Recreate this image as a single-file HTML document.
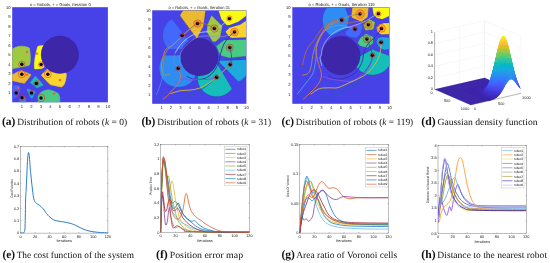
<!DOCTYPE html>
<html><head><meta charset="utf-8"><title>Figure</title>
<style>
html,body{margin:0;padding:0;background:#fff}
body{width:550px;height:263px;overflow:hidden;position:relative}
svg{position:absolute;left:0;top:0;display:block}
</style></head><body>
<svg width="550" height="263" viewBox="0 0 550 263" text-rendering="geometricPrecision">
<rect width="550" height="263" fill="#fff"/>
<defs><filter id="bl" x="0" y="0" width="550" height="263" filterUnits="userSpaceOnUse"><feGaussianBlur stdDeviation="0.4"/></filter></defs>
<g filter="url(#bl)">
<g>
<rect x="12.2" y="7.2" width="95.7" height="95.1" fill="#4743e7"/>
<clipPath id="vc12"><rect x="12.2" y="7.2" width="95.7" height="95.1"/></clipPath>
<g clip-path="url(#vc12)">
<path d="M12.2 49.3 L14.5 47.8 L16.8 46.9 L19 46.4 L21.4 46.2 L24 46.4 L26.3 46.9 L28.6 47.6 L29.4 48.2 L29.8 51.1 L30.3 55.7 L30.3 60.2 L29.8 64 L29 65.3 L24.8 66.3 L18 67.6 L12.2 68.6Z" fill="#9fc942" stroke="#9fc942" stroke-width="0.7" stroke-linejoin="round"/>
<path d="M38.2 46.2 L43.6 45.5 L46 50 L46 60 L43.6 67.4 L41.4 68.4 L35 68.9 L34.6 68.4 L34.4 64.8 L35.1 58 L36.6 51.1 L37.6 47Z" fill="#f9fb15" stroke="#f9fb15" stroke-width="0.7" stroke-linejoin="round"/>
<path d="M12.2 74.8 L18 71.9 L21.4 70.5 L26 72.4 L31 74.8 L28.2 78.6 L24.4 83.2 L18 81.9 L12.2 80.5Z" fill="#eaba31" stroke="#eaba31" stroke-width="0.7" stroke-linejoin="round"/>
<path d="M41.4 75 L46.4 70.2 L50 66 L60 66 L66.2 73.8 L66.2 76 L65.5 80.5 L64 84.5 L62 86.8 L60.5 86.8 L50.3 84.6 L46 80.2Z" fill="#fad42e" stroke="#fad42e" stroke-width="0.7" stroke-linejoin="round"/>
<path d="M30.4 82.6 L35.4 76.2 L43.2 85 L37 87.7Z" fill="#12beb9" stroke="#12beb9" stroke-width="0.7" stroke-linejoin="round"/>
<path d="M12.2 85.9 L19.4 85.7 L19.9 89.9 L18.9 93.9 L16.9 97.3 L12.2 98.3Z" fill="#4367fd" stroke="#4367fd" stroke-width="0.7" stroke-linejoin="round"/>
<path d="M19.7 98.6 L21.9 96.2 L24.9 97.5 L25.8 102.3 L19.4 102.3Z" fill="#2d8cf3" stroke="#2d8cf3" stroke-width="0.7" stroke-linejoin="round"/>
<path d="M27 89.1 L35.3 91.5 L32.1 98.3 L30.3 97Z" fill="#1caadf" stroke="#1caadf" stroke-width="0.7" stroke-linejoin="round"/>
<path d="M38.2 102.3 L38 96.3 L39.4 94 L41.2 92.2 L43.8 90.9 L46.5 90.1 L49.6 89.9 L54 91.3 L58.3 93.6 L59.7 97.2 L59.8 102.3Z" fill="#48cb86" stroke="#48cb86" stroke-width="0.7" stroke-linejoin="round"/>
<circle cx="59.9" cy="54.7" r="19" fill="#3e26a8"/>
</g>
<path d="M25.6 52h2.8M27 50.6v2.8M26 51l2 2M26 53l2 -2" stroke="#f0601e" stroke-width="0.6" fill="none"/>
<path d="M35.5 53.7h2.8M36.9 52.3v2.8M35.9 52.7l2 2M35.9 54.7l2 -2" stroke="#f0601e" stroke-width="0.6" fill="none"/>
<path d="M25.5 74.7h2.8M26.9 73.3v2.8M25.9 73.7l2 2M25.9 75.7l2 -2" stroke="#f0601e" stroke-width="0.6" fill="none"/>
<path d="M58.6 80.1h2.8M60 78.7v2.8M59 79.1l2 2M59 81.1l2 -2" stroke="#f0601e" stroke-width="0.6" fill="none"/>
<path d="M36.4 81.4h2.8M37.8 80v2.8M36.8 80.4l2 2M36.8 82.4l2 -2" stroke="#f0601e" stroke-width="0.6" fill="none"/>
<path d="M16.6 87.8h2.8M18 86.4v2.8M17 86.8l2 2M17 88.8l2 -2" stroke="#f0601e" stroke-width="0.6" fill="none"/>
<path d="M52.8 93.6h2.8M54.2 92.2v2.8M53.2 92.6l2 2M53.2 94.6l2 -2" stroke="#f0601e" stroke-width="0.6" fill="none"/>
<path d="M31.2 92h2.8M32.6 90.6v2.8M31.6 91l2 2M31.6 93l2 -2" stroke="#f0601e" stroke-width="0.6" fill="none"/>
<path d="M22 97.2h2.8M23.4 95.8v2.8M22.4 96.2l2 2M22.4 98.2l2 -2" stroke="#f0601e" stroke-width="0.6" fill="none"/>
<circle cx="21.8" cy="64.3" r="3.2" fill="none" stroke="#e0201c" stroke-width="0.5"/>
<circle cx="21.8" cy="64.3" r="1.75" fill="#080408"/>
<circle cx="41.1" cy="64.5" r="2.6" fill="none" stroke="#e0201c" stroke-width="0.5"/>
<circle cx="41.1" cy="64.5" r="1.75" fill="#080408"/>
<circle cx="21.8" cy="74.2" r="3.5" fill="none" stroke="#e0201c" stroke-width="0.5"/>
<circle cx="21.8" cy="74.2" r="1.75" fill="#080408"/>
<circle cx="47.8" cy="74.2" r="3.5" fill="none" stroke="#e0201c" stroke-width="0.5"/>
<circle cx="47.8" cy="74.2" r="1.75" fill="#080408"/>
<circle cx="36.3" cy="83.5" r="2.4" fill="none" stroke="#e0201c" stroke-width="0.5"/>
<circle cx="36.3" cy="83.5" r="1.75" fill="#080408"/>
<circle cx="16.2" cy="93.1" r="3.1" fill="none" stroke="#e0201c" stroke-width="0.5"/>
<circle cx="16.2" cy="93.1" r="1.75" fill="#080408"/>
<circle cx="22" cy="97.8" r="3.1" fill="none" stroke="#e0201c" stroke-width="0.5"/>
<circle cx="22" cy="97.8" r="1.75" fill="#080408"/>
<circle cx="31.5" cy="93" r="2.6" fill="none" stroke="#e0201c" stroke-width="0.5"/>
<circle cx="31.5" cy="93" r="1.75" fill="#080408"/>
<circle cx="41" cy="97.9" r="3.8" fill="none" stroke="#e0201c" stroke-width="0.5"/>
<circle cx="41" cy="97.9" r="1.75" fill="#080408"/>
<text x="21.8" y="107.9" font-family="'Liberation Sans', Arial, sans-serif" font-size="4.2" fill="#1c1c1c" text-anchor="middle">1</text>
<text x="31.3" y="107.9" font-family="'Liberation Sans', Arial, sans-serif" font-size="4.2" fill="#1c1c1c" text-anchor="middle">2</text>
<text x="40.9" y="107.9" font-family="'Liberation Sans', Arial, sans-serif" font-size="4.2" fill="#1c1c1c" text-anchor="middle">3</text>
<text x="50.5" y="107.9" font-family="'Liberation Sans', Arial, sans-serif" font-size="4.2" fill="#1c1c1c" text-anchor="middle">4</text>
<text x="60" y="107.9" font-family="'Liberation Sans', Arial, sans-serif" font-size="4.2" fill="#1c1c1c" text-anchor="middle">5</text>
<text x="69.6" y="107.9" font-family="'Liberation Sans', Arial, sans-serif" font-size="4.2" fill="#1c1c1c" text-anchor="middle">6</text>
<text x="79.2" y="107.9" font-family="'Liberation Sans', Arial, sans-serif" font-size="4.2" fill="#1c1c1c" text-anchor="middle">7</text>
<text x="88.8" y="107.9" font-family="'Liberation Sans', Arial, sans-serif" font-size="4.2" fill="#1c1c1c" text-anchor="middle">8</text>
<text x="98.3" y="107.9" font-family="'Liberation Sans', Arial, sans-serif" font-size="4.2" fill="#1c1c1c" text-anchor="middle">9</text>
<text x="107.9" y="107.9" font-family="'Liberation Sans', Arial, sans-serif" font-size="4.2" fill="#1c1c1c" text-anchor="middle">10</text>
<text x="10.6" y="94.2" font-family="'Liberation Sans', Arial, sans-serif" font-size="4.2" fill="#1c1c1c" text-anchor="end">1</text>
<text x="10.6" y="84.7" font-family="'Liberation Sans', Arial, sans-serif" font-size="4.2" fill="#1c1c1c" text-anchor="end">2</text>
<text x="10.6" y="75.2" font-family="'Liberation Sans', Arial, sans-serif" font-size="4.2" fill="#1c1c1c" text-anchor="end">3</text>
<text x="10.6" y="65.7" font-family="'Liberation Sans', Arial, sans-serif" font-size="4.2" fill="#1c1c1c" text-anchor="end">4</text>
<text x="10.6" y="56.1" font-family="'Liberation Sans', Arial, sans-serif" font-size="4.2" fill="#1c1c1c" text-anchor="end">5</text>
<text x="10.6" y="46.6" font-family="'Liberation Sans', Arial, sans-serif" font-size="4.2" fill="#1c1c1c" text-anchor="end">6</text>
<text x="10.6" y="37.1" font-family="'Liberation Sans', Arial, sans-serif" font-size="4.2" fill="#1c1c1c" text-anchor="end">7</text>
<text x="10.6" y="27.6" font-family="'Liberation Sans', Arial, sans-serif" font-size="4.2" fill="#1c1c1c" text-anchor="end">8</text>
<text x="10.6" y="18.1" font-family="'Liberation Sans', Arial, sans-serif" font-size="4.2" fill="#1c1c1c" text-anchor="end">9</text>
<text x="10.6" y="8.6" font-family="'Liberation Sans', Arial, sans-serif" font-size="4.2" fill="#1c1c1c" text-anchor="end">10</text>
<text x="29.9" y="5.8" font-family="'Liberation Sans', Arial, sans-serif" font-size="4.15" fill="#1c1c1c" textLength="60.8" lengthAdjust="spacingAndGlyphs">o = Robots, + = Goals, Iteration 0</text>
</g>
<g>
<rect x="152.2" y="10.3" width="94.2" height="93.5" fill="#4743e7"/>
<clipPath id="vc152"><rect x="152.2" y="10.3" width="94.2" height="93.5"/></clipPath>
<g clip-path="url(#vc152)">
<path d="M184.9 35.5 L185 35.6 L185.1 35.8 L185.2 35.9 L185.3 36.1 L185.5 36.2 L185.6 36.4 L185.8 36.7 L186 36.9 L186.2 37.2 L186.4 37.5 L186.7 37.9 L187.1 38.4 L187.5 39 L188.1 39.7 L188.8 40.7 L189.9 42 L191.4 44 L193.9 47.3 L195 49.6 L193.9 49.6 L192.9 49.6 L192 49.6 L191.1 49.6 L190.2 49.6 L189.4 49.6 L188.7 49.6 L187.9 49.6 L187.2 49.6 L186.5 49.6 L185.9 49.6 L185.2 49.6 L184.6 49.6 L184 49.6 L183.3 49.6 L182.7 49.6 L182.1 49.6 L181.5 49.6 L180.9 49.6 L180.2 49.6 L179.6 49.6 L179 49.6 L178.3 49.6 L177.7 49.6 L177 49.6 L176.3 49.6 L175.5 49.6 L174.8 49.6 L174 49.6 L173.1 49.6 L172.2 49.6 L171.3 49.6 L170.3 49.6 L169.2 49.6 L168.3 49.3 L167.7 48.7 L167.2 48 L166.6 47.4 L166.1 46.7 L165.7 46 L165.2 45.3 L164.8 44.5 L164.4 43.7 L164.1 43 L163.8 42.2 L163.5 41.4 L163.3 40.5 L163.1 39.7 L162.9 38.9 L162.8 38 L162.7 37.2 L162.6 36.4 L162.6 35.5 L162.6 34.6 L162.7 33.8 L162.8 33 L162.9 32.1 L163.1 31.3 L163.3 30.5 L163.5 29.6 L163.8 28.8 L164.1 28 L164.4 27.3 L164.8 26.5 L165.2 25.8 L165.7 25 L166.1 24.3 L166.6 23.6 L167.2 23 L167.7 22.3 L168.3 21.7 L168.9 21.1 L169.6 20.6 L170.2 20 L170.9 19.5 L171.6 19.1 L173.5 20.6 L176.1 24.1 L177.7 26.1 L178.8 27.5 L179.6 28.5 L180.1 29.3 L180.6 29.9 L181 30.4 L181.3 30.8 L181.5 31.1 L181.7 31.4 L181.9 31.6 L182.1 31.9 L182.3 32 L182.4 32.2 L182.5 32.4 L182.6 32.5 L182.7 32.7 L182.8 32.8 L182.9 32.9 L183 33 L183.1 33.1 L183.2 33.2 L183.2 33.3 L183.3 33.4 L183.4 33.5 L183.4 33.6 L183.5 33.7 L183.6 33.8 L183.6 33.8 L183.7 33.9 L183.7 34 L183.8 34.1 L183.9 34.2 L183.9 34.2 L184 34.3 L184 34.4 L184.1 34.5 L184.2 34.5 L184.2 34.6 L184.3 34.7 L184.3 34.8 L184.4 34.9 L184.5 35 L184.6 35.1 L184.6 35.2 L184.7 35.3 L184.8 35.4Z" fill="#4367fd" stroke="#20205a" stroke-opacity="0.5" stroke-width="0.35" stroke-linejoin="round"/>
<path d="M203.8 23.5 L203.7 23.8 L203.7 24 L203.7 24.3 L203.6 24.6 L203.6 24.8 L203.6 25.1 L203.5 25.4 L203.5 25.7 L203.4 26 L203.4 26.2 L203.2 26.5 L203.1 26.7 L203 27 L202.9 27.2 L202.7 27.5 L202.6 27.8 L202.4 28 L202.3 28.3 L202.2 28.6 L202 28.9 L201.8 29.2 L201.7 29.5 L201.5 29.8 L201.3 30.1 L201.1 30.5 L200.9 30.9 L200.7 31.3 L200.5 31.7 L200.2 32.2 L200 32.7 L199.7 33.3 L199.3 33.9 L199 34.6 L198.5 35.5 L198.1 36.4 L197.5 37.4 L196.8 38.7 L196.2 37.9 L195.7 37.1 L195.2 36.5 L194.8 35.9 L194.3 35.3 L194 34.8 L193.6 34.3 L193.2 33.8 L192.9 33.3 L192.6 32.9 L192.3 32.5 L192 32.1 L191.7 31.7 L191.5 31.4 L191.2 31 L190.9 30.7 L190.7 30.3 L190.4 30 L190.2 29.6 L190 29.3 L189.7 29 L189.5 28.6 L189.2 28.3 L189 27.9 L188.7 27.6 L188.5 27.2 L188.2 26.9 L187.9 26.5 L187.6 26.1 L187.4 25.7 L187.1 25.3 L186.7 24.9 L186.4 24.5 L186.1 24 L185.7 23.5 L185.3 23 L184.9 22.4 L184.5 21.8 L184 21.1 L183.4 20.4 L182.8 19.6 L182.2 18.7 L181.4 17.7 L180.6 16.5 L180 15.3 L180.4 14.6 L180.8 13.8 L181.2 13.1 L181.7 12.4 L182.2 11.8 L182.7 11.1 L183.3 10.5 L184.3 10.3 L185.4 10.3 L186.4 10.3 L187.4 10.3 L188.3 10.3 L189.1 10.3 L189.9 10.3 L190.6 10.3 L191.3 10.3 L192 10.3 L192.7 10.3 L193.3 10.3 L194 10.3 L194.6 10.3 L195.2 10.3 L195.8 10.3 L196.3 10.3 L196.9 10.3 L197.5 10.3 L198.1 10.3 L198.7 10.3 L199.2 10.3 L199.8 10.3 L200.4 10.3 L201 10.3 L201.7 10.3 L202.3 10.3 L203 10.3 L203.7 10.3 L204.4 10.3 L205.1 10.3 L205.5 10.9 L205.3 12.3 L205.2 13.5 L205 14.5 L204.9 15.4 L204.8 16.2 L204.7 16.9 L204.6 17.5 L204.5 18.1 L204.5 18.6 L204.4 19.1 L204.3 19.6 L204.3 20 L204.2 20.4 L204.2 20.7 L204.1 21.1 L204.1 21.4 L204 21.8 L204 22.1 L203.9 22.4 L203.9 22.7 L203.9 22.9 L203.8 23.2Z" fill="#eaba31" stroke="#20205a" stroke-opacity="0.5" stroke-width="0.35" stroke-linejoin="round"/>
<path d="M211.5 15.3 L222.4 26.2 L220.2 37.2 L215.7 41.8 L212.6 41.8 L206.6 31.7 L207.5 24.4Z" fill="#9fc942" stroke="#20205a" stroke-opacity="0.5" stroke-width="0.35" stroke-linejoin="round"/>
<path d="M218.4 10.3 L246.4 10.3 L246.4 15.7 L238.5 21.7 L229.4 25.3 L226.6 25.3 L221.2 18.9Z" fill="#f9fb15" stroke="#20205a" stroke-opacity="0.5" stroke-width="0.35" stroke-linejoin="round"/>
<path d="M225.4 31.7 L229.4 27.7 L240.3 24.4 L246.4 20.4 L246.4 37.6 L232.1 38.1 L229.4 37.2Z" fill="#fad42e" stroke="#20205a" stroke-opacity="0.5" stroke-width="0.35" stroke-linejoin="round"/>
<path d="M216.2 46.3 L224 39.9 L246.4 39.4 L246.4 56.2 L229.1 58 L220.1 55.4Z" fill="#48cb86" stroke="#20205a" stroke-opacity="0.5" stroke-width="0.35" stroke-linejoin="round"/>
<path d="M246.4 64.4 L246.4 65.1 L246.4 65.8 L246.4 66.5 L246.4 67.3 L246.4 68 L246.4 68.7 L246.4 69.5 L246.4 70.3 L246.4 71.1 L246.4 72 L246.4 72.8 L246.4 73.8 L246.4 74.7 L246 75.5 L245.5 76.1 L245 76.8 L244.4 77.4 L243.8 78 L243.2 78.6 L242.6 79.2 L241.9 79.7 L241.3 80.2 L240.6 80.7 L239.8 81.1 L239.1 81.5 L238.1 81.4 L236.6 79.9 L235.4 78.7 L234.4 77.7 L233.5 76.8 L232.8 76.1 L232.1 75.4 L231.6 74.8 L231.1 74.3 L230.6 73.9 L230.2 73.5 L229.8 73.1 L229.5 72.7 L229.1 72.4 L228.8 72.1 L228.6 71.8 L228.3 71.5 L228 71.3 L227.8 71 L227.6 70.8 L227.3 70.6 L227.1 70.3 L226.9 70.1 L226.7 69.9 L226.5 69.7 L226.3 69.5 L226.1 69.3 L225.9 69.1 L225.7 68.9 L225.5 68.7 L225.3 68.5 L225.1 68.3 L224.9 68.1 L224.7 67.9 L224.5 67.7 L224.3 67.5 L224 67.3 L223.8 67 L223.6 66.8 L223.3 66.6 L223.1 66.3 L222.8 66 L222.5 65.8 L222.2 65.4 L221.9 65.1 L221.6 64.8 L221.2 64.4 L220.8 64 L220.3 63.5 L219.8 63 L219.3 62.5 L218.6 61.8 L217.9 61.1 L218.5 60.7 L219.9 60.6 L221 60.6 L222 60.6 L222.8 60.5 L223.5 60.5 L224.1 60.5 L224.6 60.5 L225.1 60.5 L225.5 60.4 L225.9 60.4 L226.2 60.4 L226.5 60.4 L226.8 60.4 L227.1 60.4 L227.4 60.4 L227.6 60.4 L227.9 60.4 L228.1 60.3 L228.3 60.3 L228.5 60.3 L228.7 60.3 L228.9 60.3 L229.1 60.3 L229.3 60.3 L229.5 60.3 L229.7 60.3 L229.8 60.3 L230 60.3 L230.2 60.3 L230.4 60.3 L230.6 60.3 L230.7 60.3 L230.9 60.2 L231.1 60.2 L231.3 60.2 L231.5 60.2 L231.7 60.2 L231.9 60.2 L232.2 60.2 L232.4 60.2 L232.6 60.2 L232.9 60.2 L233.2 60.2 L233.5 60.2 L233.8 60.1 L234.1 60.1 L234.5 60.1 L234.9 60.1 L235.3 60.1 L235.8 60.1 L236.4 60 L237.1 60 L237.8 60 L238.7 60 L239.8 59.9 L241.1 59.9 L242.8 59.8 L245 59.7 L246.4 60.1 L246.4 60.8 L246.4 61.5 L246.4 62.3 L246.4 63 L246.4 63.7Z" fill="#1caadf" stroke="#20205a" stroke-opacity="0.5" stroke-width="0.35" stroke-linejoin="round"/>
<path d="M225.3 77.3 L225.5 77.7 L225.8 78.1 L226 78.5 L226.3 79 L226.6 79.5 L226.9 80.1 L227.3 80.7 L227.6 81.3 L228.1 82.1 L228.6 82.9 L229.1 83.8 L229.7 84.9 L230.5 86.1 L231.3 87.6 L231.9 89 L231.4 89.7 L230.8 90.3 L230.2 90.9 L229.6 91.5 L229 92.1 L228.3 92.6 L227.7 93.1 L227 93.6 L226.2 94 L225.5 94.4 L224.8 94.8 L224 95.1 L223.2 95.4 L222.4 95.7 L221.6 95.9 L220.8 96.1 L220 96.3 L219.1 96.4 L218.3 96.5 L217.4 96.6 L216.6 96.6 L215.8 96.6 L214.9 96.5 L214.1 96.4 L213.2 96.3 L212.4 96.1 L211.6 95.9 L210.8 95.7 L210 95.4 L209.2 95.1 L208.4 94.8 L207.7 94.4 L206.9 94 L206.2 93.6 L205.5 93.1 L204.9 92.6 L204.2 92.1 L203.6 91.5 L203 90.9 L202.4 90.3 L201.8 89.7 L201.3 89 L200.8 88.4 L200.3 87.7 L199.9 87 L199.5 86.2 L199.1 85.5 L198.8 84.7 L198.5 83.9 L198.2 83.1 L198 82.3 L197.8 81.5 L197.6 80.6 L197.7 79.8 L197.7 78.9 L197.8 78.1 L197.9 77.3 L197.9 76.5 L198 75.7 L198 74.9 L198.1 74 L198.2 73.2 L198.2 72.4 L198.3 71.5 L198.5 70.7 L198.8 69.9 L199.1 69.1 L199.5 68.4 L199.9 67.6 L200.3 66.9 L200.8 66.2 L201.3 65.6 L201.8 64.9 L202.4 64.3 L203 63.7 L203.6 63.1 L204.2 62.5 L204.9 62 L205.5 61.5 L206.2 61 L206.9 60.6 L207.7 60.2 L208.4 59.8 L209.2 59.5 L210 59.2 L210.8 58.9 L211.6 58.7 L212.4 58.5 L213.2 58.3 L214.1 58.2 L215.1 59.9 L215.9 61.3 L216.6 62.5 L217.2 63.5 L217.7 64.4 L218.2 65.2 L218.6 65.9 L219 66.6 L219.3 67.1 L219.6 67.7 L219.9 68.2 L220.2 68.6 L220.4 69.1 L220.7 69.5 L220.9 69.8 L221.1 70.2 L221.3 70.5 L221.5 70.9 L221.7 71.2 L221.9 71.5 L222.1 71.8 L222.2 72.1 L222.4 72.4 L222.6 72.7 L222.8 73 L222.9 73.3 L223.1 73.6 L223.3 73.8 L223.4 74.1 L223.6 74.4 L223.8 74.7 L223.9 75 L224.1 75.3 L224.3 75.6 L224.5 75.9 L224.7 76.2 L224.9 76.6 L225.1 76.9Z" fill="#12beb9" stroke="#20205a" stroke-opacity="0.5" stroke-width="0.35" stroke-linejoin="round"/>
<path d="M196.3 68.3 L196.3 69.1 L196.3 69.9 L196.3 70.7 L196.3 71.5 L196.2 72.3 L196.2 73.1 L196.2 74 L196.1 74.8 L195.8 75.6 L195.4 76.3 L195.1 77.1 L194.7 77.8 L194.2 78.5 L193.8 79.2 L193.3 79.9 L192.8 80.5 L192.2 81.1 L191.6 81.7 L191 82.3 L190.4 82.9 L189.8 83.4 L189.1 83.9 L188.4 84.3 L187.7 84.8 L187 85.2 L186.2 85.5 L185.5 85.9 L184.7 86.2 L183.9 86.4 L183.1 86.7 L182.3 86.8 L181.5 87 L180.7 87.1 L179.9 87.2 L179 87.3 L178.2 87.3 L177.4 87.3 L176.5 87.2 L175.7 87.1 L174.9 87 L174.1 86.8 L173.3 86.7 L172.5 86.4 L171.7 86.2 L170.9 85.9 L170.2 85.5 L169.4 85.2 L168.7 84.8 L168 84.3 L167.3 83.9 L166.6 83.4 L166 82.9 L165.4 82.3 L164.8 81.7 L164.2 81.1 L163.6 80.5 L163.1 79.9 L162.6 79.2 L162.2 78.5 L161.7 77.8 L161.3 77.1 L161 76.3 L160.6 75.6 L160.3 74.8 L160.1 74 L159.8 73.2 L159.7 72.4 L159.5 71.6 L159.4 70.8 L159.3 70 L159.2 69.1 L159.2 68.3 L159.2 67.5 L159.3 66.6 L159.4 65.8 L159.5 65 L159.7 64.2 L159.8 63.4 L160.1 62.6 L160.3 61.8 L160.6 61 L161 60.3 L161.3 59.5 L161.7 58.8 L162.2 58.1 L162.6 57.4 L163.1 56.7 L163.6 56.1 L164.2 55.5 L165.2 55.3 L166.3 55.3 L167.3 55.3 L168.2 55.3 L169.1 55.2 L169.9 55.2 L170.7 55.2 L171.4 55.2 L172.1 55.2 L172.8 55.2 L173.4 55.2 L174.1 55.2 L174.7 55.2 L175.3 55.2 L175.9 55.2 L176.5 55.2 L177 55.2 L177.6 55.1 L178.2 55.1 L178.8 55.1 L179.4 55.1 L179.9 55.1 L180.5 55.1 L181.1 55.1 L181.7 55.1 L182.4 55.1 L183 55.1 L183.7 55.1 L184.4 55.1 L185.1 55.1 L185.9 55 L186.6 55 L187.5 55 L188.4 55 L189.4 55 L190.4 55 L191.5 55 L192.2 55.5 L192.8 56.1 L193.3 56.7 L193.8 57.4 L194.2 58.1 L194.7 58.8 L195.1 59.5 L195.4 60.3 L195.8 61 L196.1 61.8 L196.3 62.6 L196.5 63.4 L196.5 64.3 L196.4 65.1 L196.4 65.9 L196.4 66.7 L196.4 67.5Z" fill="#2d8cf3" stroke="#20205a" stroke-opacity="0.5" stroke-width="0.35" stroke-linejoin="round"/>
<circle cx="199.3" cy="57.1" r="18.8" fill="#3e26a8" stroke="#1a1a50" stroke-opacity="0.5" stroke-width="0.3"/>
<path d="M187.1 76.5C188.4 77 192 79.2 195 79.5C198 79.8 202 79.5 205 78.3C208 77.1 210.8 75 213 72.5C215.2 70 217.2 66.1 218.5 63C219.8 59.9 219.6 57.2 220.5 54C221.4 50.8 222.6 46.8 224 44C225.4 41.2 227.2 39 229 37C230.8 35 233.6 32.9 234.5 32.1" fill="none" stroke="#3b2aa6" stroke-width="0.9" stroke-linecap="round"/>
<path d="M180.5 99.6C182.1 98.9 186.2 97.3 190 95.5C193.8 93.7 198.6 91.5 203 88.5C207.4 85.5 213 80.5 216.5 77.4C220 74.3 221.7 72.2 224 70C226.3 67.8 228.9 66.8 230.2 64.5C231.4 62.2 231.6 58.8 231.5 56C231.4 53.2 230.1 49 229.8 47.6" fill="none" stroke="#2a5aa8" stroke-width="0.9" stroke-linecap="round"/>
<path d="M156.2 94.8C156.8 93.5 158.5 90 159.6 86.9C160.7 83.8 161.8 80.2 162.5 76C163.2 71.8 162.9 66 163.5 62C164.1 58 164.4 54.9 166 52C167.6 49.1 170.3 47.1 173 44.5C175.7 41.9 180.4 37.7 181.9 36.3" fill="none" stroke="#4da2f0" stroke-width="0.6" stroke-linecap="round"/>
<path d="M179.6 61C179.8 59.5 179.7 55.1 181 52.3C182.3 49.5 184.8 46.5 187.4 44.1C190 41.7 193.5 39.1 196.5 37.7C199.5 36.3 202.3 36 205.6 35.9C208.8 35.8 212.6 36.8 216 36.8C219.4 36.8 222.9 36.8 226 36C229.1 35.2 233.1 32.8 234.5 32.1" fill="none" stroke="#9494d8" stroke-width="0.6" stroke-linecap="round"/>
<path d="M180.7 66.7C179.8 66.4 176.7 65.8 175.5 65C174.3 64.2 173.9 63.3 173.7 62C173.5 60.7 174 58.6 174.3 57C174.6 55.4 174.9 53.9 175.5 52.3C176.1 50.7 177.6 48.3 178 47.5" fill="none" stroke="#8494e2" stroke-width="0.45" stroke-linecap="round"/>
<path d="M175.5 52.3C176.6 50.8 179.3 45.9 181.9 43.2C184.5 40.5 187.7 37.7 191 35.9C194.3 34.1 198.3 33 202 32.2C205.7 31.4 209.7 32.4 212.9 31.3C216.2 30.2 218.8 27.6 221.5 25.5C224.2 23.4 228.1 19.6 229.4 18.4" fill="none" stroke="#b0d8f4" stroke-width="0.8" stroke-linecap="round"/>
<path d="M175.9 85.4C176.8 84.4 179.3 80.6 181 79.5C182.7 78.4 184.5 78.9 186 79C187.5 79.1 188.1 80.2 190 80.2C191.9 80.2 194.8 79.4 197.6 79.3C200.4 79.2 203.8 79.8 207 79.5C210.2 79.2 215 77.7 216.6 77.3" fill="none" stroke="#8a4fe0" stroke-width="0.9" stroke-linecap="round"/>
<path d="M161.8 66.7C162.1 65.9 163 64.3 163.6 62C164.2 59.7 163.9 55.8 165.4 53C166.9 50.2 169.8 48 172.5 45.3C175.2 42.6 179 39.3 181.9 36.6C184.8 33.9 187.4 31.1 190.1 28.9C192.8 26.7 195.2 24.2 197.8 23.4C200.4 22.6 202.8 23.1 205.6 24C208.4 24.9 212.9 27.8 214.4 28.5" fill="none" stroke="#b86a3c" stroke-width="0.9" stroke-linecap="round"/>
<path d="M169 74.5C168.1 74.5 164.7 76.1 163.4 74.5C162.2 72.9 161.5 68.2 161.5 65C161.5 61.8 162.7 58.2 163.4 55.5C164.2 52.8 164.4 50.8 166 49C167.6 47.2 170.2 47.1 172.8 45C175.5 42.9 179 39 181.9 36.3C184.8 33.6 187.5 30.7 190.1 28.6C192.7 26.5 196.3 24.4 197.5 23.5" fill="none" stroke="#a8925c" stroke-width="0.9" stroke-linecap="round"/>
<path d="M171 93.5C172.6 93 177.3 91.3 180.5 90.7C183.7 90.1 186.8 90.5 190 90.1C193.2 89.6 196.8 89.2 200 88C203.2 86.8 206.2 84.8 209 83C211.8 81.2 214 79.5 216.5 77.4C219 75.3 221.7 72.7 224 70.5C226.3 68.3 229.2 65.4 230.2 64.4" fill="none" stroke="#d4bd33" stroke-width="0.9" stroke-linecap="round"/>
<path d="M163.2 99C163.9 98.5 165.9 97.2 167.2 96C168.5 94.8 169.2 93.6 171 91.6C172.8 89.6 176.1 86.5 177.7 84C179.3 81.5 180.4 79 180.5 76.4C180.6 73.8 178.6 69.7 178.2 68.3" fill="none" stroke="#e2743e" stroke-width="0.9" stroke-linecap="round"/>
</g>
<circle cx="182.1" cy="35.5" r="2.4" fill="none" stroke="#e0201c" stroke-width="0.5"/>
<circle cx="182.1" cy="35.5" r="1.75" fill="#080408"/>
<path d="M181.7 34.6h1.8M182.6 33.7v1.8" stroke="#e0281c" stroke-width="0.55" fill="none"/>
<circle cx="197.5" cy="23.5" r="3.7" fill="none" stroke="#e0201c" stroke-width="0.5"/>
<circle cx="197.5" cy="23.5" r="2.4" fill="none" stroke="#e8401c" stroke-width="0.45"/>
<circle cx="197.5" cy="23.5" r="1.75" fill="#080408"/>
<path d="M197.1 22.6h1.8M198 21.7v1.8" stroke="#e0281c" stroke-width="0.55" fill="none"/>
<circle cx="214.4" cy="28.5" r="3.7" fill="none" stroke="#e0201c" stroke-width="0.5"/>
<circle cx="214.4" cy="28.5" r="2.3" fill="none" stroke="#e8401c" stroke-width="0.45"/>
<circle cx="214.4" cy="28.5" r="1.75" fill="#080408"/>
<path d="M214 27.6h1.8M214.9 26.7v1.8" stroke="#e0281c" stroke-width="0.55" fill="none"/>
<circle cx="229.4" cy="18.4" r="2.6" fill="none" stroke="#e0201c" stroke-width="0.5"/>
<circle cx="229.4" cy="18.4" r="1.75" fill="#080408"/>
<path d="M229 17.5h1.8M229.9 16.6v1.8" stroke="#e0281c" stroke-width="0.55" fill="none"/>
<circle cx="234.5" cy="32.1" r="3.8" fill="none" stroke="#e0201c" stroke-width="0.5"/>
<circle cx="234.5" cy="32.1" r="2.4" fill="none" stroke="#e8401c" stroke-width="0.45"/>
<circle cx="234.5" cy="32.1" r="1.75" fill="#080408"/>
<path d="M234.1 31.2h1.8M235 30.3v1.8" stroke="#e0281c" stroke-width="0.55" fill="none"/>
<circle cx="229.8" cy="47.6" r="3.6" fill="none" stroke="#e0201c" stroke-width="0.5"/>
<circle cx="229.8" cy="47.6" r="2.3" fill="none" stroke="#e8401c" stroke-width="0.45"/>
<circle cx="229.8" cy="47.6" r="1.75" fill="#080408"/>
<path d="M229.4 46.7h1.8M230.3 45.8v1.8" stroke="#e0281c" stroke-width="0.55" fill="none"/>
<circle cx="230.2" cy="64.4" r="2.4" fill="none" stroke="#e0201c" stroke-width="0.5"/>
<circle cx="230.2" cy="64.4" r="1.75" fill="#080408"/>
<path d="M229.8 63.5h1.8M230.7 62.6v1.8" stroke="#e0281c" stroke-width="0.55" fill="none"/>
<circle cx="216.6" cy="77.3" r="2.5" fill="none" stroke="#e0201c" stroke-width="0.5"/>
<circle cx="216.6" cy="77.3" r="1.75" fill="#080408"/>
<path d="M216.2 76.4h1.8M217.1 75.5v1.8" stroke="#e0281c" stroke-width="0.55" fill="none"/>
<circle cx="178.2" cy="68.3" r="2.4" fill="none" stroke="#e0201c" stroke-width="0.5"/>
<circle cx="178.2" cy="68.3" r="1.75" fill="#080408"/>
<path d="M177.8 67.4h1.8M178.7 66.5v1.8" stroke="#e0281c" stroke-width="0.55" fill="none"/>
<text x="161.6" y="109.4" font-family="'Liberation Sans', Arial, sans-serif" font-size="4.2" fill="#1c1c1c" text-anchor="middle">1</text>
<text x="171" y="109.4" font-family="'Liberation Sans', Arial, sans-serif" font-size="4.2" fill="#1c1c1c" text-anchor="middle">2</text>
<text x="180.5" y="109.4" font-family="'Liberation Sans', Arial, sans-serif" font-size="4.2" fill="#1c1c1c" text-anchor="middle">3</text>
<text x="189.9" y="109.4" font-family="'Liberation Sans', Arial, sans-serif" font-size="4.2" fill="#1c1c1c" text-anchor="middle">4</text>
<text x="199.3" y="109.4" font-family="'Liberation Sans', Arial, sans-serif" font-size="4.2" fill="#1c1c1c" text-anchor="middle">5</text>
<text x="208.7" y="109.4" font-family="'Liberation Sans', Arial, sans-serif" font-size="4.2" fill="#1c1c1c" text-anchor="middle">6</text>
<text x="218.1" y="109.4" font-family="'Liberation Sans', Arial, sans-serif" font-size="4.2" fill="#1c1c1c" text-anchor="middle">7</text>
<text x="227.6" y="109.4" font-family="'Liberation Sans', Arial, sans-serif" font-size="4.2" fill="#1c1c1c" text-anchor="middle">8</text>
<text x="237" y="109.4" font-family="'Liberation Sans', Arial, sans-serif" font-size="4.2" fill="#1c1c1c" text-anchor="middle">9</text>
<text x="246.4" y="109.4" font-family="'Liberation Sans', Arial, sans-serif" font-size="4.2" fill="#1c1c1c" text-anchor="middle">10</text>
<text x="150.6" y="95.9" font-family="'Liberation Sans', Arial, sans-serif" font-size="4.2" fill="#1c1c1c" text-anchor="end">1</text>
<text x="150.6" y="86.5" font-family="'Liberation Sans', Arial, sans-serif" font-size="4.2" fill="#1c1c1c" text-anchor="end">2</text>
<text x="150.6" y="77.2" font-family="'Liberation Sans', Arial, sans-serif" font-size="4.2" fill="#1c1c1c" text-anchor="end">3</text>
<text x="150.6" y="67.8" font-family="'Liberation Sans', Arial, sans-serif" font-size="4.2" fill="#1c1c1c" text-anchor="end">4</text>
<text x="150.6" y="58.4" font-family="'Liberation Sans', Arial, sans-serif" font-size="4.2" fill="#1c1c1c" text-anchor="end">5</text>
<text x="150.6" y="49.1" font-family="'Liberation Sans', Arial, sans-serif" font-size="4.2" fill="#1c1c1c" text-anchor="end">6</text>
<text x="150.6" y="39.7" font-family="'Liberation Sans', Arial, sans-serif" font-size="4.2" fill="#1c1c1c" text-anchor="end">7</text>
<text x="150.6" y="30.4" font-family="'Liberation Sans', Arial, sans-serif" font-size="4.2" fill="#1c1c1c" text-anchor="end">8</text>
<text x="150.6" y="21.1" font-family="'Liberation Sans', Arial, sans-serif" font-size="4.2" fill="#1c1c1c" text-anchor="end">9</text>
<text x="150.6" y="11.7" font-family="'Liberation Sans', Arial, sans-serif" font-size="4.2" fill="#1c1c1c" text-anchor="end">10</text>
<text x="168.4" y="8.5" font-family="'Liberation Sans', Arial, sans-serif" font-size="4.1" fill="#1c1c1c" textLength="61.6" lengthAdjust="spacingAndGlyphs">o = Robots, + = Goals, Iteration 31</text>
</g>
<g>
<rect x="292.3" y="7.2" width="97.2" height="96.6" fill="#4743e7"/>
<clipPath id="vc292"><rect x="292.3" y="7.2" width="97.2" height="96.6"/></clipPath>
<g clip-path="url(#vc292)">
<path d="M348.9 20 L348.8 20.3 L348.7 20.6 L348.7 20.9 L348.6 21.2 L348.5 21.5 L348.5 21.8 L348.4 22.1 L348.4 22.4 L348.3 22.7 L348.2 23 L348.2 23.4 L348.1 23.7 L348 24 L347.9 24.4 L347.9 24.7 L347.8 25.1 L347.7 25.5 L347.6 25.9 L347.5 26.3 L347.4 26.8 L347.3 27.3 L347.2 27.8 L346.8 28 L346.4 28.2 L346.1 28.4 L345.7 28.6 L345.3 28.8 L345 28.9 L344.6 29.1 L344.2 29.3 L343.8 29.5 L343.4 29.7 L343 29.9 L342.6 30.2 L342.2 30.4 L341.7 30.6 L341.2 30.8 L340.7 31.1 L340.2 31.4 L339.6 31.7 L339 32 L338.4 32.3 L337.7 32.6 L337 33 L336.1 33.4 L335.2 33.9 L334.2 34.4 L333 35 L331.7 35.7 L330.6 35.8 L330 35.3 L329.3 34.8 L328.7 34.2 L328.1 33.6 L327.5 33 L326.9 32.4 L326.4 31.7 L325.9 31.1 L325.4 30.4 L325 29.7 L324.6 28.9 L324.2 28.2 L323.9 27.4 L323.6 26.6 L323.3 25.8 L323.1 25 L322.9 24.2 L322.7 23.4 L322.6 22.5 L322.5 21.7 L322.4 20.8 L322.4 20 L322.4 19.2 L322.5 18.3 L322.6 17.5 L322.7 16.6 L322.9 15.8 L323.1 15 L323.3 14.2 L323.6 13.4 L323.9 12.6 L324.2 11.8 L324.6 11.1 L325 10.3 L325.4 9.6 L325.9 8.9 L326.4 8.3 L326.9 7.6 L327.7 7.2 L328.9 7.2 L330 7.2 L331 7.2 L331.9 7.2 L332.7 7.2 L333.5 7.2 L334.3 7.2 L335 7.2 L335.7 7.2 L336.4 7.2 L337 7.2 L337.7 7.2 L338.3 7.2 L338.9 7.2 L339.4 7.2 L340 7.2 L340.6 7.2 L341.1 7.2 L341.7 7.2 L342.3 7.2 L342.8 7.2 L343.4 7.2 L344 7.2 L344.5 7.2 L345.1 7.2 L345.5 8 L345.8 8.8 L346.1 9.5 L346.3 10.1 L346.5 10.7 L346.7 11.3 L346.9 11.8 L347.1 12.3 L347.3 12.7 L347.5 13.1 L347.6 13.5 L347.8 13.9 L347.9 14.3 L348 14.7 L348.2 15 L348.3 15.4 L348.4 15.7 L348.6 16 L348.7 16.4 L348.8 16.7 L348.9 17 L349 17.3 L349.2 17.6 L349.3 18 L349.2 18.3 L349.2 18.7 L349.1 19 L349 19.4 L348.9 19.7Z" fill="#2d8cf3" stroke="#20205a" stroke-opacity="0.5" stroke-width="0.35" stroke-linejoin="round"/>
<path d="M352.3 7.2 L368.7 7.2 L367.8 16.9 L361.4 21.8 L351.9 17.8 L351.4 15Z" fill="#eaba31" stroke="#20205a" stroke-opacity="0.5" stroke-width="0.35" stroke-linejoin="round"/>
<path d="M372.4 7.2 L389.5 7.2 L389.5 16 L382.4 19.2 L376.9 18.1 L373.3 14.1Z" fill="#f9fb15" stroke="#20205a" stroke-opacity="0.5" stroke-width="0.35" stroke-linejoin="round"/>
<path d="M345.2 31.5 L350 27.8 L355 24.7 L360.5 23.2 L363 26.5 L360.4 34.2 L357 38 L351.8 37.6 L345.4 35.1Z" fill="#4367fd" stroke="#20205a" stroke-opacity="0.5" stroke-width="0.35" stroke-linejoin="round"/>
<path d="M369.6 19.2 L375.1 22.3 L373.3 29.6 L365.4 30.5 L363.2 24.7Z" fill="#9fc942" stroke="#20205a" stroke-opacity="0.5" stroke-width="0.35" stroke-linejoin="round"/>
<path d="M376.4 27.8 L379.7 24.2 L384.2 22.9 L389.5 22.9 L389.5 34.2 L381.5 34.6 L377.8 32.4Z" fill="#fad42e" stroke="#20205a" stroke-opacity="0.5" stroke-width="0.35" stroke-linejoin="round"/>
<path d="M366.2 33.5 L373.5 37 L373 43.2 L366.9 48 L359.8 45.8 L357.6 42.9 L360.2 38Z" fill="#48cb86" stroke="#20205a" stroke-opacity="0.5" stroke-width="0.35" stroke-linejoin="round"/>
<path d="M377.5 38.5 L381.5 36.9 L389.5 37.5 L389.5 49 L384.2 50.2 L378.3 46.4 L376.4 42Z" fill="#1caadf" stroke="#20205a" stroke-opacity="0.5" stroke-width="0.35" stroke-linejoin="round"/>
<path d="M388 55.2 L389.5 55.9 L389.5 56.7 L389.5 57.5 L389.5 58.2 L389.5 59 L389.5 59.8 L389.5 60.6 L389.5 61.4 L389.5 62.3 L389.5 63.2 L389.5 64.1 L389.5 65.1 L389.1 65.8 L388.6 66.6 L388.1 67.3 L387.6 67.9 L387 68.6 L386.4 69.2 L385.8 69.8 L385.1 70.4 L384.5 70.9 L383.8 71.4 L383 71.9 L382.3 72.3 L381.5 72.8 L380.8 73.1 L380 73.5 L379.2 73.8 L378.4 74.1 L377.5 74.3 L376.7 74.5 L375.8 74.7 L375 74.8 L374.1 74.9 L373.3 75 L372.4 75 L371.5 75 L370.7 74.9 L369.8 74.8 L369 74.7 L368.1 74.5 L367.3 74.3 L366.4 74.1 L365.6 73.8 L364.8 73.5 L364 73.1 L363.3 72.8 L362.5 72.3 L361.8 71.9 L361 71.4 L360.3 70.9 L359.7 70.4 L359 69.8 L358.4 69.2 L357.8 68.6 L357.2 67.9 L356.7 67.3 L356.2 66.6 L355.7 65.8 L355.3 65.1 L354.8 64.3 L354.5 63.6 L354.1 62.8 L353.8 62 L353.5 61.2 L353.3 60.3 L354.6 59.1 L356.7 58 L358.4 57 L359.7 56.3 L360.8 55.7 L361.7 55.2 L362.5 54.8 L363.2 54.4 L363.8 54.1 L364.3 53.8 L364.8 53.5 L365.2 53.3 L365.6 53.1 L366 52.9 L366.3 52.7 L366.6 52.5 L366.9 52.3 L367.2 52.2 L367.4 52 L367.7 51.9 L367.9 51.8 L368.2 51.6 L368.4 51.5 L368.6 51.4 L368.8 51.3 L369 51.2 L369.2 51.1 L369.4 50.9 L369.6 50.8 L369.8 50.7 L370 50.6 L370.2 50.5 L370.4 50.4 L370.6 50.3 L370.8 50.2 L371 50.1 L371.2 49.9 L371.5 49.8 L371.7 49.7 L371.9 49.6 L372.1 49.4 L372.4 49.3 L372.7 49.4 L372.9 49.5 L373.1 49.6 L373.4 49.7 L373.6 49.8 L373.8 49.8 L374.1 49.9 L374.3 50 L374.5 50.1 L374.7 50.2 L375 50.3 L375.2 50.4 L375.4 50.4 L375.7 50.5 L375.9 50.6 L376.2 50.7 L376.4 50.8 L376.7 50.9 L377 51 L377.2 51.1 L377.5 51.2 L377.9 51.4 L378.2 51.5 L378.6 51.6 L379 51.8 L379.4 51.9 L379.8 52.1 L380.3 52.3 L380.9 52.5 L381.5 52.8 L382.2 53 L383 53.3 L384 53.7 L385.1 54.1 L386.4 54.6Z" fill="#12beb9" stroke="#20205a" stroke-opacity="0.5" stroke-width="0.35" stroke-linejoin="round"/>
<circle cx="340.9" cy="55.6" r="19.4" fill="#3e26a8" stroke="#1a1a50" stroke-opacity="0.5" stroke-width="0.3"/>
<path d="M328.3 75.6C329.6 76.2 332.9 78.7 336 79C339.1 79.3 343.7 78.7 347 77.5C350.3 76.3 353.5 74.6 356 72C358.5 69.4 360.7 65.3 362 62C363.3 58.7 363 55 364 52C365 49 366 46.7 368 44C370 41.3 373.8 38.6 376 36C378.2 33.4 380.6 29.7 381.5 28.4" fill="none" stroke="#3b2aa6" stroke-width="0.9" stroke-linecap="round"/>
<path d="M322.4 98.5C324.3 97.9 330.1 96.4 334 95C337.9 93.6 342.3 92 346 90C349.7 88 352.8 86.1 356 83C359.2 79.9 362.6 74.5 365 71.2C367.4 67.9 369.3 65.7 370.5 63C371.7 60.3 372.5 57.9 372.4 55.2C372.3 52.5 370.9 49.7 370 47C369.1 44.3 367.4 40.3 366.9 39" fill="none" stroke="#2a5aa8" stroke-width="0.9" stroke-linecap="round"/>
<path d="M297.3 94C298.8 92.2 303.4 86.5 306 83C308.6 79.5 311.3 77.1 313 73C314.7 68.9 315.4 62.7 316 58.4C316.6 54.1 315.8 50.7 316.5 47C317.2 43.3 318.4 39.2 320.5 36C322.6 32.8 325.8 29.8 329 28C332.2 26.2 336.7 25.6 340 25.5C343.3 25.4 346.5 26.9 349 27.5C351.5 28.1 354 28.7 355 28.9" fill="none" stroke="#4da2f0" stroke-width="0.9" stroke-linecap="round"/>
<path d="M321.8 65.5C321.5 64.2 320.1 59.8 320 58C319.9 56.2 320.9 56.7 321.3 55C321.7 53.3 321.7 50.3 322.5 48C323.3 45.7 324.7 43.1 326 41C327.3 38.9 328.9 37.1 330.5 35.5C332.1 33.9 333.7 32.8 335.6 31.6C337.5 30.4 339.6 29.3 342 28.5C344.4 27.7 347.3 27.5 349.8 26.8C352.3 26.1 354.3 25.5 357 24.5C359.7 23.5 363.5 22.2 366 21C368.5 19.8 369.9 18.2 372 17C374.1 15.8 377.3 14.3 378.4 13.8" fill="none" stroke="#b4c0f0" stroke-width="0.75" stroke-linecap="round"/>
<path d="M323 76.6C324.3 77 328.3 78.4 330.6 79C332.9 79.6 333.8 79.6 337 80C340.2 80.4 346.5 81.7 350 81.4C353.5 81.1 355.3 79.7 358 78C360.7 76.3 363.8 74 366 71.5C368.2 69 369.9 65.7 371 63C372.1 60.3 372.2 56.5 372.4 55.2" fill="none" stroke="#8a4fe0" stroke-width="0.9" stroke-linecap="round"/>
<path d="M302.5 75C303.4 74.8 306.6 74.8 308 73.5C309.4 72.2 310.1 70.6 311 67C311.9 63.4 312.2 56.7 313.5 52C314.8 47.3 316.3 43.2 318.5 39C320.7 34.8 323.6 29.6 326.5 26.5C329.4 23.4 333.5 21.7 336 20.5C338.5 19.3 339.4 20.3 341.7 19.5C344 18.7 346.9 16.7 350 15.8C353.1 14.9 358.3 14.4 360 14.1" fill="none" stroke="#a8925c" stroke-width="0.9" stroke-linecap="round"/>
<path d="M302.5 64.6C303.2 62.2 304.7 54.2 306.7 50C308.7 45.8 311.8 43.2 314.7 39.2C317.6 35.2 320.7 29.1 324.2 25.9C327.7 22.7 332.7 21.2 335.6 20.2C338.5 19.2 339.6 19.5 341.7 20C343.8 20.5 345.4 22.8 348 23C350.6 23.2 354.3 21.7 357 21.5C359.7 21.3 362.1 21.5 364 22C365.9 22.5 367.7 24.2 368.4 24.7" fill="none" stroke="#b86a3c" stroke-width="0.9" stroke-linecap="round"/>
<path d="M311 94C312.4 93.1 316.3 89.7 319.3 88.7C322.3 87.7 325.9 88 329 87.8C332.1 87.6 334.5 88.5 338 87.6C341.5 86.7 346.6 83.9 350 82.4C353.4 80.9 355.6 80.2 358.7 78.5C361.8 76.8 365.7 75 368.7 72.1C371.7 69.2 374.9 64.8 376.9 61.2C378.9 57.6 379.9 53.4 380.6 50.2C381.3 47 381 43.5 381.1 42.2" fill="none" stroke="#d4bd33" stroke-width="0.9" stroke-linecap="round"/>
<path d="M303.6 99C305.9 96.8 314.2 89.5 317.2 85.5C320.2 81.5 321.2 78.8 321.4 75C321.6 71.2 319.1 66.7 318.2 62.5C317.3 58.3 315.6 54.2 316 50C316.4 45.8 318.4 41.2 320.4 37.3C322.4 33.4 324.8 29.5 328 26.8C331.2 24.1 337.1 22.2 339.4 21.1C341.7 20 341.3 20.2 341.7 20" fill="none" stroke="#e2743e" stroke-width="0.9" stroke-linecap="round"/>
</g>
<circle cx="341.7" cy="20" r="2.5" fill="none" stroke="#e0201c" stroke-width="0.5"/>
<circle cx="341.7" cy="20" r="1.75" fill="#080408"/>
<path d="M341.3 19.1h1.8M342.2 18.2v1.8" stroke="#e0281c" stroke-width="0.55" fill="none"/>
<circle cx="360" cy="14.1" r="4.2" fill="none" stroke="#e0201c" stroke-width="0.5"/>
<circle cx="360" cy="14.1" r="2.5" fill="none" stroke="#e8401c" stroke-width="0.45"/>
<circle cx="360" cy="14.1" r="1.75" fill="#080408"/>
<path d="M359.6 13.2h1.8M360.5 12.3v1.8" stroke="#e0281c" stroke-width="0.55" fill="none"/>
<circle cx="378.4" cy="13.8" r="2.6" fill="none" stroke="#e0201c" stroke-width="0.5"/>
<circle cx="378.4" cy="13.8" r="1.75" fill="#080408"/>
<path d="M378 12.9h1.8M378.9 12v1.8" stroke="#e0281c" stroke-width="0.55" fill="none"/>
<circle cx="355" cy="28.9" r="2.6" fill="none" stroke="#e0201c" stroke-width="0.5"/>
<circle cx="355" cy="28.9" r="1.75" fill="#080408"/>
<path d="M354.6 28h1.8M355.5 27.1v1.8" stroke="#e0281c" stroke-width="0.55" fill="none"/>
<circle cx="368.4" cy="24.7" r="3.8" fill="none" stroke="#e0201c" stroke-width="0.5"/>
<circle cx="368.4" cy="24.7" r="2.4" fill="none" stroke="#e8401c" stroke-width="0.45"/>
<circle cx="368.4" cy="24.7" r="1.75" fill="#080408"/>
<path d="M368 23.8h1.8M368.9 22.9v1.8" stroke="#e0281c" stroke-width="0.55" fill="none"/>
<circle cx="381.5" cy="28.4" r="3.8" fill="none" stroke="#e0201c" stroke-width="0.5"/>
<circle cx="381.5" cy="28.4" r="2.4" fill="none" stroke="#e8401c" stroke-width="0.45"/>
<circle cx="381.5" cy="28.4" r="1.75" fill="#080408"/>
<path d="M381.1 27.5h1.8M382 26.6v1.8" stroke="#e0281c" stroke-width="0.55" fill="none"/>
<circle cx="366.9" cy="39" r="3.9" fill="none" stroke="#e0201c" stroke-width="0.5"/>
<circle cx="366.9" cy="39" r="2.4" fill="none" stroke="#e8401c" stroke-width="0.45"/>
<circle cx="366.9" cy="39" r="1.75" fill="#080408"/>
<path d="M366.5 38.1h1.8M367.4 37.2v1.8" stroke="#e0281c" stroke-width="0.55" fill="none"/>
<circle cx="381.1" cy="42.2" r="2.6" fill="none" stroke="#e0201c" stroke-width="0.5"/>
<circle cx="381.1" cy="42.2" r="1.75" fill="#080408"/>
<path d="M380.7 41.3h1.8M381.6 40.4v1.8" stroke="#e0281c" stroke-width="0.55" fill="none"/>
<circle cx="372.4" cy="55.2" r="2.5" fill="none" stroke="#e0201c" stroke-width="0.5"/>
<circle cx="372.4" cy="55.2" r="1.75" fill="#080408"/>
<path d="M372 54.3h1.8M372.9 53.4v1.8" stroke="#e0281c" stroke-width="0.55" fill="none"/>
<text x="302" y="109.4" font-family="'Liberation Sans', Arial, sans-serif" font-size="4.2" fill="#1c1c1c" text-anchor="middle">1</text>
<text x="311.7" y="109.4" font-family="'Liberation Sans', Arial, sans-serif" font-size="4.2" fill="#1c1c1c" text-anchor="middle">2</text>
<text x="321.5" y="109.4" font-family="'Liberation Sans', Arial, sans-serif" font-size="4.2" fill="#1c1c1c" text-anchor="middle">3</text>
<text x="331.2" y="109.4" font-family="'Liberation Sans', Arial, sans-serif" font-size="4.2" fill="#1c1c1c" text-anchor="middle">4</text>
<text x="340.9" y="109.4" font-family="'Liberation Sans', Arial, sans-serif" font-size="4.2" fill="#1c1c1c" text-anchor="middle">5</text>
<text x="350.6" y="109.4" font-family="'Liberation Sans', Arial, sans-serif" font-size="4.2" fill="#1c1c1c" text-anchor="middle">6</text>
<text x="360.3" y="109.4" font-family="'Liberation Sans', Arial, sans-serif" font-size="4.2" fill="#1c1c1c" text-anchor="middle">7</text>
<text x="370.1" y="109.4" font-family="'Liberation Sans', Arial, sans-serif" font-size="4.2" fill="#1c1c1c" text-anchor="middle">8</text>
<text x="379.8" y="109.4" font-family="'Liberation Sans', Arial, sans-serif" font-size="4.2" fill="#1c1c1c" text-anchor="middle">9</text>
<text x="389.5" y="109.4" font-family="'Liberation Sans', Arial, sans-serif" font-size="4.2" fill="#1c1c1c" text-anchor="middle">10</text>
<text x="290.7" y="95.5" font-family="'Liberation Sans', Arial, sans-serif" font-size="4.2" fill="#1c1c1c" text-anchor="end">1</text>
<text x="290.7" y="85.9" font-family="'Liberation Sans', Arial, sans-serif" font-size="4.2" fill="#1c1c1c" text-anchor="end">2</text>
<text x="290.7" y="76.2" font-family="'Liberation Sans', Arial, sans-serif" font-size="4.2" fill="#1c1c1c" text-anchor="end">3</text>
<text x="290.7" y="66.6" font-family="'Liberation Sans', Arial, sans-serif" font-size="4.2" fill="#1c1c1c" text-anchor="end">4</text>
<text x="290.7" y="56.9" font-family="'Liberation Sans', Arial, sans-serif" font-size="4.2" fill="#1c1c1c" text-anchor="end">5</text>
<text x="290.7" y="47.2" font-family="'Liberation Sans', Arial, sans-serif" font-size="4.2" fill="#1c1c1c" text-anchor="end">6</text>
<text x="290.7" y="37.6" font-family="'Liberation Sans', Arial, sans-serif" font-size="4.2" fill="#1c1c1c" text-anchor="end">7</text>
<text x="290.7" y="27.9" font-family="'Liberation Sans', Arial, sans-serif" font-size="4.2" fill="#1c1c1c" text-anchor="end">8</text>
<text x="290.7" y="18.3" font-family="'Liberation Sans', Arial, sans-serif" font-size="4.2" fill="#1c1c1c" text-anchor="end">9</text>
<text x="290.7" y="8.6" font-family="'Liberation Sans', Arial, sans-serif" font-size="4.2" fill="#1c1c1c" text-anchor="end">10</text>
<text x="308.4" y="5.6" font-family="'Liberation Sans', Arial, sans-serif" font-size="4.25" fill="#1c1c1c" textLength="66.3" lengthAdjust="spacingAndGlyphs">o = Robots, + = Goals, Iteration 119</text>
</g>
<g>
<path d="M434.6 89.2L484.6 77.7" stroke="#e9e9e9" stroke-width="0.35" fill="none"/>
<path d="M484.6 77.7L520.8 93.4" stroke="#e9e9e9" stroke-width="0.35" fill="none"/>
<path d="M434.6 77.8L484.6 66.3" stroke="#e9e9e9" stroke-width="0.35" fill="none"/>
<path d="M484.6 66.3L520.8 82" stroke="#e9e9e9" stroke-width="0.35" fill="none"/>
<path d="M434.6 66.4L484.6 54.9" stroke="#e9e9e9" stroke-width="0.35" fill="none"/>
<path d="M484.6 54.9L520.8 70.6" stroke="#e9e9e9" stroke-width="0.35" fill="none"/>
<path d="M434.6 55L484.6 43.5" stroke="#e9e9e9" stroke-width="0.35" fill="none"/>
<path d="M484.6 43.5L520.8 59.2" stroke="#e9e9e9" stroke-width="0.35" fill="none"/>
<path d="M434.6 43.6L484.6 32.1" stroke="#e9e9e9" stroke-width="0.35" fill="none"/>
<path d="M484.6 32.1L520.8 47.8" stroke="#e9e9e9" stroke-width="0.35" fill="none"/>
<path d="M434.6 32.2L484.6 20.7" stroke="#e9e9e9" stroke-width="0.35" fill="none"/>
<path d="M484.6 20.7L520.8 36.4" stroke="#e9e9e9" stroke-width="0.35" fill="none"/>
<path d="M434.6 89.2L434.6 32.2" stroke="#e9e9e9" stroke-width="0.35" fill="none"/>
<path d="M520.8 93.4L520.8 36.4" stroke="#e9e9e9" stroke-width="0.35" fill="none"/>
<path d="M459.6 83.5L459.6 26.5" stroke="#e9e9e9" stroke-width="0.35" fill="none"/>
<path d="M502.7 85.6L502.7 28.6" stroke="#e9e9e9" stroke-width="0.35" fill="none"/>
<path d="M484.6 77.7L484.6 20.7" stroke="#e9e9e9" stroke-width="0.35" fill="none"/>
<path d="M484.6 77.7L484.6 20.7" stroke="#e9e9e9" stroke-width="0.35" fill="none"/>
<path d="M434.6 89.2L434.6 32.2" stroke="#4a4a4a" stroke-width="0.4" fill="none"/>
<path d="M470.8 104.9L520.8 93.4" stroke="#4a4a4a" stroke-width="0.4" fill="none"/>
<path d="M470.8 104.9L434.6 89.2" stroke="#4a4a4a" stroke-width="0.4" fill="none"/>
<path d="M470.8 104.9 L488.8 100.8 L465.6 90.7 L497.6 83.4 L484.6 77.7 L434.6 89.2Z" fill="#3e26a8"/>
<g>
<path d="M496.5 83.7 497.9 83.4 496.5 82.9 495.1 83.2Z" fill="#3e26a9"/>
<path d="M495.7 83.9 497.6 83.5 496.2 82.9 494.3 83.4Z" fill="#3e26a9"/>
<path d="M494.8 84.1 496.7 83.7 495.3 83.1 493.4 83.6Z" fill="#3e26a9"/>
<path d="M493.9 84.3 495.8 83.9 494.4 83.3 492.5 83.8Z" fill="#3e27a9"/>
<path d="M493.1 84.5 495 84.1 493.6 83.5 491.7 84Z" fill="#3e27a9"/>
<path d="M492.2 84.7 494.1 84.3 492.7 83.7 490.8 84.2Z" fill="#3e27a9"/>
<path d="M491.3 84.9 493.2 84.5 491.8 83.9 489.9 84.4Z" fill="#3e27a9"/>
<path d="M490.4 85.1 492.4 84.7 491 84.1 489.1 84.6Z" fill="#3e27a9"/>
<path d="M489.6 85.3 491.5 84.8 490.1 84.3 488.2 84.8Z" fill="#3e27a9"/>
<path d="M488.7 85.5 490.6 85 489.2 84.5 487.3 84.9Z" fill="#3e27a9"/>
<path d="M487.8 85.7 489.8 85.2 488.4 84.7 486.5 85.1Z" fill="#3e27a9"/>
<path d="M487 85.9 488.9 85.4 487.5 84.9 485.6 85.3Z" fill="#3e27a9"/>
<path d="M486.1 86.1 488 85.6 486.6 85.1 484.7 85.5Z" fill="#3e27a9"/>
<path d="M485.2 86.3 487.1 85.8 485.8 85.3 483.9 85.7Z" fill="#3e27a9"/>
<path d="M484.4 86.5 486.3 86 484.9 85.5 483 86Z" fill="#3e27a9"/>
<path d="M483.5 86.7 485.4 86.2 484 85.7 482.1 86.2Z" fill="#3e27a9"/>
<path d="M482.6 86.9 484.5 86.4 483.2 85.9 481.2 86.4Z" fill="#3e27a9"/>
<path d="M481.8 87.1 483.7 86.6 482.3 86.1 480.4 86.6Z" fill="#3e27a9"/>
<path d="M480.9 87.3 482.8 86.9 481.4 86.3 479.5 86.8Z" fill="#3e27a9"/>
<path d="M480 87.5 481.9 87.1 480.6 86.5 478.6 87Z" fill="#3e27a9"/>
<path d="M479.2 87.7 481.1 87.3 479.7 86.7 477.8 87.2Z" fill="#3e27a9"/>
<path d="M478.3 87.9 480.2 87.5 478.8 86.9 476.9 87.4Z" fill="#3e26a9"/>
<path d="M477.4 88.2 479.3 87.7 477.9 87.1 476 87.6Z" fill="#3e26a9"/>
<path d="M476.6 88.4 478.5 87.9 477.1 87.3 475.2 87.8Z" fill="#3e26a9"/>
<path d="M475.7 88.6 477.6 88.1 476.2 87.5 474.3 88Z" fill="#3e26a9"/>
<path d="M474.8 88.8 476.7 88.3 475.3 87.7 473.4 88.2Z" fill="#3e26a9"/>
<path d="M473.9 89 475.9 88.5 474.5 87.9 472.6 88.4Z" fill="#3e26a9"/>
<path d="M473.1 89.2 475 88.7 473.6 88.1 471.7 88.6Z" fill="#3e26a8"/>
<path d="M472.2 89.4 474.1 88.9 472.7 88.3 470.8 88.8Z" fill="#3e26a8"/>
<path d="M471.3 89.6 473.3 89.1 471.9 88.5 470 89Z" fill="#3e26a8"/>
<path d="M470.5 89.8 472.4 89.3 471 88.7 469.1 89.2Z" fill="#3e26a8"/>
<path d="M469.6 90 471.5 89.5 470.1 88.9 468.2 89.4Z" fill="#3e26a8"/>
<path d="M468.7 90.2 470.6 89.7 469.3 89.1 467.4 89.6Z" fill="#3e26a8"/>
<path d="M467.9 90.4 469.8 89.9 468.4 89.3 466.5 89.8Z" fill="#3e26a8"/>
<path d="M467 90.6 468.9 90.1 467.5 89.5 465.6 90Z" fill="#3e26a8"/>
<path d="M466.1 90.8 468 90.3 466.7 89.7 464.7 90.2Z" fill="#3e26a8"/>
<path d="M465.3 91 467.2 90.5 465.8 89.9 463.9 90.4Z" fill="#3e26a8"/>
<path d="M464.4 91.2 466.3 90.7 464.9 90.1 463 90.6Z" fill="#3e26a8"/>
<path d="M497.2 84 498.5 83.7 497.2 83.1 495.8 83.4Z" fill="#3e27a9"/>
<path d="M496.3 84.2 498.2 83.8 496.8 83.2 494.9 83.6Z" fill="#3e27a9"/>
<path d="M495.4 84.4 497.3 84 495.9 83.4 494 83.8Z" fill="#3e27a9"/>
<path d="M494.5 84.5 496.5 84.1 495.1 83.6 493.2 84Z" fill="#3e27a9"/>
<path d="M493.7 84.7 495.6 84.3 494.2 83.8 492.3 84.2Z" fill="#3e27a9"/>
<path d="M492.8 84.9 494.7 84.5 493.3 84 491.4 84.4Z" fill="#3e27aa"/>
<path d="M491.9 85.1 493.9 84.7 492.5 84.2 490.6 84.6Z" fill="#3e27aa"/>
<path d="M491.1 85.3 493 84.9 491.6 84.4 489.7 84.8Z" fill="#3e27aa"/>
<path d="M490.2 85.5 492.1 85 490.7 84.6 488.8 85Z" fill="#3e27aa"/>
<path d="M489.3 85.7 491.2 85.2 489.9 84.8 488 85.2Z" fill="#3e27aa"/>
<path d="M488.5 85.9 490.4 85.4 489 85 487.1 85.4Z" fill="#3e27aa"/>
<path d="M487.6 86.1 489.5 85.6 488.1 85.2 486.2 85.6Z" fill="#3e27aa"/>
<path d="M486.7 86.3 488.6 85.8 487.3 85.4 485.3 85.8Z" fill="#3e27aa"/>
<path d="M485.9 86.5 487.8 86 486.4 85.6 484.5 86Z" fill="#3e27aa"/>
<path d="M485 86.7 486.9 86.2 485.5 85.8 483.6 86.2Z" fill="#3e27aa"/>
<path d="M484.1 86.9 486 86.4 484.7 86 482.7 86.4Z" fill="#3e27aa"/>
<path d="M483.3 87.1 485.2 86.6 483.8 86.2 481.9 86.6Z" fill="#3e27aa"/>
<path d="M482.4 87.3 484.3 86.8 482.9 86.4 481 86.8Z" fill="#3e27aa"/>
<path d="M481.5 87.5 483.4 87.1 482 86.6 480.1 87Z" fill="#3e27a9"/>
<path d="M480.7 87.8 482.6 87.3 481.2 86.8 479.3 87.2Z" fill="#3e27a9"/>
<path d="M479.8 88 481.7 87.5 480.3 87 478.4 87.4Z" fill="#3e27a9"/>
<path d="M478.9 88.2 480.8 87.7 479.4 87.2 477.5 87.6Z" fill="#3e27a9"/>
<path d="M478 88.4 480 87.9 478.6 87.4 476.7 87.8Z" fill="#3e27a9"/>
<path d="M477.2 88.6 479.1 88.1 477.7 87.6 475.8 88Z" fill="#3e26a9"/>
<path d="M476.3 88.8 478.2 88.4 476.8 87.8 474.9 88.2Z" fill="#3e26a9"/>
<path d="M475.4 89 477.4 88.6 476 88 474.1 88.5Z" fill="#3e26a9"/>
<path d="M474.6 89.2 476.5 88.8 475.1 88.2 473.2 88.7Z" fill="#3e26a9"/>
<path d="M473.7 89.4 475.6 89 474.2 88.4 472.3 88.9Z" fill="#3e26a9"/>
<path d="M472.8 89.6 474.7 89.2 473.4 88.6 471.5 89.1Z" fill="#3e26a8"/>
<path d="M472 89.9 473.9 89.4 472.5 88.8 470.6 89.3Z" fill="#3e26a8"/>
<path d="M471.1 90.1 473 89.6 471.6 89 469.7 89.5Z" fill="#3e26a8"/>
<path d="M470.2 90.3 472.1 89.8 470.8 89.2 468.8 89.7Z" fill="#3e26a8"/>
<path d="M469.4 90.5 471.3 90 469.9 89.4 468 89.9Z" fill="#3e26a8"/>
<path d="M468.5 90.7 470.4 90.2 469 89.6 467.1 90.1Z" fill="#3e26a8"/>
<path d="M467.6 90.9 469.5 90.4 468.2 89.8 466.2 90.3Z" fill="#3e26a8"/>
<path d="M466.8 91.1 468.7 90.6 467.3 90 465.4 90.5Z" fill="#3e26a8"/>
<path d="M465.9 91.3 467.8 90.8 466.4 90.2 464.5 90.7Z" fill="#3e26a8"/>
<path d="M465 91.5 466.9 91 465.5 90.4 463.6 90.9Z" fill="#3e26a8"/>
<path d="M497.8 84.2 499.2 83.9 497.8 83.4 496.4 83.7Z" fill="#3e27a9"/>
<path d="M496.9 84.4 498.8 84 497.4 83.5 495.5 83.9Z" fill="#3e27a9"/>
<path d="M496 84.6 498 84.2 496.6 83.7 494.7 84.1Z" fill="#3e27aa"/>
<path d="M495.2 84.7 497.1 84.4 495.7 83.8 493.8 84.3Z" fill="#3e27aa"/>
<path d="M494.3 84.9 496.2 84.5 494.8 84 492.9 84.5Z" fill="#3e27aa"/>
<path d="M493.4 85.1 495.4 84.7 494 84.2 492.1 84.6Z" fill="#3e27aa"/>
<path d="M492.6 85.3 494.5 84.9 493.1 84.4 491.2 84.8Z" fill="#3e27aa"/>
<path d="M491.7 85.4 493.6 85 492.2 84.6 490.3 85Z" fill="#3e27ab"/>
<path d="M490.8 85.6 492.7 85.2 491.4 84.8 489.5 85.2Z" fill="#3e27ab"/>
<path d="M490 85.8 491.9 85.4 490.5 85 488.6 85.4Z" fill="#3e27ab"/>
<path d="M489.1 86 491 85.6 489.6 85.2 487.7 85.6Z" fill="#3e27ab"/>
<path d="M488.2 86.2 490.1 85.8 488.8 85.4 486.8 85.8Z" fill="#3e27ab"/>
<path d="M487.4 86.4 489.3 86 487.9 85.6 486 86Z" fill="#3e27ab"/>
<path d="M486.5 86.6 488.4 86.2 487 85.8 485.1 86.2Z" fill="#3e27ab"/>
<path d="M485.6 86.8 487.5 86.4 486.2 86 484.2 86.4Z" fill="#3e27ab"/>
<path d="M484.8 87.1 486.7 86.6 485.3 86.2 483.4 86.6Z" fill="#3e27ab"/>
<path d="M483.9 87.3 485.8 86.8 484.4 86.4 482.5 86.8Z" fill="#3e27ab"/>
<path d="M483 87.5 484.9 87 483.5 86.6 481.6 87.1Z" fill="#3e27aa"/>
<path d="M482.2 87.7 484.1 87.2 482.7 86.8 480.8 87.3Z" fill="#3e27aa"/>
<path d="M481.3 88 483.2 87.5 481.8 87 479.9 87.5Z" fill="#3e27aa"/>
<path d="M480.4 88.2 482.3 87.7 480.9 87.2 479 87.7Z" fill="#3e27aa"/>
<path d="M479.5 88.4 481.5 87.9 480.1 87.4 478.2 87.9Z" fill="#3e27a9"/>
<path d="M478.7 88.6 480.6 88.2 479.2 87.6 477.3 88.1Z" fill="#3e27a9"/>
<path d="M477.8 88.9 479.7 88.4 478.3 87.9 476.4 88.3Z" fill="#3e27a9"/>
<path d="M476.9 89.1 478.9 88.6 477.5 88.1 475.6 88.5Z" fill="#3e27a9"/>
<path d="M476.1 89.3 478 88.8 476.6 88.3 474.7 88.7Z" fill="#3e26a9"/>
<path d="M475.2 89.5 477.1 89 475.7 88.5 473.8 88.9Z" fill="#3e26a9"/>
<path d="M474.3 89.7 476.2 89.2 474.9 88.7 473 89.1Z" fill="#3e26a9"/>
<path d="M473.5 89.9 475.4 89.5 474 88.9 472.1 89.3Z" fill="#3e26a9"/>
<path d="M472.6 90.1 474.5 89.7 473.1 89.1 471.2 89.5Z" fill="#3e26a9"/>
<path d="M471.7 90.3 473.6 89.9 472.3 89.3 470.3 89.7Z" fill="#3e26a8"/>
<path d="M470.9 90.5 472.8 90.1 471.4 89.5 469.5 89.9Z" fill="#3e26a8"/>
<path d="M470 90.7 471.9 90.3 470.5 89.7 468.6 90.1Z" fill="#3e26a8"/>
<path d="M469.1 90.9 471 90.5 469.7 89.9 467.7 90.3Z" fill="#3e26a8"/>
<path d="M468.3 91.1 470.2 90.7 468.8 90.1 466.9 90.5Z" fill="#3e26a8"/>
<path d="M467.4 91.3 469.3 90.9 467.9 90.3 466 90.7Z" fill="#3e26a8"/>
<path d="M466.5 91.5 468.4 91.1 467 90.5 465.1 90.9Z" fill="#3e26a8"/>
<path d="M465.7 91.7 467.6 91.3 466.2 90.7 464.3 91.1Z" fill="#3e26a8"/>
<path d="M498.4 84.4 499.8 84.2 498.4 83.6 497 83.9Z" fill="#3e27aa"/>
<path d="M497.5 84.6 499.5 84.2 498.1 83.7 496.2 84.1Z" fill="#3e27aa"/>
<path d="M496.7 84.7 498.6 84.4 497.2 83.9 495.3 84.3Z" fill="#3e27aa"/>
<path d="M495.8 84.9 497.7 84.6 496.3 84.1 494.4 84.5Z" fill="#3e27ab"/>
<path d="M494.9 85.1 496.8 84.7 495.5 84.3 493.6 84.7Z" fill="#3e27ab"/>
<path d="M494.1 85.2 496 84.9 494.6 84.5 492.7 84.9Z" fill="#3e27ab"/>
<path d="M493.2 85.4 495.1 85 493.7 84.6 491.8 85Z" fill="#3e27ac"/>
<path d="M492.3 85.5 494.2 85.2 492.9 84.8 490.9 85.2Z" fill="#3e27ac"/>
<path d="M491.5 85.7 493.4 85.3 492 85 490.1 85.4Z" fill="#3e28ac"/>
<path d="M490.6 85.9 492.5 85.5 491.1 85.2 489.2 85.6Z" fill="#3e28ac"/>
<path d="M489.7 86.1 491.6 85.7 490.3 85.4 488.3 85.8Z" fill="#3e28ad"/>
<path d="M488.9 86.3 490.8 85.9 489.4 85.6 487.5 86Z" fill="#3f28ad"/>
<path d="M488 86.5 489.9 86 488.5 85.8 486.6 86.2Z" fill="#3f28ad"/>
<path d="M487.1 86.7 489 86.3 487.6 86 485.7 86.4Z" fill="#3e28ad"/>
<path d="M486.3 87 488.2 86.5 486.8 86.2 484.9 86.6Z" fill="#3e28ac"/>
<path d="M485.4 87.2 487.3 86.7 485.9 86.4 484 86.9Z" fill="#3e28ac"/>
<path d="M484.5 87.4 486.4 86.9 485 86.6 483.1 87.1Z" fill="#3e27ac"/>
<path d="M483.6 87.7 485.6 87.1 484.2 86.8 482.3 87.3Z" fill="#3e27ac"/>
<path d="M482.8 87.9 484.7 87.4 483.3 87 481.4 87.5Z" fill="#3e27ab"/>
<path d="M481.9 88.2 483.8 87.6 482.4 87.2 480.5 87.7Z" fill="#3e27ab"/>
<path d="M481 88.4 483 87.9 481.6 87.5 479.7 87.9Z" fill="#3e27aa"/>
<path d="M480.2 88.6 482.1 88.1 480.7 87.7 478.8 88.1Z" fill="#3e27aa"/>
<path d="M479.3 88.9 481.2 88.4 479.8 87.9 477.9 88.4Z" fill="#3e27aa"/>
<path d="M478.4 89.1 480.3 88.6 479 88.1 477.1 88.6Z" fill="#3e27aa"/>
<path d="M477.6 89.3 479.5 88.8 478.1 88.3 476.2 88.8Z" fill="#3e27a9"/>
<path d="M476.7 89.5 478.6 89.1 477.2 88.5 475.3 89Z" fill="#3e27a9"/>
<path d="M475.8 89.8 477.7 89.3 476.4 88.7 474.4 89.2Z" fill="#3e27a9"/>
<path d="M475 90 476.9 89.5 475.5 88.9 473.6 89.4Z" fill="#3e26a9"/>
<path d="M474.1 90.2 476 89.7 474.6 89.1 472.7 89.6Z" fill="#3e26a9"/>
<path d="M473.2 90.4 475.1 89.9 473.8 89.4 471.8 89.8Z" fill="#3e26a9"/>
<path d="M472.4 90.6 474.3 90.1 472.9 89.6 471 90Z" fill="#3e26a9"/>
<path d="M471.5 90.8 473.4 90.3 472 89.8 470.1 90.2Z" fill="#3e26a8"/>
<path d="M470.6 91 472.5 90.6 471.1 90 469.2 90.4Z" fill="#3e26a8"/>
<path d="M469.8 91.2 471.7 90.8 470.3 90.2 468.4 90.6Z" fill="#3e26a8"/>
<path d="M468.9 91.4 470.8 91 469.4 90.4 467.5 90.8Z" fill="#3e26a8"/>
<path d="M468 91.6 469.9 91.2 468.5 90.6 466.6 91Z" fill="#3e26a8"/>
<path d="M467.1 91.8 469.1 91.4 467.7 90.8 465.8 91.2Z" fill="#3e26a8"/>
<path d="M466.3 92 468.2 91.6 466.8 91 464.9 91.4Z" fill="#3e26a8"/>
<path d="M499 84.6 500.4 84.4 499 83.9 497.7 84.2Z" fill="#3e27aa"/>
<path d="M498.2 84.7 500.1 84.4 498.7 84 496.8 84.3Z" fill="#3e27ab"/>
<path d="M497.3 84.9 499.2 84.6 497.8 84.1 495.9 84.5Z" fill="#3e27ab"/>
<path d="M496.4 85 498.3 84.7 497 84.3 495.1 84.7Z" fill="#3e27ac"/>
<path d="M495.6 85.1 497.5 84.8 496.1 84.5 494.2 84.9Z" fill="#3e28ac"/>
<path d="M494.7 85.3 496.6 85 495.2 84.7 493.3 85Z" fill="#3f28ad"/>
<path d="M493.8 85.4 495.7 85.1 494.4 84.8 492.4 85.2Z" fill="#3f28ad"/>
<path d="M493 85.6 494.9 85.2 493.5 85 491.6 85.4Z" fill="#3f28ae"/>
<path d="M492.1 85.7 494 85.4 492.6 85.2 490.7 85.6Z" fill="#3f28ae"/>
<path d="M491.2 85.9 493.1 85.5 491.8 85.4 489.8 85.8Z" fill="#3f28af"/>
<path d="M490.4 86.1 492.3 85.7 490.9 85.6 489 86Z" fill="#3f28af"/>
<path d="M489.5 86.3 491.4 85.9 490 85.7 488.1 86.2Z" fill="#3f28af"/>
<path d="M488.6 86.5 490.5 86.1 489.1 85.9 487.2 86.4Z" fill="#3f28af"/>
<path d="M487.7 86.7 489.7 86.3 488.3 86.1 486.4 86.6Z" fill="#3f28af"/>
<path d="M486.9 87 488.8 86.5 487.4 86.3 485.5 86.8Z" fill="#3f28af"/>
<path d="M486 87.2 487.9 86.7 486.5 86.6 484.6 87Z" fill="#3f28ae"/>
<path d="M485.1 87.5 487.1 86.9 485.7 86.8 483.8 87.3Z" fill="#3f28ae"/>
<path d="M484.3 87.8 486.2 87.2 484.8 87 482.9 87.5Z" fill="#3f28ad"/>
<path d="M483.4 88 485.3 87.5 483.9 87.2 482 87.7Z" fill="#3f28ad"/>
<path d="M482.5 88.3 484.4 87.7 483.1 87.4 481.2 87.9Z" fill="#3e28ac"/>
<path d="M481.7 88.6 483.6 88 482.2 87.7 480.3 88.2Z" fill="#3e27ac"/>
<path d="M480.8 88.8 482.7 88.3 481.3 87.9 479.4 88.4Z" fill="#3e27ab"/>
<path d="M479.9 89.1 481.8 88.5 480.5 88.1 478.6 88.6Z" fill="#3e27ab"/>
<path d="M479.1 89.3 481 88.8 479.6 88.3 477.7 88.8Z" fill="#3e27aa"/>
<path d="M478.2 89.6 480.1 89 478.7 88.6 476.8 89Z" fill="#3e27aa"/>
<path d="M477.3 89.8 479.2 89.3 477.9 88.8 475.9 89.2Z" fill="#3e27a9"/>
<path d="M476.5 90 478.4 89.5 477 89 475.1 89.5Z" fill="#3e27a9"/>
<path d="M475.6 90.2 477.5 89.7 476.1 89.2 474.2 89.7Z" fill="#3e27a9"/>
<path d="M474.7 90.4 476.6 90 475.3 89.4 473.3 89.9Z" fill="#3e26a9"/>
<path d="M473.9 90.7 475.8 90.2 474.4 89.6 472.5 90.1Z" fill="#3e26a9"/>
<path d="M473 90.9 474.9 90.4 473.5 89.8 471.6 90.3Z" fill="#3e26a9"/>
<path d="M472.1 91.1 474 90.6 472.6 90 470.7 90.5Z" fill="#3e26a9"/>
<path d="M471.2 91.3 473.2 90.8 471.8 90.2 469.9 90.7Z" fill="#3e26a8"/>
<path d="M470.4 91.5 472.3 91 470.9 90.4 469 90.9Z" fill="#3e26a8"/>
<path d="M469.5 91.7 471.4 91.2 470 90.6 468.1 91.1Z" fill="#3e26a8"/>
<path d="M468.6 91.9 470.6 91.4 469.2 90.8 467.3 91.3Z" fill="#3e26a8"/>
<path d="M467.8 92.1 469.7 91.6 468.3 91 466.4 91.5Z" fill="#3e26a8"/>
<path d="M466.9 92.3 468.8 91.8 467.4 91.2 465.5 91.7Z" fill="#3e26a8"/>
<path d="M499.7 84.7 501.1 84.5 499.7 84.1 498.3 84.4Z" fill="#3e27ab"/>
<path d="M498.8 84.8 500.7 84.6 499.3 84.2 497.4 84.5Z" fill="#3e27ac"/>
<path d="M497.9 84.9 499.8 84.7 498.5 84.3 496.5 84.7Z" fill="#3f28ad"/>
<path d="M497.1 85 499 84.8 497.6 84.5 495.7 84.9Z" fill="#3f28ae"/>
<path d="M496.2 85.1 498.1 84.9 496.7 84.7 494.8 85Z" fill="#3f28ae"/>
<path d="M495.3 85.3 497.2 85 495.9 84.8 493.9 85.2Z" fill="#3f28af"/>
<path d="M494.5 85.4 496.4 85.1 495 85 493.1 85.4Z" fill="#3f29b0"/>
<path d="M493.6 85.5 495.5 85.2 494.1 85.2 492.2 85.5Z" fill="#3f29b1"/>
<path d="M492.7 85.6 494.6 85.3 493.2 85.3 491.3 85.7Z" fill="#3f29b1"/>
<path d="M491.9 85.8 493.8 85.5 492.4 85.5 490.5 85.9Z" fill="#3f29b2"/>
<path d="M491 86 492.9 85.6 491.5 85.7 489.6 86.1Z" fill="#3f29b2"/>
<path d="M490.1 86.2 492 85.8 490.6 85.8 488.7 86.3Z" fill="#4029b2"/>
<path d="M489.2 86.4 491.2 85.9 489.8 86 487.9 86.5Z" fill="#4029b2"/>
<path d="M488.4 86.7 490.3 86.1 488.9 86.2 487 86.7Z" fill="#3f29b2"/>
<path d="M487.5 86.9 489.4 86.4 488 86.4 486.1 86.9Z" fill="#3f29b2"/>
<path d="M486.6 87.2 488.6 86.6 487.2 86.7 485.3 87.2Z" fill="#3f29b1"/>
<path d="M485.8 87.5 487.7 86.9 486.3 86.9 484.4 87.4Z" fill="#3f29b1"/>
<path d="M484.9 87.8 486.8 87.2 485.4 87.1 483.5 87.6Z" fill="#3f29b0"/>
<path d="M484 88.1 485.9 87.4 484.6 87.4 482.7 87.9Z" fill="#3f28af"/>
<path d="M483.2 88.4 485.1 87.7 483.7 87.6 481.8 88.1Z" fill="#3f28ae"/>
<path d="M482.3 88.7 484.2 88 482.8 87.8 480.9 88.4Z" fill="#3f28ad"/>
<path d="M481.4 89 483.3 88.3 482 88.1 480 88.6Z" fill="#3e28ac"/>
<path d="M480.6 89.2 482.5 88.6 481.1 88.3 479.2 88.8Z" fill="#3e27ac"/>
<path d="M479.7 89.5 481.6 88.9 480.2 88.6 478.3 89.1Z" fill="#3e27ab"/>
<path d="M478.8 89.8 480.7 89.2 479.4 88.8 477.4 89.3Z" fill="#3e27ab"/>
<path d="M478 90 479.9 89.5 478.5 89 476.6 89.5Z" fill="#3e27aa"/>
<path d="M477.1 90.2 479 89.7 477.6 89.2 475.7 89.7Z" fill="#3e27aa"/>
<path d="M476.2 90.5 478.1 90 476.7 89.4 474.8 89.9Z" fill="#3e27a9"/>
<path d="M475.4 90.7 477.3 90.2 475.9 89.7 474 90.1Z" fill="#3e27a9"/>
<path d="M474.5 90.9 476.4 90.4 475 89.9 473.1 90.3Z" fill="#3e27a9"/>
<path d="M473.6 91.1 475.5 90.7 474.1 90.1 472.2 90.5Z" fill="#3e26a9"/>
<path d="M472.7 91.3 474.7 90.9 473.3 90.3 471.4 90.7Z" fill="#3e26a9"/>
<path d="M471.9 91.5 473.8 91.1 472.4 90.5 470.5 90.9Z" fill="#3e26a9"/>
<path d="M471 91.7 472.9 91.3 471.5 90.7 469.6 91.1Z" fill="#3e26a8"/>
<path d="M470.1 91.9 472.1 91.5 470.7 90.9 468.8 91.3Z" fill="#3e26a8"/>
<path d="M469.3 92.1 471.2 91.7 469.8 91.1 467.9 91.5Z" fill="#3e26a8"/>
<path d="M468.4 92.3 470.3 91.9 468.9 91.3 467 91.7Z" fill="#3e26a8"/>
<path d="M467.5 92.5 469.4 92.1 468.1 91.5 466.2 91.9Z" fill="#3e26a8"/>
<path d="M500.3 84.8 501.7 84.7 500.3 84.3 498.9 84.6Z" fill="#3f28ad"/>
<path d="M499.4 84.9 501.3 84.7 500 84.4 498 84.7Z" fill="#3f28ae"/>
<path d="M498.6 84.9 500.5 84.8 499.1 84.5 497.2 84.8Z" fill="#3f28af"/>
<path d="M497.7 85 499.6 84.9 498.2 84.7 496.3 85Z" fill="#3f29b0"/>
<path d="M496.8 85 498.7 84.9 497.4 84.8 495.4 85.1Z" fill="#3f29b1"/>
<path d="M496 85.1 497.9 85 496.5 85 494.6 85.3Z" fill="#402ab3"/>
<path d="M495.1 85.2 497 85 495.6 85.1 493.7 85.4Z" fill="#402ab4"/>
<path d="M494.2 85.3 496.1 85.1 494.7 85.2 492.8 85.6Z" fill="#402ab5"/>
<path d="M493.3 85.4 495.3 85.2 493.9 85.4 492 85.7Z" fill="#402bb6"/>
<path d="M492.5 85.5 494.4 85.3 493 85.5 491.1 85.9Z" fill="#402bb6"/>
<path d="M491.6 85.7 493.5 85.4 492.1 85.7 490.2 86.1Z" fill="#402bb7"/>
<path d="M490.7 85.9 492.7 85.5 491.3 85.9 489.4 86.3Z" fill="#402bb7"/>
<path d="M489.9 86.2 491.8 85.7 490.4 86.1 488.5 86.5Z" fill="#402bb7"/>
<path d="M489 86.4 490.9 85.9 489.5 86.3 487.6 86.8Z" fill="#402bb7"/>
<path d="M488.1 86.7 490 86.1 488.7 86.5 486.8 87Z" fill="#402bb6"/>
<path d="M487.3 87.1 489.2 86.4 487.8 86.7 485.9 87.2Z" fill="#402ab5"/>
<path d="M486.4 87.4 488.3 86.7 486.9 86.9 485 87.5Z" fill="#402ab5"/>
<path d="M485.5 87.7 487.4 87 486.1 87.2 484.2 87.8Z" fill="#402ab3"/>
<path d="M484.7 88.1 486.6 87.3 485.2 87.4 483.3 88Z" fill="#3f29b2"/>
<path d="M483.8 88.4 485.7 87.7 484.3 87.7 482.4 88.3Z" fill="#3f29b1"/>
<path d="M482.9 88.7 484.8 88 483.5 88 481.5 88.5Z" fill="#3f29b0"/>
<path d="M482.1 89.1 484 88.3 482.6 88.2 480.7 88.8Z" fill="#3f28ae"/>
<path d="M481.2 89.4 483.1 88.7 481.7 88.5 479.8 89Z" fill="#3f28ad"/>
<path d="M480.3 89.7 482.2 89 480.9 88.7 478.9 89.3Z" fill="#3e28ac"/>
<path d="M479.5 90 481.4 89.3 480 89 478.1 89.5Z" fill="#3e27ac"/>
<path d="M478.6 90.2 480.5 89.6 479.1 89.2 477.2 89.7Z" fill="#3e27ab"/>
<path d="M477.7 90.5 479.6 89.9 478.2 89.5 476.3 90Z" fill="#3e27aa"/>
<path d="M476.8 90.7 478.8 90.2 477.4 89.7 475.5 90.2Z" fill="#3e27aa"/>
<path d="M476 90.9 477.9 90.4 476.5 89.9 474.6 90.4Z" fill="#3e27a9"/>
<path d="M475.1 91.2 477 90.7 475.6 90.1 473.7 90.6Z" fill="#3e27a9"/>
<path d="M474.2 91.4 476.2 90.9 474.8 90.3 472.9 90.8Z" fill="#3e27a9"/>
<path d="M473.4 91.6 475.3 91.1 473.9 90.6 472 91Z" fill="#3e26a9"/>
<path d="M472.5 91.8 474.4 91.3 473 90.8 471.1 91.2Z" fill="#3e26a9"/>
<path d="M471.6 92 473.5 91.6 472.2 91 470.3 91.4Z" fill="#3e26a9"/>
<path d="M470.8 92.2 472.7 91.8 471.3 91.2 469.4 91.6Z" fill="#3e26a8"/>
<path d="M469.9 92.4 471.8 92 470.4 91.4 468.5 91.8Z" fill="#3e26a8"/>
<path d="M469 92.6 470.9 92.2 469.6 91.6 467.7 92Z" fill="#3e26a8"/>
<path d="M468.2 92.8 470.1 92.4 468.7 91.8 466.8 92.2Z" fill="#3e26a8"/>
<path d="M500.9 84.8 502.3 84.7 500.9 84.5 499.5 84.7Z" fill="#3f28af"/>
<path d="M500.1 84.8 502 84.8 500.6 84.6 498.7 84.8Z" fill="#3f29b0"/>
<path d="M499.2 84.8 501.1 84.8 499.7 84.7 497.8 84.9Z" fill="#3f29b2"/>
<path d="M498.3 84.8 500.2 84.8 498.8 84.8 496.9 85Z" fill="#402ab4"/>
<path d="M497.5 84.8 499.4 84.8 498 84.9 496.1 85.2Z" fill="#402ab5"/>
<path d="M496.6 84.8 498.5 84.8 497.1 85 495.2 85.3Z" fill="#402bb7"/>
<path d="M495.7 84.8 497.6 84.8 496.2 85.1 494.3 85.4Z" fill="#412cb9"/>
<path d="M494.8 84.9 496.8 84.8 495.4 85.2 493.5 85.5Z" fill="#412cba"/>
<path d="M494 85 495.9 84.8 494.5 85.4 492.6 85.7Z" fill="#412dbc"/>
<path d="M493.1 85.1 495 84.9 493.6 85.5 491.7 85.8Z" fill="#412dbd"/>
<path d="M492.2 85.3 494.2 84.9 492.8 85.6 490.9 86Z" fill="#412dbd"/>
<path d="M491.4 85.5 493.3 85.1 491.9 85.8 490 86.2Z" fill="#412ebe"/>
<path d="M490.5 85.7 492.4 85.2 491 86 489.1 86.4Z" fill="#412ebd"/>
<path d="M489.6 86 491.5 85.4 490.2 86.2 488.3 86.7Z" fill="#412dbd"/>
<path d="M488.8 86.4 490.7 85.7 489.3 86.4 487.4 87Z" fill="#412dbc"/>
<path d="M487.9 86.7 489.8 86 488.4 86.6 486.5 87.2Z" fill="#412dbb"/>
<path d="M487 87.1 488.9 86.3 487.6 86.9 485.6 87.5Z" fill="#412cba"/>
<path d="M486.2 87.5 488.1 86.7 486.7 87.2 484.8 87.8Z" fill="#402bb8"/>
<path d="M485.3 87.9 487.2 87 485.8 87.5 483.9 88.1Z" fill="#402bb6"/>
<path d="M484.4 88.3 486.3 87.4 485 87.7 483 88.4Z" fill="#402ab5"/>
<path d="M483.6 88.7 485.5 87.9 484.1 88 482.2 88.7Z" fill="#402ab3"/>
<path d="M482.7 89.1 484.6 88.3 483.2 88.3 481.3 88.9Z" fill="#3f29b1"/>
<path d="M481.8 89.5 483.7 88.7 482.3 88.6 480.4 89.2Z" fill="#3f29b0"/>
<path d="M481 89.8 482.9 89 481.5 88.9 479.6 89.5Z" fill="#3f28ae"/>
<path d="M480.1 90.1 482 89.4 480.6 89.2 478.7 89.7Z" fill="#3f28ad"/>
<path d="M479.2 90.4 481.1 89.7 479.7 89.4 477.8 90Z" fill="#3e27ac"/>
<path d="M478.3 90.7 480.3 90 478.9 89.7 477 90.2Z" fill="#3e27ab"/>
<path d="M477.5 90.9 479.4 90.3 478 89.9 476.1 90.4Z" fill="#3e27aa"/>
<path d="M476.6 91.2 478.5 90.6 477.1 90.2 475.2 90.6Z" fill="#3e27aa"/>
<path d="M475.7 91.4 477.7 90.9 476.3 90.4 474.4 90.9Z" fill="#3e27a9"/>
<path d="M474.9 91.6 476.8 91.1 475.4 90.6 473.5 91.1Z" fill="#3e27a9"/>
<path d="M474 91.9 475.9 91.4 474.5 90.8 472.6 91.3Z" fill="#3e27a9"/>
<path d="M473.1 92.1 475 91.6 473.7 91 471.8 91.5Z" fill="#3e26a9"/>
<path d="M472.3 92.3 474.2 91.8 472.8 91.2 470.9 91.7Z" fill="#3e26a9"/>
<path d="M471.4 92.5 473.3 92 471.9 91.4 470 91.9Z" fill="#3e26a9"/>
<path d="M470.5 92.7 472.4 92.2 471.1 91.6 469.1 92.1Z" fill="#3e26a8"/>
<path d="M469.7 92.9 471.6 92.4 470.2 91.8 468.3 92.3Z" fill="#3e26a8"/>
<path d="M468.8 93.1 470.7 92.6 469.3 92.1 467.4 92.5Z" fill="#3e26a8"/>
<path d="M501.6 84.7 502.9 84.8 501.6 84.6 500.2 84.8Z" fill="#3f29b2"/>
<path d="M500.7 84.7 502.6 84.8 501.2 84.7 499.3 84.9Z" fill="#402ab4"/>
<path d="M499.8 84.6 501.7 84.7 500.3 84.8 498.4 84.9Z" fill="#402bb6"/>
<path d="M498.9 84.5 500.9 84.7 499.5 84.9 497.6 85Z" fill="#402cb8"/>
<path d="M498.1 84.4 500 84.6 498.6 84.9 496.7 85.1Z" fill="#412cbb"/>
<path d="M497.2 84.3 499.1 84.5 497.7 85 495.8 85.2Z" fill="#412dbd"/>
<path d="M496.3 84.3 498.3 84.4 496.9 85.1 495 85.2Z" fill="#422ebf"/>
<path d="M495.5 84.3 497.4 84.3 496 85.1 494.1 85.3Z" fill="#422fc2"/>
<path d="M494.6 84.3 496.5 84.3 495.1 85.2 493.2 85.5Z" fill="#4230c3"/>
<path d="M493.7 84.4 495.6 84.3 494.3 85.3 492.4 85.6Z" fill="#4330c5"/>
<path d="M492.9 84.5 494.8 84.3 493.4 85.4 491.5 85.8Z" fill="#4331c6"/>
<path d="M492 84.8 493.9 84.4 492.5 85.6 490.6 86Z" fill="#4331c6"/>
<path d="M491.1 85 493 84.5 491.7 85.7 489.8 86.2Z" fill="#4331c6"/>
<path d="M490.3 85.4 492.2 84.7 490.8 85.9 488.9 86.5Z" fill="#4331c6"/>
<path d="M489.4 85.8 491.3 85 489.9 86.2 488 86.8Z" fill="#4330c4"/>
<path d="M488.5 86.2 490.4 85.3 489.1 86.4 487.1 87.1Z" fill="#4230c3"/>
<path d="M487.7 86.7 489.6 85.7 488.2 86.7 486.3 87.4Z" fill="#422fc1"/>
<path d="M486.8 87.2 488.7 86.1 487.3 87 485.4 87.8Z" fill="#422ebf"/>
<path d="M485.9 87.7 487.8 86.6 486.5 87.4 484.5 88.1Z" fill="#412dbc"/>
<path d="M485.1 88.1 487 87.1 485.6 87.7 483.7 88.4Z" fill="#412cba"/>
<path d="M484.2 88.6 486.1 87.6 484.7 88 482.8 88.7Z" fill="#402bb7"/>
<path d="M483.3 89.1 485.2 88 483.8 88.4 481.9 89.1Z" fill="#402ab5"/>
<path d="M482.4 89.5 484.4 88.5 483 88.7 481.1 89.4Z" fill="#402ab3"/>
<path d="M481.6 89.9 483.5 89 482.1 89 480.2 89.6Z" fill="#3f29b1"/>
<path d="M480.7 90.2 482.6 89.4 481.2 89.3 479.3 89.9Z" fill="#3f28af"/>
<path d="M479.8 90.6 481.8 89.8 480.4 89.6 478.5 90.2Z" fill="#3f28ae"/>
<path d="M479 90.9 480.9 90.2 479.5 89.9 477.6 90.4Z" fill="#3e28ac"/>
<path d="M478.1 91.1 480 90.5 478.6 90.1 476.7 90.7Z" fill="#3e27ab"/>
<path d="M477.2 91.4 479.1 90.8 477.8 90.4 475.9 90.9Z" fill="#3e27ab"/>
<path d="M476.4 91.7 478.3 91.1 476.9 90.6 475 91.1Z" fill="#3e27aa"/>
<path d="M475.5 91.9 477.4 91.4 476 90.8 474.1 91.3Z" fill="#3e27a9"/>
<path d="M474.6 92.1 476.5 91.6 475.2 91.1 473.3 91.5Z" fill="#3e27a9"/>
<path d="M473.8 92.3 475.7 91.8 474.3 91.3 472.4 91.8Z" fill="#3e27a9"/>
<path d="M472.9 92.5 474.8 92.1 473.4 91.5 471.5 92Z" fill="#3e26a9"/>
<path d="M472 92.8 473.9 92.3 472.6 91.7 470.6 92.2Z" fill="#3e26a9"/>
<path d="M471.2 93 473.1 92.5 471.7 91.9 469.8 92.4Z" fill="#3e26a9"/>
<path d="M470.3 93.2 472.2 92.7 470.8 92.1 468.9 92.6Z" fill="#3e26a8"/>
<path d="M469.4 93.4 471.3 92.9 470 92.3 468 92.8Z" fill="#3e26a8"/>
<path d="M502.2 84.5 503.6 84.7 502.2 84.7 500.8 84.8Z" fill="#402ab5"/>
<path d="M501.3 84.4 503.2 84.7 501.8 84.8 499.9 84.8Z" fill="#402bb8"/>
<path d="M500.4 84.2 502.4 84.5 501 84.8 499.1 84.9Z" fill="#412dbb"/>
<path d="M499.6 84 501.5 84.4 500.1 84.8 498.2 84.9Z" fill="#422ebe"/>
<path d="M498.7 83.8 500.6 84.2 499.2 84.9 497.3 84.9Z" fill="#422fc2"/>
<path d="M497.8 83.6 499.8 84 498.4 84.9 496.5 84.9Z" fill="#4330c5"/>
<path d="M497 83.5 498.9 83.8 497.5 84.9 495.6 84.9Z" fill="#4332c9"/>
<path d="M496.1 83.4 498 83.6 496.6 84.9 494.7 85Z" fill="#4433cc"/>
<path d="M495.2 83.3 497.1 83.5 495.8 84.9 493.9 85.1Z" fill="#4434ce"/>
<path d="M494.4 83.4 496.3 83.4 494.9 85 493 85.2Z" fill="#4435d0"/>
<path d="M493.5 83.5 495.4 83.3 494 85 492.1 85.4Z" fill="#4435d1"/>
<path d="M492.6 83.7 494.5 83.4 493.2 85.2 491.2 85.6Z" fill="#4535d2"/>
<path d="M491.8 84.1 493.7 83.5 492.3 85.3 490.4 85.8Z" fill="#4435d2"/>
<path d="M490.9 84.5 492.8 83.7 491.4 85.5 489.5 86.1Z" fill="#4435d1"/>
<path d="M490 84.9 491.9 84 490.6 85.8 488.6 86.5Z" fill="#4434cf"/>
<path d="M489.2 85.5 491.1 84.4 489.7 86.1 487.8 86.8Z" fill="#4433cd"/>
<path d="M488.3 86 490.2 84.8 488.8 86.4 486.9 87.2Z" fill="#4332ca"/>
<path d="M487.4 86.6 489.3 85.3 487.9 86.7 486 87.6Z" fill="#4331c7"/>
<path d="M486.6 87.2 488.5 85.9 487.1 87.1 485.2 88Z" fill="#4230c4"/>
<path d="M485.7 87.8 487.6 86.5 486.2 87.5 484.3 88.4Z" fill="#422fc0"/>
<path d="M484.8 88.4 486.7 87.1 485.3 87.9 483.4 88.7Z" fill="#412dbd"/>
<path d="M483.9 88.9 485.9 87.7 484.5 88.3 482.6 89.1Z" fill="#412cba"/>
<path d="M483.1 89.4 485 88.3 483.6 88.7 481.7 89.4Z" fill="#402bb7"/>
<path d="M482.2 89.9 484.1 88.8 482.7 89 480.8 89.8Z" fill="#402ab4"/>
<path d="M481.3 90.3 483.3 89.3 481.9 89.4 480 90.1Z" fill="#3f29b2"/>
<path d="M480.5 90.7 482.4 89.8 481 89.7 479.1 90.4Z" fill="#3f29b0"/>
<path d="M479.6 91 481.5 90.2 480.1 90 478.2 90.6Z" fill="#3f28ae"/>
<path d="M478.7 91.3 480.6 90.6 479.3 90.3 477.4 90.9Z" fill="#3e28ac"/>
<path d="M477.9 91.6 479.8 90.9 478.4 90.6 476.5 91.1Z" fill="#3e27ab"/>
<path d="M477 91.9 478.9 91.3 477.5 90.8 475.6 91.4Z" fill="#3e27ab"/>
<path d="M476.1 92.1 478 91.6 476.7 91.1 474.7 91.6Z" fill="#3e27aa"/>
<path d="M475.3 92.4 477.2 91.8 475.8 91.3 473.9 91.8Z" fill="#3e27a9"/>
<path d="M474.4 92.6 476.3 92.1 474.9 91.5 473 92Z" fill="#3e27a9"/>
<path d="M473.5 92.8 475.4 92.3 474.1 91.8 472.1 92.2Z" fill="#3e26a9"/>
<path d="M472.7 93 474.6 92.5 473.2 92 471.3 92.4Z" fill="#3e26a9"/>
<path d="M471.8 93.2 473.7 92.8 472.3 92.2 470.4 92.6Z" fill="#3e26a9"/>
<path d="M470.9 93.4 472.8 93 471.4 92.4 469.5 92.8Z" fill="#3e26a8"/>
<path d="M470.1 93.6 472 93.2 470.6 92.6 468.7 93Z" fill="#3e26a8"/>
<path d="M502.8 84.2 504.2 84.5 502.8 84.8 501.4 84.7Z" fill="#412cba"/>
<path d="M501.9 83.9 503.9 84.5 502.5 84.8 500.6 84.7Z" fill="#412ebe"/>
<path d="M501.1 83.6 503 84.2 501.6 84.7 499.7 84.6Z" fill="#422fc2"/>
<path d="M500.2 83.2 502.1 84 500.7 84.7 498.8 84.6Z" fill="#4331c6"/>
<path d="M499.3 82.9 501.2 83.6 499.9 84.7 498 84.5Z" fill="#4433cb"/>
<path d="M498.5 82.6 500.4 83.3 499 84.6 497.1 84.4Z" fill="#4434d0"/>
<path d="M497.6 82.3 499.5 83 498.1 84.5 496.2 84.4Z" fill="#4536d4"/>
<path d="M496.7 82.1 498.6 82.7 497.3 84.5 495.3 84.4Z" fill="#4538d7"/>
<path d="M495.9 82 497.8 82.4 496.4 84.4 494.5 84.5Z" fill="#463ada"/>
<path d="M495 82 496.9 82.2 495.5 84.4 493.6 84.5Z" fill="#463bdc"/>
<path d="M494.1 82.1 496 82 494.7 84.4 492.7 84.7Z" fill="#463cde"/>
<path d="M493.3 82.4 495.2 82 493.8 84.5 491.9 84.9Z" fill="#463cdf"/>
<path d="M492.4 82.7 494.3 82.1 492.9 84.7 491 85.2Z" fill="#463cde"/>
<path d="M491.5 83.2 493.4 82.3 492 84.9 490.1 85.5Z" fill="#463bdd"/>
<path d="M490.7 83.8 492.6 82.6 491.2 85.1 489.3 85.9Z" fill="#463adc"/>
<path d="M489.8 84.4 491.7 83.1 490.3 85.5 488.4 86.3Z" fill="#4639d9"/>
<path d="M488.9 85.1 490.8 83.6 489.4 85.8 487.5 86.8Z" fill="#4537d6"/>
<path d="M488 85.8 490 84.3 488.6 86.3 486.7 87.3Z" fill="#4535d2"/>
<path d="M487.2 86.6 489.1 85 487.7 86.7 485.8 87.7Z" fill="#4434ce"/>
<path d="M486.3 87.3 488.2 85.7 486.8 87.2 484.9 88.2Z" fill="#4332c9"/>
<path d="M485.4 88 487.4 86.4 486 87.6 484.1 88.6Z" fill="#4330c5"/>
<path d="M484.6 88.6 486.5 87.1 485.1 88.1 483.2 89.1Z" fill="#422fc0"/>
<path d="M483.7 89.2 485.6 87.8 484.2 88.6 482.3 89.5Z" fill="#412dbc"/>
<path d="M482.8 89.8 484.7 88.5 483.4 89 481.5 89.9Z" fill="#412cb8"/>
<path d="M482 90.3 483.9 89.1 482.5 89.4 480.6 90.2Z" fill="#402ab5"/>
<path d="M481.1 90.7 483 89.7 481.6 89.8 479.7 90.5Z" fill="#3f29b2"/>
<path d="M480.2 91.1 482.1 90.2 480.8 90.1 478.8 90.8Z" fill="#3f29b0"/>
<path d="M479.4 91.5 481.3 90.7 479.9 90.5 478 91.1Z" fill="#3f28ae"/>
<path d="M478.5 91.8 480.4 91.1 479 90.8 477.1 91.4Z" fill="#3e28ad"/>
<path d="M477.6 92.1 479.5 91.4 478.2 91 476.2 91.6Z" fill="#3e27ab"/>
<path d="M476.8 92.4 478.7 91.8 477.3 91.3 475.4 91.8Z" fill="#3e27aa"/>
<path d="M475.9 92.6 477.8 92 476.4 91.6 474.5 92.1Z" fill="#3e27aa"/>
<path d="M475 92.8 476.9 92.3 475.5 91.8 473.6 92.3Z" fill="#3e27a9"/>
<path d="M474.2 93.1 476.1 92.6 474.7 92 472.8 92.5Z" fill="#3e27a9"/>
<path d="M473.3 93.3 475.2 92.8 473.8 92.2 471.9 92.7Z" fill="#3e26a9"/>
<path d="M472.4 93.5 474.3 93 472.9 92.4 471 92.9Z" fill="#3e26a9"/>
<path d="M471.5 93.7 473.5 93.2 472.1 92.7 470.2 93.1Z" fill="#3e26a9"/>
<path d="M470.7 93.9 472.6 93.5 471.2 92.9 469.3 93.3Z" fill="#3e26a8"/>
<path d="M503.4 83.7 504.8 84.3 503.4 84.7 502.1 84.6Z" fill="#422ec0"/>
<path d="M502.6 83.3 504.5 84.1 503.1 84.7 501.2 84.4Z" fill="#4330c5"/>
<path d="M501.7 82.8 503.6 83.8 502.2 84.6 500.3 84.3Z" fill="#4332ca"/>
<path d="M500.8 82.3 502.7 83.3 501.4 84.5 499.5 84.1Z" fill="#4435d0"/>
<path d="M500 81.8 501.9 82.9 500.5 84.3 498.6 83.9Z" fill="#4537d6"/>
<path d="M499.1 81.3 501 82.4 499.6 84.1 497.7 83.8Z" fill="#463adb"/>
<path d="M498.2 80.9 500.1 81.9 498.8 84 496.8 83.6Z" fill="#463de0"/>
<path d="M497.4 80.5 499.3 81.4 497.9 83.8 496 83.6Z" fill="#4740e3"/>
<path d="M496.5 80.3 498.4 80.9 497 83.7 495.1 83.6Z" fill="#4742e6"/>
<path d="M495.6 80.2 497.5 80.6 496.2 83.6 494.2 83.6Z" fill="#4744e8"/>
<path d="M494.8 80.3 496.7 80.3 495.3 83.5 493.4 83.7Z" fill="#4745ea"/>
<path d="M493.9 80.6 495.8 80.2 494.4 83.6 492.5 84Z" fill="#4746ea"/>
<path d="M493 81 494.9 80.3 493.5 83.7 491.6 84.3Z" fill="#4746ea"/>
<path d="M492.2 81.5 494.1 80.5 492.7 83.9 490.8 84.7Z" fill="#4745e9"/>
<path d="M491.3 82.2 493.2 80.9 491.8 84.2 489.9 85.1Z" fill="#4743e8"/>
<path d="M490.4 83 492.3 81.4 490.9 84.6 489 85.6Z" fill="#4741e5"/>
<path d="M489.5 83.9 491.5 82.1 490.1 85 488.2 86.2Z" fill="#473fe2"/>
<path d="M488.7 84.8 490.6 82.9 489.2 85.5 487.3 86.7Z" fill="#463cde"/>
<path d="M487.8 85.7 489.7 83.7 488.3 86.1 486.4 87.3Z" fill="#4639d9"/>
<path d="M486.9 86.6 488.9 84.6 487.5 86.6 485.6 87.9Z" fill="#4536d4"/>
<path d="M486.1 87.4 488 85.5 486.6 87.2 484.7 88.4Z" fill="#4434ce"/>
<path d="M485.2 88.2 487.1 86.4 485.7 87.8 483.8 88.9Z" fill="#4331c8"/>
<path d="M484.3 89 486.2 87.3 484.9 88.3 483 89.4Z" fill="#422fc3"/>
<path d="M483.5 89.6 485.4 88.1 484 88.8 482.1 89.9Z" fill="#412ebe"/>
<path d="M482.6 90.2 484.5 88.8 483.1 89.3 481.2 90.3Z" fill="#412cb9"/>
<path d="M481.7 90.8 483.6 89.5 482.3 89.8 480.3 90.7Z" fill="#402bb6"/>
<path d="M480.9 91.2 482.8 90.1 481.4 90.2 479.5 91Z" fill="#402ab3"/>
<path d="M480 91.6 481.9 90.7 480.5 90.6 478.6 91.3Z" fill="#3f29b0"/>
<path d="M479.1 92 481 91.1 479.7 90.9 477.7 91.6Z" fill="#3f28ae"/>
<path d="M478.3 92.3 480.2 91.6 478.8 91.2 476.9 91.8Z" fill="#3e28ac"/>
<path d="M477.4 92.6 479.3 91.9 477.9 91.5 476 92.1Z" fill="#3e27ab"/>
<path d="M476.5 92.9 478.4 92.2 477 91.8 475.1 92.3Z" fill="#3e27aa"/>
<path d="M475.7 93.1 477.6 92.5 476.2 92 474.3 92.5Z" fill="#3e27aa"/>
<path d="M474.8 93.3 476.7 92.8 475.3 92.3 473.4 92.8Z" fill="#3e27a9"/>
<path d="M473.9 93.5 475.8 93.1 474.4 92.5 472.5 93Z" fill="#3e27a9"/>
<path d="M473 93.8 475 93.3 473.6 92.7 471.7 93.2Z" fill="#3e26a9"/>
<path d="M472.2 94 474.1 93.5 472.7 92.9 470.8 93.4Z" fill="#3e26a9"/>
<path d="M471.3 94.2 473.2 93.7 471.8 93.1 469.9 93.6Z" fill="#3e26a9"/>
<path d="M504.1 83 505.5 83.9 504.1 84.6 502.7 84.3Z" fill="#4331c7"/>
<path d="M503.2 82.4 505.1 83.7 503.7 84.5 501.8 84Z" fill="#4434ce"/>
<path d="M502.3 81.7 504.2 83.2 502.9 84.3 500.9 83.7Z" fill="#4537d5"/>
<path d="M501.5 81 503.4 82.5 502 84.1 500.1 83.4Z" fill="#463adb"/>
<path d="M500.6 80.3 502.5 81.9 501.1 83.8 499.2 83.1Z" fill="#473ee1"/>
<path d="M499.7 79.6 501.6 81.1 500.3 83.5 498.3 82.8Z" fill="#4742e6"/>
<path d="M498.9 79 500.8 80.4 499.4 83.2 497.5 82.6Z" fill="#4747eb"/>
<path d="M498 78.5 499.9 79.7 498.5 82.9 496.6 82.4Z" fill="#484aee"/>
<path d="M497.1 78.2 499 79.1 497.6 82.6 495.7 82.3Z" fill="#484ef1"/>
<path d="M496.3 78 498.2 78.6 496.8 82.4 494.9 82.3Z" fill="#4850f3"/>
<path d="M495.4 78.1 497.3 78.2 495.9 82.3 494 82.4Z" fill="#4852f4"/>
<path d="M494.5 78.3 496.4 78 495 82.3 493.1 82.7Z" fill="#4853f5"/>
<path d="M493.6 78.8 495.6 78 494.2 82.4 492.3 83Z" fill="#4853f4"/>
<path d="M492.8 79.5 494.7 78.3 493.3 82.6 491.4 83.5Z" fill="#4851f4"/>
<path d="M491.9 80.3 493.8 78.7 492.4 82.9 490.5 84Z" fill="#484ff2"/>
<path d="M491 81.3 493 79.3 491.6 83.4 489.7 84.6Z" fill="#484df0"/>
<path d="M490.2 82.3 492.1 80.1 490.7 83.9 488.8 85.3Z" fill="#4849ed"/>
<path d="M489.3 83.4 491.2 81.1 489.8 84.5 487.9 86Z" fill="#4745e9"/>
<path d="M488.4 84.5 490.3 82.1 489 85.2 487.1 86.7Z" fill="#4741e5"/>
<path d="M487.6 85.7 489.5 83.2 488.1 85.9 486.2 87.4Z" fill="#463cdf"/>
<path d="M486.7 86.7 488.6 84.3 487.2 86.6 485.3 88.1Z" fill="#4539d9"/>
<path d="M485.8 87.7 487.7 85.4 486.4 87.3 484.4 88.7Z" fill="#4535d2"/>
<path d="M485 88.6 486.9 86.5 485.5 87.9 483.6 89.3Z" fill="#4433cb"/>
<path d="M484.1 89.4 486 87.5 484.6 88.6 482.7 89.8Z" fill="#4230c4"/>
<path d="M483.2 90.1 485.1 88.4 483.8 89.2 481.8 90.3Z" fill="#422ebf"/>
<path d="M482.4 90.7 484.3 89.2 482.9 89.7 481 90.7Z" fill="#412cba"/>
<path d="M481.5 91.3 483.4 90 482 90.2 480.1 91.1Z" fill="#402bb6"/>
<path d="M480.6 91.7 482.5 90.6 481.1 90.6 479.2 91.5Z" fill="#4029b3"/>
<path d="M479.8 92.1 481.7 91.2 480.3 91 478.4 91.8Z" fill="#3f29b0"/>
<path d="M478.9 92.5 480.8 91.6 479.4 91.4 477.5 92.1Z" fill="#3f28ae"/>
<path d="M478 92.8 479.9 92.1 478.5 91.7 476.6 92.3Z" fill="#3e28ac"/>
<path d="M477.1 93.1 479.1 92.4 477.7 92 475.8 92.6Z" fill="#3e27ab"/>
<path d="M476.3 93.3 478.2 92.7 476.8 92.3 474.9 92.8Z" fill="#3e27aa"/>
<path d="M475.4 93.6 477.3 93 475.9 92.5 474 93Z" fill="#3e27aa"/>
<path d="M474.5 93.8 476.5 93.3 475.1 92.8 473.2 93.2Z" fill="#3e27a9"/>
<path d="M473.7 94 475.6 93.5 474.2 93 472.3 93.4Z" fill="#3e27a9"/>
<path d="M472.8 94.2 474.7 93.8 473.3 93.2 471.4 93.6Z" fill="#3e26a9"/>
<path d="M471.9 94.4 473.8 94 472.5 93.4 470.6 93.9Z" fill="#3e26a9"/>
<path d="M504.7 82.2 506.1 83.4 504.7 84.3 503.3 83.8Z" fill="#4434d0"/>
<path d="M503.8 81.4 505.7 83.1 504.4 84.2 502.4 83.4Z" fill="#4538d8"/>
<path d="M503 80.4 504.9 82.4 503.5 83.9 501.6 83Z" fill="#463cdf"/>
<path d="M502.1 79.4 504 81.5 502.6 83.5 500.7 82.5Z" fill="#4742e6"/>
<path d="M501.2 78.5 503.1 80.6 501.8 83 499.8 82Z" fill="#4747ec"/>
<path d="M500.4 77.6 502.3 79.6 500.9 82.6 499 81.6Z" fill="#484df0"/>
<path d="M499.5 76.7 501.4 78.7 500 82.1 498.1 81.2Z" fill="#4852f4"/>
<path d="M498.6 76 500.5 77.7 499.1 81.7 497.2 80.9Z" fill="#4757f7"/>
<path d="M497.8 75.6 499.7 76.9 498.3 81.3 496.4 80.7Z" fill="#475cfa"/>
<path d="M496.9 75.3 498.8 76.2 497.4 80.9 495.5 80.6Z" fill="#465ffb"/>
<path d="M496 75.3 497.9 75.6 496.5 80.7 494.6 80.7Z" fill="#4561fc"/>
<path d="M495.1 75.6 497.1 75.4 495.7 80.6 493.8 81Z" fill="#4562fc"/>
<path d="M494.3 76.2 496.2 75.3 494.8 80.7 492.9 81.4Z" fill="#4562fc"/>
<path d="M493.4 76.9 495.3 75.5 493.9 80.9 492 81.9Z" fill="#4660fc"/>
<path d="M492.5 77.9 494.5 76 493.1 81.3 491.2 82.6Z" fill="#465efb"/>
<path d="M491.7 79.1 493.6 76.8 492.2 81.8 490.3 83.3Z" fill="#475af9"/>
<path d="M490.8 80.4 492.7 77.7 491.3 82.4 489.4 84.1Z" fill="#4756f6"/>
<path d="M489.9 81.8 491.8 78.9 490.5 83.2 488.6 85Z" fill="#4850f3"/>
<path d="M489.1 83.1 491 80.1 489.6 84 487.7 85.9Z" fill="#484bee"/>
<path d="M488.2 84.5 490.1 81.5 488.7 84.8 486.8 86.7Z" fill="#4745e9"/>
<path d="M487.3 85.8 489.2 82.9 487.9 85.7 485.9 87.6Z" fill="#4740e3"/>
<path d="M486.5 87 488.4 84.2 487 86.6 485.1 88.3Z" fill="#463bdc"/>
<path d="M485.6 88.1 487.5 85.5 486.1 87.4 484.2 89Z" fill="#4536d4"/>
<path d="M484.7 89 486.6 86.8 485.3 88.2 483.3 89.7Z" fill="#4433cc"/>
<path d="M483.9 89.9 485.8 87.9 484.4 88.9 482.5 90.3Z" fill="#4330c5"/>
<path d="M483 90.6 484.9 88.9 483.5 89.6 481.6 90.8Z" fill="#422ebf"/>
<path d="M482.1 91.3 484 89.7 482.6 90.1 480.7 91.2Z" fill="#412cba"/>
<path d="M481.3 91.8 483.2 90.5 481.8 90.7 479.9 91.6Z" fill="#402ab6"/>
<path d="M480.4 92.3 482.3 91.2 480.9 91.1 479 92Z" fill="#3f29b2"/>
<path d="M479.5 92.7 481.4 91.7 480 91.5 478.1 92.3Z" fill="#3f28af"/>
<path d="M478.6 93 480.6 92.2 479.2 91.9 477.3 92.5Z" fill="#3f28ad"/>
<path d="M477.8 93.3 479.7 92.6 478.3 92.2 476.4 92.8Z" fill="#3e27ac"/>
<path d="M476.9 93.6 478.8 92.9 477.4 92.5 475.5 93Z" fill="#3e27ab"/>
<path d="M476 93.8 478 93.3 476.6 92.8 474.7 93.3Z" fill="#3e27aa"/>
<path d="M475.2 94.1 477.1 93.5 475.7 93 473.8 93.5Z" fill="#3e27a9"/>
<path d="M474.3 94.3 476.2 93.8 474.8 93.2 472.9 93.7Z" fill="#3e27a9"/>
<path d="M473.4 94.5 475.3 94 474 93.5 472.1 93.9Z" fill="#3e26a9"/>
<path d="M472.6 94.7 474.5 94.2 473.1 93.7 471.2 94.1Z" fill="#3e26a9"/>
<path d="M505.3 81.2 506.7 82.7 505.3 84 503.9 83.2Z" fill="#4539d9"/>
<path d="M504.5 80.1 506.4 82.4 505 83.8 503.1 82.6Z" fill="#463ee1"/>
<path d="M503.6 78.9 505.5 81.4 504.1 83.3 502.2 82Z" fill="#4744e9"/>
<path d="M502.7 77.6 504.6 80.3 503.2 82.7 501.3 81.3Z" fill="#484bef"/>
<path d="M501.9 76.3 503.8 79.1 502.4 82.1 500.5 80.6Z" fill="#4853f4"/>
<path d="M501 75.1 502.9 77.9 501.5 81.4 499.6 80Z" fill="#475af9"/>
<path d="M500.1 74 502 76.6 500.6 80.7 498.7 79.4Z" fill="#4661fc"/>
<path d="M499.2 73.2 501.2 75.4 499.8 80.1 497.9 78.9Z" fill="#4367fd"/>
<path d="M498.4 72.5 500.3 74.2 498.9 79.5 497 78.6Z" fill="#406dfe"/>
<path d="M497.5 72.1 499.4 73.3 498 79 496.1 78.5Z" fill="#3c71ff"/>
<path d="M496.6 72.1 498.6 72.6 497.2 78.7 495.3 78.6Z" fill="#3975fe"/>
<path d="M495.8 72.4 497.7 72.2 496.3 78.5 494.4 78.8Z" fill="#3876fe"/>
<path d="M494.9 73 496.8 72.1 495.4 78.5 493.5 79.3Z" fill="#3876fe"/>
<path d="M494 74 495.9 72.3 494.6 78.8 492.7 79.9Z" fill="#3a74fe"/>
<path d="M493.2 75.2 495.1 72.9 493.7 79.2 491.8 80.7Z" fill="#3e70ff"/>
<path d="M492.3 76.6 494.2 73.8 492.8 79.8 490.9 81.6Z" fill="#416bfe"/>
<path d="M491.4 78.1 493.3 74.9 492 80.5 490 82.7Z" fill="#4465fd"/>
<path d="M490.6 79.8 492.5 76.3 491.1 81.4 489.2 83.7Z" fill="#465efb"/>
<path d="M489.7 81.5 491.6 77.8 490.2 82.4 488.3 84.8Z" fill="#4757f7"/>
<path d="M488.8 83.1 490.7 79.5 489.4 83.5 487.4 85.9Z" fill="#4850f2"/>
<path d="M488 84.7 489.9 81.1 488.5 84.6 486.6 86.9Z" fill="#4849ed"/>
<path d="M487.1 86.1 489 82.8 487.6 85.6 485.7 87.8Z" fill="#4742e6"/>
<path d="M486.2 87.4 488.1 84.4 486.7 86.7 484.8 88.7Z" fill="#463cde"/>
<path d="M485.4 88.6 487.3 85.8 485.9 87.6 484 89.5Z" fill="#4537d6"/>
<path d="M484.5 89.6 486.4 87.2 485 88.5 483.1 90.1Z" fill="#4433cd"/>
<path d="M483.6 90.5 485.5 88.4 484.1 89.3 482.2 90.7Z" fill="#4330c5"/>
<path d="M482.7 91.2 484.7 89.4 483.3 90 481.4 91.3Z" fill="#422ebe"/>
<path d="M481.9 91.9 483.8 90.3 482.4 90.6 480.5 91.7Z" fill="#412cb9"/>
<path d="M481 92.4 482.9 91.1 481.5 91.2 479.6 92.1Z" fill="#402ab5"/>
<path d="M480.1 92.8 482.1 91.7 480.7 91.6 478.8 92.5Z" fill="#3f29b1"/>
<path d="M479.3 93.2 481.2 92.3 479.8 92 477.9 92.8Z" fill="#3f28af"/>
<path d="M478.4 93.5 480.3 92.7 478.9 92.4 477 93Z" fill="#3f28ad"/>
<path d="M477.5 93.8 479.4 93.1 478.1 92.7 476.2 93.3Z" fill="#3e27ab"/>
<path d="M476.7 94.1 478.6 93.5 477.2 93 475.3 93.5Z" fill="#3e27aa"/>
<path d="M475.8 94.3 477.7 93.8 476.3 93.2 474.4 93.8Z" fill="#3e27aa"/>
<path d="M474.9 94.6 476.8 94 475.5 93.5 473.5 94Z" fill="#3e27a9"/>
<path d="M474.1 94.8 476 94.3 474.6 93.7 472.7 94.2Z" fill="#3e27a9"/>
<path d="M473.2 95 475.1 94.5 473.7 93.9 471.8 94.4Z" fill="#3e26a9"/>
<path d="M506 80 507.3 82 506 83.5 504.6 82.4Z" fill="#473fe2"/>
<path d="M505.1 78.6 507 81.5 505.6 83.2 503.7 81.6Z" fill="#4746ea"/>
<path d="M504.2 77.1 506.1 80.3 504.7 82.5 502.8 80.7Z" fill="#484ef1"/>
<path d="M503.4 75.5 505.3 78.9 503.9 81.8 502 79.8Z" fill="#4756f7"/>
<path d="M502.5 73.9 504.4 77.4 503 80.9 501.1 78.9Z" fill="#465ffb"/>
<path d="M501.6 72.4 503.5 75.8 502.1 80 500.2 78Z" fill="#4369fe"/>
<path d="M500.7 71 502.7 74.2 501.3 79 499.4 77.2Z" fill="#3c72ff"/>
<path d="M499.9 69.8 501.8 72.6 500.4 78.2 498.5 76.6Z" fill="#337bfd"/>
<path d="M499 69 500.9 71.2 499.5 77.4 497.6 76.1Z" fill="#2f82fa"/>
<path d="M498.1 68.5 500.1 70 498.7 76.7 496.8 75.9Z" fill="#2e87f7"/>
<path d="M497.3 68.4 499.2 69.1 497.8 76.2 495.9 75.9Z" fill="#2d8af4"/>
<path d="M496.4 68.7 498.3 68.6 496.9 75.9 495 76.2Z" fill="#2d8cf3"/>
<path d="M495.5 69.5 497.4 68.4 496.1 75.9 494.2 76.7Z" fill="#2d8bf3"/>
<path d="M494.7 70.6 496.6 68.6 495.2 76.1 493.3 77.5Z" fill="#2d89f5"/>
<path d="M493.8 72 495.7 69.3 494.3 76.6 492.4 78.5Z" fill="#2e85f8"/>
<path d="M492.9 73.7 494.8 70.3 493.5 77.3 491.5 79.6Z" fill="#307ffb"/>
<path d="M492.1 75.6 494 71.7 492.6 78.2 490.7 80.8Z" fill="#3677fe"/>
<path d="M491.2 77.5 493.1 73.3 491.7 79.3 489.8 82.1Z" fill="#3f6eff"/>
<path d="M490.3 79.5 492.2 75.2 490.9 80.6 488.9 83.4Z" fill="#4465fd"/>
<path d="M489.5 81.5 491.4 77.1 490 81.9 488.1 84.7Z" fill="#475cfa"/>
<path d="M488.6 83.4 490.5 79.1 489.1 83.2 487.2 86Z" fill="#4853f5"/>
<path d="M487.7 85.1 489.6 81.1 488.2 84.5 486.3 87.1Z" fill="#484bee"/>
<path d="M486.9 86.7 488.8 83 487.4 85.7 485.5 88.2Z" fill="#4743e7"/>
<path d="M486 88.1 487.9 84.8 486.5 86.9 484.6 89.1Z" fill="#463cdf"/>
<path d="M485.1 89.3 487 86.4 485.6 88 483.7 90Z" fill="#4537d5"/>
<path d="M484.2 90.3 486.2 87.8 484.8 88.9 482.9 90.7Z" fill="#4433cc"/>
<path d="M483.4 91.1 485.3 89 483.9 89.8 482 91.3Z" fill="#4230c4"/>
<path d="M482.5 91.9 484.4 90.1 483 90.5 481.1 91.8Z" fill="#412dbd"/>
<path d="M481.6 92.5 483.6 91 482.2 91.2 480.3 92.2Z" fill="#402bb8"/>
<path d="M480.8 93 482.7 91.7 481.3 91.7 479.4 92.6Z" fill="#402ab3"/>
<path d="M479.9 93.4 481.8 92.4 480.4 92.2 478.5 93Z" fill="#3f29b0"/>
<path d="M479 93.7 480.9 92.9 479.6 92.6 477.7 93.3Z" fill="#3f28ae"/>
<path d="M478.2 94.1 480.1 93.3 478.7 92.9 476.8 93.5Z" fill="#3e27ac"/>
<path d="M477.3 94.3 479.2 93.7 477.8 93.2 475.9 93.8Z" fill="#3e27ab"/>
<path d="M476.4 94.6 478.3 94 477 93.5 475 94Z" fill="#3e27aa"/>
<path d="M475.6 94.8 477.5 94.3 476.1 93.7 474.2 94.2Z" fill="#3e27a9"/>
<path d="M474.7 95 476.6 94.5 475.2 94 473.3 94.5Z" fill="#3e27a9"/>
<path d="M473.8 95.3 475.7 94.8 474.4 94.2 472.4 94.7Z" fill="#3e26a9"/>
<path d="M506.6 78.7 508 81.1 506.6 82.9 505.2 81.4Z" fill="#4746ea"/>
<path d="M505.7 77 507.6 80.6 506.2 82.5 504.3 80.4Z" fill="#484ff2"/>
<path d="M504.8 75.1 506.8 79 505.4 81.6 503.5 79.2Z" fill="#4758f8"/>
<path d="M504 73.1 505.9 77.3 504.5 80.6 502.6 78Z" fill="#4563fd"/>
<path d="M503.1 71.1 505 75.5 503.6 79.4 501.7 76.8Z" fill="#3f6fff"/>
<path d="M502.2 69.3 504.2 73.5 502.8 78.2 500.9 75.6Z" fill="#337bfd"/>
<path d="M501.4 67.6 503.3 71.5 501.9 77 500 74.6Z" fill="#2e85f8"/>
<path d="M500.5 66.2 502.4 69.6 501 75.9 499.1 73.8Z" fill="#2c8ff1"/>
<path d="M499.6 65.1 501.5 67.9 500.2 74.8 498.3 73.2Z" fill="#2796eb"/>
<path d="M498.8 64.5 500.7 66.4 499.3 73.9 497.4 72.8Z" fill="#259ce7"/>
<path d="M497.9 64.3 499.8 65.3 498.4 73.3 496.5 72.8Z" fill="#23a0e5"/>
<path d="M497 64.7 498.9 64.6 497.6 72.9 495.6 73.1Z" fill="#22a1e4"/>
<path d="M496.2 65.5 498.1 64.3 496.7 72.8 494.8 73.7Z" fill="#23a1e4"/>
<path d="M495.3 66.8 497.2 64.6 495.8 73 493.9 74.6Z" fill="#249ee6"/>
<path d="M494.4 68.5 496.3 65.3 495 73.6 493 75.8Z" fill="#269ae9"/>
<path d="M493.6 70.5 495.5 66.5 494.1 74.4 492.2 77.1Z" fill="#2a93ed"/>
<path d="M492.7 72.7 494.6 68.1 493.2 75.5 491.3 78.6Z" fill="#2d8bf4"/>
<path d="M491.8 75 493.7 70.1 492.3 76.8 490.4 80.2Z" fill="#2f81fa"/>
<path d="M491 77.4 492.9 72.2 491.5 78.3 489.6 81.8Z" fill="#3876fe"/>
<path d="M490.1 79.7 492 74.5 490.6 79.9 488.7 83.4Z" fill="#426afe"/>
<path d="M489.2 81.9 491.1 76.9 489.7 81.5 487.8 84.9Z" fill="#465ffb"/>
<path d="M488.3 84 490.3 79.3 488.9 83.1 487 86.3Z" fill="#4854f6"/>
<path d="M487.5 85.8 489.4 81.5 488 84.6 486.1 87.6Z" fill="#484bef"/>
<path d="M486.6 87.4 488.5 83.6 487.1 86 485.2 88.7Z" fill="#4742e7"/>
<path d="M485.7 88.8 487.7 85.5 486.3 87.3 484.4 89.7Z" fill="#463bdd"/>
<path d="M484.9 90 486.8 87.1 485.4 88.5 483.5 90.5Z" fill="#4536d3"/>
<path d="M484 91 485.9 88.6 484.5 89.5 482.6 91.2Z" fill="#4332ca"/>
<path d="M483.1 91.9 485 89.8 483.7 90.4 481.8 91.8Z" fill="#422fc1"/>
<path d="M482.3 92.5 484.2 90.8 482.8 91.1 480.9 92.4Z" fill="#412dbb"/>
<path d="M481.4 93.1 483.3 91.7 481.9 91.7 480 92.8Z" fill="#402bb6"/>
<path d="M480.5 93.6 482.4 92.4 481.1 92.3 479.1 93.2Z" fill="#3f29b2"/>
<path d="M479.7 94 481.6 93 480.2 92.7 478.3 93.5Z" fill="#3f28af"/>
<path d="M478.8 94.3 480.7 93.5 479.3 93.1 477.4 93.8Z" fill="#3f28ad"/>
<path d="M477.9 94.6 479.8 93.9 478.5 93.4 476.5 94Z" fill="#3e27ab"/>
<path d="M477.1 94.8 479 94.2 477.6 93.7 475.7 94.3Z" fill="#3e27aa"/>
<path d="M476.2 95.1 478.1 94.5 476.7 94 474.8 94.5Z" fill="#3e27aa"/>
<path d="M475.3 95.3 477.2 94.8 475.8 94.2 473.9 94.7Z" fill="#3e27a9"/>
<path d="M474.5 95.5 476.4 95 475 94.5 473.1 94.9Z" fill="#3e26a9"/>
<path d="M507.2 77.3 508.6 80.2 507.2 82.1 505.8 80.3Z" fill="#484ef1"/>
<path d="M506.3 75.2 508.3 79.5 506.9 81.7 505 78.9Z" fill="#4758f8"/>
<path d="M505.5 72.9 507.4 77.7 506 80.5 504.1 77.4Z" fill="#4464fd"/>
<path d="M504.6 70.6 506.5 75.6 505.1 79.2 503.2 75.9Z" fill="#3c72ff"/>
<path d="M503.7 68.2 505.6 73.4 504.3 77.7 502.4 74.4Z" fill="#3080fa"/>
<path d="M502.9 66 504.8 71 503.4 76.2 501.5 72.9Z" fill="#2d8df2"/>
<path d="M502 63.9 503.9 68.7 502.5 74.7 500.6 71.6Z" fill="#2798ea"/>
<path d="M501.1 62.2 503 66.4 501.7 73.2 499.8 70.5Z" fill="#22a2e4"/>
<path d="M500.3 61 502.2 64.3 500.8 71.9 498.9 69.7Z" fill="#1baade"/>
<path d="M499.4 60.2 501.3 62.6 499.9 70.7 498 69.3Z" fill="#14b0d8"/>
<path d="M498.5 60 500.4 61.2 499.1 69.9 497.1 69.2Z" fill="#0cb3d3"/>
<path d="M497.7 60.4 499.6 60.3 498.2 69.3 496.3 69.5Z" fill="#07b5d0"/>
<path d="M496.8 61.3 498.7 60 497.3 69.2 495.4 70.2Z" fill="#08b4d1"/>
<path d="M495.9 62.8 497.8 60.2 496.5 69.4 494.5 71.3Z" fill="#0fb2d4"/>
<path d="M495.1 64.7 497 61.1 495.6 70 493.7 72.7Z" fill="#17aedb"/>
<path d="M494.2 67 496.1 62.4 494.7 71 492.8 74.3Z" fill="#1ea7e1"/>
<path d="M493.3 69.6 495.2 64.3 493.8 72.4 491.9 76.1Z" fill="#249ee6"/>
<path d="M492.4 72.3 494.4 66.5 493 74 491.1 78Z" fill="#2994ed"/>
<path d="M491.6 75.1 493.5 69.1 492.1 75.7 490.2 79.9Z" fill="#2d88f6"/>
<path d="M490.7 77.8 492.6 71.8 491.2 77.6 489.3 81.8Z" fill="#337bfd"/>
<path d="M489.8 80.4 491.8 74.5 490.4 79.6 488.5 83.7Z" fill="#406cfe"/>
<path d="M489 82.7 490.9 77.3 489.5 81.5 487.6 85.3Z" fill="#465ffb"/>
<path d="M488.1 84.9 490 79.9 488.6 83.3 486.7 86.8Z" fill="#4854f5"/>
<path d="M487.2 86.8 489.1 82.3 487.8 85 485.9 88.2Z" fill="#484aee"/>
<path d="M486.4 88.4 488.3 84.5 486.9 86.5 485 89.3Z" fill="#4741e5"/>
<path d="M485.5 89.7 487.4 86.4 486 87.9 484.1 90.3Z" fill="#463ada"/>
<path d="M484.6 90.9 486.5 88.1 485.2 89.1 483.3 91.2Z" fill="#4435d0"/>
<path d="M483.8 91.8 485.7 89.5 484.3 90.1 482.4 91.9Z" fill="#4331c6"/>
<path d="M482.9 92.6 484.8 90.7 483.4 91 481.5 92.5Z" fill="#422ebe"/>
<path d="M482 93.2 483.9 91.7 482.6 91.7 480.6 92.9Z" fill="#412cb8"/>
<path d="M481.2 93.7 483.1 92.4 481.7 92.3 479.8 93.4Z" fill="#402ab4"/>
<path d="M480.3 94.2 482.2 93.1 480.8 92.8 478.9 93.7Z" fill="#3f29b0"/>
<path d="M479.4 94.5 481.3 93.6 480 93.3 478 94Z" fill="#3f28ae"/>
<path d="M478.6 94.8 480.5 94.1 479.1 93.6 477.2 94.3Z" fill="#3e27ac"/>
<path d="M477.7 95.1 479.6 94.4 478.2 94 476.3 94.5Z" fill="#3e27ab"/>
<path d="M476.8 95.3 478.7 94.8 477.3 94.2 475.4 94.8Z" fill="#3e27aa"/>
<path d="M475.9 95.6 477.9 95 476.5 94.5 474.6 95Z" fill="#3e27a9"/>
<path d="M475.1 95.8 477 95.3 475.6 94.7 473.7 95.2Z" fill="#3e27a9"/>
<path d="M507.8 75.8 509.2 79.2 507.8 81.3 506.5 79Z" fill="#4756f7"/>
<path d="M507 73.3 508.9 78.4 507.5 80.8 505.6 77.3Z" fill="#4563fc"/>
<path d="M506.1 70.7 508 76.3 506.6 79.3 504.7 75.5Z" fill="#3c71ff"/>
<path d="M505.2 67.9 507.1 73.9 505.8 77.6 503.9 73.6Z" fill="#2f82fa"/>
<path d="M504.4 65.2 506.3 71.2 504.9 75.9 503 71.7Z" fill="#2b90ef"/>
<path d="M503.5 62.6 505.4 68.5 504 74 502.1 69.9Z" fill="#249ee6"/>
<path d="M502.6 60.2 504.5 65.7 503.2 72.1 501.2 68.3Z" fill="#1baade"/>
<path d="M501.8 58.2 503.7 63.1 502.3 70.3 500.4 66.9Z" fill="#0ab4d2"/>
<path d="M500.9 56.7 502.8 60.6 501.4 68.6 499.5 65.9Z" fill="#02bac4"/>
<path d="M500 55.7 501.9 58.5 500.6 67.2 498.6 65.3Z" fill="#12beb9"/>
<path d="M499.2 55.5 501.1 56.9 499.7 66.1 497.8 65.2Z" fill="#1fc1b1"/>
<path d="M498.3 55.9 500.2 55.9 498.8 65.4 496.9 65.5Z" fill="#25c2ae"/>
<path d="M497.4 56.9 499.3 55.5 497.9 65.2 496 66.3Z" fill="#24c1af"/>
<path d="M496.6 58.6 498.5 55.7 497.1 65.4 495.2 67.6Z" fill="#1bc0b4"/>
<path d="M495.7 60.8 497.6 56.7 496.2 66.1 494.3 69.2Z" fill="#0abdbd"/>
<path d="M494.8 63.5 496.7 58.2 495.3 67.3 493.4 71.1Z" fill="#01b8ca"/>
<path d="M493.9 66.4 495.9 60.4 494.5 68.9 492.6 73.3Z" fill="#13b0d7"/>
<path d="M493.1 69.5 495 62.9 493.6 70.7 491.7 75.5Z" fill="#1fa6e2"/>
<path d="M492.2 72.7 494.1 65.8 492.7 72.8 490.8 77.8Z" fill="#2699e9"/>
<path d="M491.3 75.8 493.3 68.9 491.9 75.1 490 80.1Z" fill="#2d8bf4"/>
<path d="M490.5 78.7 492.4 72.1 491 77.4 489.1 82.2Z" fill="#327bfc"/>
<path d="M489.6 81.5 491.5 75.2 490.1 79.6 488.2 84.2Z" fill="#416bfe"/>
<path d="M488.7 83.9 490.6 78.2 489.3 81.8 487.4 86Z" fill="#465dfb"/>
<path d="M487.9 86 489.8 80.9 488.4 83.8 486.5 87.6Z" fill="#4851f4"/>
<path d="M487 87.9 488.9 83.4 487.5 85.7 485.6 88.9Z" fill="#4747eb"/>
<path d="M486.1 89.4 488 85.6 486.7 87.3 484.7 90.1Z" fill="#463ee1"/>
<path d="M485.3 90.7 487.2 87.5 485.8 88.7 483.9 91.1Z" fill="#4537d6"/>
<path d="M484.4 91.8 486.3 89.1 484.9 89.9 483 91.9Z" fill="#4433cc"/>
<path d="M483.5 92.6 485.4 90.5 484.1 90.9 482.1 92.5Z" fill="#422fc2"/>
<path d="M482.7 93.3 484.6 91.6 483.2 91.7 481.3 93.1Z" fill="#412dbb"/>
<path d="M481.8 93.9 483.7 92.5 482.3 92.4 480.4 93.5Z" fill="#402bb6"/>
<path d="M480.9 94.4 482.8 93.2 481.4 93 479.5 93.9Z" fill="#3f29b2"/>
<path d="M480.1 94.7 482 93.8 480.6 93.4 478.7 94.2Z" fill="#3f28af"/>
<path d="M479.2 95.1 481.1 94.3 479.7 93.8 477.8 94.5Z" fill="#3e28ad"/>
<path d="M478.3 95.3 480.2 94.7 478.8 94.2 476.9 94.8Z" fill="#3e27ab"/>
<path d="M477.4 95.6 479.4 95 478 94.5 476.1 95Z" fill="#3e27aa"/>
<path d="M476.6 95.8 478.5 95.3 477.1 94.7 475.2 95.3Z" fill="#3e27a9"/>
<path d="M475.7 96.1 477.6 95.6 476.2 95 474.3 95.5Z" fill="#3e27a9"/>
<path d="M508.5 74.3 509.9 78.2 508.5 80.4 507.1 77.6Z" fill="#465ffb"/>
<path d="M507.6 71.5 509.5 77.3 508.1 79.7 506.2 75.5Z" fill="#3f6eff"/>
<path d="M506.7 68.5 508.6 74.9 507.3 78 505.4 73.4Z" fill="#307ffb"/>
<path d="M505.9 65.3 507.8 72.1 506.4 76 504.5 71.1Z" fill="#2c90f0"/>
<path d="M505 62.2 506.9 69.1 505.5 73.8 503.6 68.8Z" fill="#23a0e5"/>
<path d="M504.1 59.2 506 66 504.7 71.5 502.7 66.6Z" fill="#17aeda"/>
<path d="M503.3 56.4 505.2 62.8 503.8 69.3 501.9 64.7Z" fill="#01b8c8"/>
<path d="M502.4 54.1 504.3 59.8 502.9 67.1 501 63Z" fill="#1ac0b5"/>
<path d="M501.5 52.4 503.4 57 502.1 65.1 500.1 61.8Z" fill="#2fc5a3"/>
<path d="M500.7 51.3 502.6 54.6 501.2 63.3 499.3 61.1Z" fill="#3bc992"/>
<path d="M499.8 51 501.7 52.7 500.3 62 498.4 60.9Z" fill="#48cb86"/>
<path d="M498.9 51.4 500.8 51.5 499.4 61.2 497.5 61.2Z" fill="#4fcc80"/>
<path d="M498 52.6 500 51 498.6 60.9 496.7 62.2Z" fill="#4dcc82"/>
<path d="M497.2 54.5 499.1 51.3 497.7 61.1 495.8 63.6Z" fill="#43ca8a"/>
<path d="M496.3 57 498.2 52.3 496.8 61.9 494.9 65.5Z" fill="#36c899"/>
<path d="M495.4 59.9 497.4 54.1 496 63.3 494.1 67.7Z" fill="#29c3aa"/>
<path d="M494.6 63.3 496.5 56.4 495.1 65.1 493.2 70.2Z" fill="#0cbdbc"/>
<path d="M493.7 66.8 495.6 59.3 494.2 67.3 492.3 72.9Z" fill="#07b5d0"/>
<path d="M492.8 70.3 494.7 62.6 493.4 69.7 491.5 75.6Z" fill="#1da9e0"/>
<path d="M492 73.8 493.9 66.1 492.5 72.3 490.6 78.2Z" fill="#269ae9"/>
<path d="M491.1 77.1 493 69.6 491.6 75 489.7 80.7Z" fill="#2d8af5"/>
<path d="M490.2 80.2 492.1 73.1 490.8 77.7 488.9 83Z" fill="#3578fd"/>
<path d="M489.4 82.9 491.3 76.5 489.9 80.2 488 85.1Z" fill="#4368fd"/>
<path d="M488.5 85.3 490.4 79.6 489 82.5 487.1 86.9Z" fill="#4759f9"/>
<path d="M487.6 87.4 489.5 82.4 488.2 84.7 486.2 88.5Z" fill="#484df0"/>
<path d="M486.8 89.1 488.7 84.9 487.3 86.5 485.4 89.8Z" fill="#4743e7"/>
<path d="M485.9 90.6 487.8 87 486.4 88.2 484.5 90.9Z" fill="#463bdc"/>
<path d="M485 91.7 486.9 88.8 485.6 89.6 483.6 91.8Z" fill="#4435d1"/>
<path d="M484.2 92.7 486.1 90.3 484.7 90.7 482.8 92.6Z" fill="#4331c6"/>
<path d="M483.3 93.4 485.2 91.5 483.8 91.7 481.9 93.2Z" fill="#412ebe"/>
<path d="M482.4 94.1 484.3 92.5 482.9 92.4 481 93.7Z" fill="#402bb8"/>
<path d="M481.5 94.6 483.5 93.3 482.1 93.1 480.2 94.1Z" fill="#402ab3"/>
<path d="M480.7 95 482.6 93.9 481.2 93.6 479.3 94.5Z" fill="#3f29b0"/>
<path d="M479.8 95.3 481.7 94.5 480.3 94 478.4 94.8Z" fill="#3f28ad"/>
<path d="M478.9 95.6 480.9 94.9 479.5 94.4 477.6 95Z" fill="#3e27ac"/>
<path d="M478.1 95.9 480 95.2 478.6 94.7 476.7 95.3Z" fill="#3e27aa"/>
<path d="M477.2 96.1 479.1 95.5 477.7 95 475.8 95.5Z" fill="#3e27aa"/>
<path d="M476.3 96.3 478.2 95.8 476.9 95.2 475 95.7Z" fill="#3e27a9"/>
<path d="M509.1 72.9 510.5 77.3 509.1 79.4 507.7 76.1Z" fill="#4368fd"/>
<path d="M508.2 69.8 510.1 76.3 508.8 78.6 506.8 73.7Z" fill="#347afd"/>
<path d="M507.4 66.4 509.3 73.5 507.9 76.5 506 71.1Z" fill="#2d8cf3"/>
<path d="M506.5 62.9 508.4 70.4 507 74.2 505.1 68.5Z" fill="#249de6"/>
<path d="M505.6 59.3 507.5 67.1 506.2 71.7 504.2 65.8Z" fill="#18aedb"/>
<path d="M504.8 56 506.7 63.6 505.3 69 503.4 63.2Z" fill="#02bac5"/>
<path d="M503.9 52.9 505.8 60 504.4 66.3 502.5 60.9Z" fill="#26c2ac"/>
<path d="M503 50.3 504.9 56.6 503.5 63.7 501.6 59Z" fill="#3bc992"/>
<path d="M502.2 48.4 504.1 53.5 502.7 61.4 500.8 57.5Z" fill="#5bcc77"/>
<path d="M501.3 47.1 503.2 50.8 501.8 59.4 499.9 56.6Z" fill="#79cc5e"/>
<path d="M500.4 46.7 502.3 48.7 500.9 57.8 499 56.4Z" fill="#8fcb4e"/>
<path d="M499.5 47.2 501.5 47.3 500.1 56.8 498.2 56.8Z" fill="#98c946"/>
<path d="M498.7 48.5 500.6 46.7 499.2 56.4 497.3 57.8Z" fill="#96ca48"/>
<path d="M497.8 50.6 499.7 47 498.3 56.6 496.4 59.5Z" fill="#88cb53"/>
<path d="M496.9 53.3 498.9 48.2 497.5 57.6 495.6 61.6Z" fill="#6ecd67"/>
<path d="M496.1 56.6 498 50.1 496.6 59.1 494.7 64.2Z" fill="#4ecc81"/>
<path d="M495.2 60.3 497.1 52.7 495.7 61.1 493.8 67.1Z" fill="#33c79d"/>
<path d="M494.3 64.1 496.2 55.9 494.9 63.6 493 70.1Z" fill="#18bfb6"/>
<path d="M493.5 68.1 495.4 59.5 494 66.5 492.1 73.2Z" fill="#05b6ce"/>
<path d="M492.6 71.9 494.5 63.3 493.1 69.5 491.2 76.2Z" fill="#1ea8e0"/>
<path d="M491.7 75.6 493.6 67.3 492.3 72.6 490.3 79.1Z" fill="#2797eb"/>
<path d="M490.9 79 492.8 71.2 491.4 75.6 489.5 81.7Z" fill="#2e85f8"/>
<path d="M490 82 491.9 74.9 490.5 78.5 488.6 84.1Z" fill="#3b72ff"/>
<path d="M489.1 84.7 491 78.3 489.7 81.2 487.7 86.2Z" fill="#4561fc"/>
<path d="M488.3 87 490.2 81.4 488.8 83.6 486.9 88Z" fill="#4854f5"/>
<path d="M487.4 88.9 489.3 84.2 487.9 85.8 486 89.5Z" fill="#4848ec"/>
<path d="M486.5 90.4 488.4 86.5 487 87.6 485.1 90.8Z" fill="#473ee1"/>
<path d="M485.7 91.7 487.6 88.5 486.2 89.2 484.3 91.8Z" fill="#4537d6"/>
<path d="M484.8 92.7 486.7 90.1 485.3 90.5 483.4 92.6Z" fill="#4332ca"/>
<path d="M483.9 93.6 485.8 91.5 484.4 91.6 482.5 93.3Z" fill="#422fc1"/>
<path d="M483 94.2 485 92.6 483.6 92.5 481.7 93.9Z" fill="#412cba"/>
<path d="M482.2 94.8 484.1 93.4 482.7 93.2 480.8 94.3Z" fill="#402ab5"/>
<path d="M481.3 95.2 483.2 94.1 481.8 93.8 479.9 94.7Z" fill="#3f29b1"/>
<path d="M480.4 95.5 482.4 94.7 481 94.2 479.1 95Z" fill="#3f28ae"/>
<path d="M479.6 95.9 481.5 95.1 480.1 94.6 478.2 95.3Z" fill="#3e27ac"/>
<path d="M478.7 96.1 480.6 95.5 479.2 95 477.3 95.5Z" fill="#3e27ab"/>
<path d="M477.8 96.4 479.7 95.8 478.4 95.2 476.5 95.8Z" fill="#3e27aa"/>
<path d="M477 96.6 478.9 96.1 477.5 95.5 475.6 96Z" fill="#3e27a9"/>
<path d="M509.7 71.7 511.1 76.5 509.7 78.4 508.3 74.6Z" fill="#3d70ff"/>
<path d="M508.9 68.3 510.8 75.4 509.4 77.5 507.5 71.9Z" fill="#2e84f8"/>
<path d="M508 64.5 509.9 72.4 508.5 75.1 506.6 68.9Z" fill="#2797eb"/>
<path d="M507.1 60.7 509 69 507.7 72.4 505.7 65.8Z" fill="#1ca9df"/>
<path d="M506.3 56.8 508.2 65.3 506.8 69.5 504.9 62.8Z" fill="#01b8c9"/>
<path d="M505.4 53.1 507.3 61.4 505.9 66.5 504 59.8Z" fill="#26c2ad"/>
<path d="M504.5 49.7 506.4 57.5 505 63.4 503.1 57.2Z" fill="#41ca8d"/>
<path d="M503.6 46.9 505.6 53.8 504.2 60.4 502.3 54.9Z" fill="#6ecd66"/>
<path d="M502.8 44.7 504.7 50.4 503.3 57.7 501.4 53.2Z" fill="#9bc944"/>
<path d="M501.9 43.4 503.8 47.4 502.4 55.4 500.5 52.2Z" fill="#bcc42f"/>
<path d="M501 42.9 503 45.1 501.6 53.5 499.7 51.9Z" fill="#d0bf27"/>
<path d="M500.2 43.4 502.1 43.6 500.7 52.4 498.8 52.3Z" fill="#d9be28"/>
<path d="M499.3 44.8 501.2 42.9 499.8 51.9 497.9 53.5Z" fill="#d7be28"/>
<path d="M498.4 47 500.3 43.2 499 52.2 497.1 55.3Z" fill="#cac129"/>
<path d="M497.6 50 499.5 44.4 498.1 53.2 496.2 57.7Z" fill="#b1c635"/>
<path d="M496.7 53.6 498.6 46.5 497.2 54.9 495.3 60.6Z" fill="#8bcb51"/>
<path d="M495.8 57.6 497.7 49.4 496.4 57.2 494.5 63.9Z" fill="#5ccc76"/>
<path d="M495 61.8 496.9 52.8 495.5 60 493.6 67.3Z" fill="#35c79a"/>
<path d="M494.1 66.1 496 56.7 494.6 63.2 492.7 70.8Z" fill="#13beb8"/>
<path d="M493.2 70.3 495.1 60.9 493.8 66.6 491.8 74.2Z" fill="#0cb3d3"/>
<path d="M492.4 74.3 494.3 65.2 492.9 70.1 491 77.5Z" fill="#22a2e4"/>
<path d="M491.5 77.9 493.4 69.5 492 73.5 490.1 80.4Z" fill="#2c90f0"/>
<path d="M490.6 81.2 492.5 73.5 491.2 76.8 489.2 83.1Z" fill="#327cfc"/>
<path d="M489.8 84.1 491.7 77.2 490.3 79.9 488.4 85.5Z" fill="#4269fe"/>
<path d="M488.9 86.6 490.8 80.6 489.4 82.6 487.5 87.5Z" fill="#4759f9"/>
<path d="M488 88.6 489.9 83.6 488.5 85 486.6 89.2Z" fill="#484cf0"/>
<path d="M487.1 90.3 489.1 86.1 487.7 87.1 485.8 90.6Z" fill="#4742e6"/>
<path d="M486.3 91.7 488.2 88.3 486.8 88.9 484.9 91.7Z" fill="#4639da"/>
<path d="M485.4 92.8 487.3 90 485.9 90.3 484 92.7Z" fill="#4434ce"/>
<path d="M484.5 93.7 486.5 91.5 485.1 91.5 483.2 93.4Z" fill="#4230c4"/>
<path d="M483.7 94.4 485.6 92.6 484.2 92.5 482.3 94Z" fill="#412dbc"/>
<path d="M482.8 95 484.7 93.5 483.3 93.3 481.4 94.5Z" fill="#402bb6"/>
<path d="M481.9 95.4 483.8 94.3 482.5 93.9 480.6 94.9Z" fill="#3f29b2"/>
<path d="M481.1 95.8 483 94.9 481.6 94.4 479.7 95.3Z" fill="#3f28af"/>
<path d="M480.2 96.1 482.1 95.3 480.7 94.8 478.8 95.5Z" fill="#3e28ac"/>
<path d="M479.3 96.4 481.2 95.7 479.9 95.2 478 95.8Z" fill="#3e27ab"/>
<path d="M478.5 96.6 480.4 96 479 95.5 477.1 96Z" fill="#3e27aa"/>
<path d="M477.6 96.9 479.5 96.3 478.1 95.8 476.2 96.3Z" fill="#3e27a9"/>
<path d="M510.4 70.7 511.7 75.9 510.4 77.5 509 73.2Z" fill="#3579fd"/>
<path d="M509.5 67 511.4 74.7 510 76.5 508.1 70.1Z" fill="#2d8df2"/>
<path d="M508.6 63 510.5 71.4 509.1 73.8 507.2 66.8Z" fill="#23a1e5"/>
<path d="M507.8 58.8 509.7 67.8 508.3 70.8 506.4 63.3Z" fill="#0eb3d4"/>
<path d="M506.9 54.7 508.8 63.8 507.4 67.5 505.5 59.9Z" fill="#17bfb7"/>
<path d="M506 50.7 507.9 59.7 506.5 64 504.6 56.6Z" fill="#3ac994"/>
<path d="M505.1 47.1 507.1 55.5 505.7 60.6 503.8 53.6Z" fill="#6dcd68"/>
<path d="M504.3 44 506.2 51.5 504.8 57.2 502.9 51.1Z" fill="#a6c83d"/>
<path d="M503.4 41.7 505.3 47.8 503.9 54.2 502 49.1Z" fill="#d1bf27"/>
<path d="M502.5 40.2 504.5 44.6 503.1 51.5 501.2 47.9Z" fill="#ecba33"/>
<path d="M501.7 39.7 503.6 42.1 502.2 49.5 500.3 47.6Z" fill="#fbbc3d"/>
<path d="M500.8 40.2 502.7 40.4 501.3 48.1 499.4 48Z" fill="#febf3b"/>
<path d="M499.9 41.7 501.8 39.8 500.5 47.6 498.6 49.3Z" fill="#febe3c"/>
<path d="M499.1 44.1 501 40 499.6 47.8 497.7 51.3Z" fill="#f7ba3c"/>
<path d="M498.2 47.3 500.1 41.3 498.7 49 496.8 54Z" fill="#e3bb2c"/>
<path d="M497.3 51.1 499.2 43.6 497.9 50.9 495.9 57.2Z" fill="#c2c22c"/>
<path d="M496.5 55.3 498.4 46.6 497 53.4 495.1 60.8Z" fill="#91ca4d"/>
<path d="M495.6 59.8 497.5 50.3 496.1 56.6 494.2 64.6Z" fill="#57cc7a"/>
<path d="M494.7 64.4 496.6 54.5 495.3 60.1 493.3 68.5Z" fill="#2fc5a3"/>
<path d="M493.9 68.9 495.8 58.9 494.4 63.9 492.5 72.3Z" fill="#03bbc3"/>
<path d="M493 73.2 494.9 63.5 493.5 67.7 491.6 75.9Z" fill="#1aacdd"/>
<path d="M492.1 77.1 494 68 492.6 71.6 490.7 79.2Z" fill="#2699e9"/>
<path d="M491.3 80.6 493.2 72.3 491.8 75.2 489.9 82.2Z" fill="#2e85f8"/>
<path d="M490.4 83.7 492.3 76.3 490.9 78.6 489 84.8Z" fill="#3d71ff"/>
<path d="M489.5 86.3 491.4 79.9 490 81.6 488.1 87Z" fill="#465ffb"/>
<path d="M488.6 88.5 490.6 83.1 489.2 84.3 487.3 88.9Z" fill="#4851f3"/>
<path d="M487.8 90.3 489.7 85.8 488.3 86.6 486.4 90.5Z" fill="#4745e9"/>
<path d="M486.9 91.8 488.8 88.1 487.4 88.6 485.5 91.7Z" fill="#463bde"/>
<path d="M486 92.9 488 90 486.6 90.2 484.7 92.7Z" fill="#4435d1"/>
<path d="M485.2 93.9 487.1 91.5 485.7 91.5 483.8 93.5Z" fill="#4331c6"/>
<path d="M484.3 94.6 486.2 92.7 484.8 92.5 482.9 94.2Z" fill="#412ebe"/>
<path d="M483.4 95.2 485.3 93.7 484 93.4 482.1 94.7Z" fill="#402bb7"/>
<path d="M482.6 95.7 484.5 94.5 483.1 94.1 481.2 95.1Z" fill="#402ab3"/>
<path d="M481.7 96 483.6 95.1 482.2 94.6 480.3 95.5Z" fill="#3f28af"/>
<path d="M480.8 96.4 482.7 95.6 481.4 95.1 479.4 95.8Z" fill="#3f28ad"/>
<path d="M480 96.6 481.9 96 480.5 95.4 478.6 96.1Z" fill="#3e27ab"/>
<path d="M479.1 96.9 481 96.3 479.6 95.7 477.7 96.3Z" fill="#3e27aa"/>
<path d="M478.2 97.1 480.1 96.6 478.8 96 476.8 96.5Z" fill="#3e27a9"/>
<path d="M511 70 512.4 75.5 511 76.7 509.6 71.9Z" fill="#307ffb"/>
<path d="M510.1 66.1 512 74.2 510.6 75.6 508.7 68.5Z" fill="#2994ed"/>
<path d="M509.2 61.9 511.2 70.8 509.8 72.6 507.9 64.9Z" fill="#1da8e0"/>
<path d="M508.4 57.5 510.3 66.9 508.9 69.2 507 61.1Z" fill="#01b9c7"/>
<path d="M507.5 53.1 509.4 62.7 508 65.6 506.1 57.3Z" fill="#2dc4a6"/>
<path d="M506.6 48.9 508.6 58.4 507.2 61.8 505.3 53.6Z" fill="#57cc7a"/>
<path d="M505.8 45.1 507.7 54 506.3 58 504.4 50.3Z" fill="#98c947"/>
<path d="M504.9 41.9 506.8 49.7 505.4 54.3 503.5 47.5Z" fill="#cfc028"/>
<path d="M504 39.5 505.9 45.8 504.6 50.9 502.7 45.4Z" fill="#f4ba39"/>
<path d="M503.2 37.9 505.1 42.5 503.7 48 501.8 44.1Z" fill="#fec536"/>
<path d="M502.3 37.4 504.2 39.9 502.8 45.8 500.9 43.6Z" fill="#fbd12f"/>
<path d="M501.4 37.9 503.3 38.1 502 44.3 500 44.1Z" fill="#f9d72d"/>
<path d="M500.6 39.4 502.5 37.4 501.1 43.6 499.2 45.5Z" fill="#fad62d"/>
<path d="M499.7 41.9 501.6 37.7 500.2 43.9 498.3 47.7Z" fill="#fdcd31"/>
<path d="M498.8 45.3 500.7 39 499.4 45.1 497.4 50.6Z" fill="#fec03b"/>
<path d="M498 49.2 499.9 41.4 498.5 47.2 496.6 54.1Z" fill="#e8bb2e"/>
<path d="M497.1 53.7 499 44.5 497.6 50 495.7 58.1Z" fill="#bcc42f"/>
<path d="M496.2 58.4 498.1 48.4 496.7 53.4 494.8 62.2Z" fill="#7ecc5b"/>
<path d="M495.4 63.2 497.3 52.8 495.9 57.3 494 66.5Z" fill="#40ca8d"/>
<path d="M494.5 67.9 496.4 57.5 495 61.4 493.1 70.6Z" fill="#1cc0b3"/>
<path d="M493.6 72.4 495.5 62.3 494.1 65.6 492.2 74.5Z" fill="#0cb3d3"/>
<path d="M492.7 76.5 494.7 67 493.3 69.8 491.4 78.1Z" fill="#23a0e5"/>
<path d="M491.9 80.2 493.8 71.5 492.4 73.8 490.5 81.4Z" fill="#2d8cf3"/>
<path d="M491 83.4 492.9 75.7 491.5 77.4 489.6 84.2Z" fill="#3777fe"/>
<path d="M490.1 86.1 492.1 79.5 490.7 80.8 488.8 86.6Z" fill="#4564fd"/>
<path d="M489.3 88.4 491.2 82.8 489.8 83.7 487.9 88.7Z" fill="#4854f6"/>
<path d="M488.4 90.3 490.3 85.6 488.9 86.2 487 90.4Z" fill="#4848ec"/>
<path d="M487.5 91.9 489.4 88 488.1 88.3 486.2 91.7Z" fill="#463de0"/>
<path d="M486.7 93.1 488.6 90 487.2 90 485.3 92.8Z" fill="#4536d4"/>
<path d="M485.8 94.1 487.7 91.6 486.3 91.5 484.4 93.7Z" fill="#4332c8"/>
<path d="M484.9 94.8 486.8 92.9 485.5 92.6 483.5 94.4Z" fill="#422ebf"/>
<path d="M484.1 95.4 486 93.9 484.6 93.5 482.7 94.9Z" fill="#412cb8"/>
<path d="M483.2 95.9 485.1 94.7 483.7 94.2 481.8 95.4Z" fill="#402ab3"/>
<path d="M482.3 96.3 484.2 95.3 482.9 94.8 480.9 95.7Z" fill="#3f29b0"/>
<path d="M481.5 96.6 483.4 95.8 482 95.3 480.1 96.1Z" fill="#3f28ad"/>
<path d="M480.6 96.9 482.5 96.2 481.1 95.7 479.2 96.3Z" fill="#3e27ab"/>
<path d="M479.7 97.2 481.6 96.6 480.2 96 478.3 96.6Z" fill="#3e27aa"/>
<path d="M478.9 97.4 480.8 96.9 479.4 96.3 477.5 96.8Z" fill="#3e27aa"/>
<path d="M511.6 69.7 513 75.3 511.6 76 510.2 70.9Z" fill="#2e84f8"/>
<path d="M510.7 65.6 512.7 74 511.3 74.8 509.4 67.2Z" fill="#2699e9"/>
<path d="M509.9 61.3 511.8 70.5 510.4 71.6 508.5 63.3Z" fill="#17aedb"/>
<path d="M509 56.8 510.9 66.5 509.5 68 507.6 59.2Z" fill="#0bbdbd"/>
<path d="M508.1 52.2 510.1 62.2 508.7 64.1 506.8 55Z" fill="#37c897"/>
<path d="M507.3 47.9 509.2 57.7 507.8 60 505.9 51.1Z" fill="#72cd63"/>
<path d="M506.4 44 508.3 53.1 506.9 55.9 505 47.6Z" fill="#b8c531"/>
<path d="M505.5 40.7 507.4 48.8 506.1 51.9 504.2 44.5Z" fill="#eabb30"/>
<path d="M504.7 38.1 506.6 44.7 505.2 48.2 503.3 42.2Z" fill="#fec537"/>
<path d="M503.8 36.5 505.7 41.3 504.3 45.1 502.4 40.8Z" fill="#f9d72c"/>
<path d="M502.9 36 504.8 38.6 503.5 42.6 501.5 40.3Z" fill="#f5e426"/>
<path d="M502.1 36.5 504 36.8 502.6 41 500.7 40.8Z" fill="#f5ea24"/>
<path d="M501.2 38.1 503.1 36 501.7 40.3 499.8 42.3Z" fill="#f5e924"/>
<path d="M500.3 40.6 502.2 36.3 500.9 40.6 498.9 44.6Z" fill="#f6e028"/>
<path d="M499.5 44.1 501.4 37.7 500 41.9 498.1 47.8Z" fill="#fcd030"/>
<path d="M498.6 48.2 500.5 40.1 499.1 44.1 497.2 51.5Z" fill="#fdbd3d"/>
<path d="M497.7 52.8 499.6 43.3 498.2 47.1 496.3 55.7Z" fill="#d9be28"/>
<path d="M496.9 57.6 498.8 47.3 497.4 50.7 495.5 60.2Z" fill="#9ec942"/>
<path d="M496 62.6 497.9 51.8 496.5 54.9 494.6 64.7Z" fill="#58cc79"/>
<path d="M495.1 67.4 497 56.6 495.6 59.3 493.7 69.2Z" fill="#2cc4a7"/>
<path d="M494.2 72 496.2 61.6 494.8 63.8 492.9 73.4Z" fill="#01b8ca"/>
<path d="M493.4 76.2 495.3 66.5 493.9 68.3 492 77.2Z" fill="#1fa6e2"/>
<path d="M492.5 80 494.4 71.1 493 72.5 491.1 80.7Z" fill="#2b91ef"/>
<path d="M491.6 83.3 493.6 75.4 492.2 76.5 490.3 83.7Z" fill="#327cfc"/>
<path d="M490.8 86.2 492.7 79.3 491.3 80 489.4 86.3Z" fill="#4367fd"/>
<path d="M489.9 88.5 491.8 82.7 490.4 83.2 488.5 88.5Z" fill="#4757f7"/>
<path d="M489 90.5 490.9 85.6 489.6 85.9 487.7 90.3Z" fill="#484aee"/>
<path d="M488.2 92 490.1 88.1 488.7 88.1 486.8 91.8Z" fill="#473fe2"/>
<path d="M487.3 93.3 489.2 90.1 487.8 90 485.9 92.9Z" fill="#4537d6"/>
<path d="M486.4 94.3 488.3 91.7 487 91.5 485 93.8Z" fill="#4332ca"/>
<path d="M485.6 95 487.5 93.1 486.1 92.7 484.2 94.6Z" fill="#422fc0"/>
<path d="M484.7 95.7 486.6 94.1 485.2 93.7 483.3 95.1Z" fill="#412cb9"/>
<path d="M483.8 96.2 485.7 94.9 484.4 94.4 482.4 95.6Z" fill="#402ab4"/>
<path d="M483 96.6 484.9 95.6 483.5 95 481.6 96Z" fill="#3f29b0"/>
<path d="M482.1 96.9 484 96.1 482.6 95.5 480.7 96.3Z" fill="#3f28ad"/>
<path d="M481.2 97.2 483.1 96.5 481.7 95.9 479.8 96.6Z" fill="#3e27ac"/>
<path d="M480.4 97.4 482.3 96.8 480.9 96.3 479 96.8Z" fill="#3e27aa"/>
<path d="M479.5 97.7 481.4 97.1 480 96.5 478.1 97.1Z" fill="#3e27aa"/>
<path d="M512.2 69.7 513.6 75.4 512.2 75.6 510.9 70.1Z" fill="#2d88f6"/>
<path d="M511.4 65.6 513.3 74.1 511.9 74.3 510 66.3Z" fill="#259de7"/>
<path d="M510.5 61.2 512.4 70.5 511 70.9 509.1 62.1Z" fill="#12b1d6"/>
<path d="M509.6 56.7 511.5 66.5 510.2 67.1 508.3 57.7Z" fill="#18bfb6"/>
<path d="M508.8 52.1 510.7 62.1 509.3 62.9 507.4 53.4Z" fill="#41ca8c"/>
<path d="M507.9 47.7 509.8 57.6 508.4 58.6 506.5 49.2Z" fill="#86cb55"/>
<path d="M507 43.7 508.9 53 507.6 54.2 505.6 45.5Z" fill="#cac129"/>
<path d="M506.2 40.4 508.1 48.6 506.7 50 504.8 42.3Z" fill="#f8ba3d"/>
<path d="M505.3 37.8 507.2 44.5 505.8 46.2 503.9 39.8Z" fill="#fccf30"/>
<path d="M504.4 36.2 506.3 41 505 42.8 503 38.3Z" fill="#f5e327"/>
<path d="M503.6 35.6 505.5 38.3 504.1 40.2 502.2 37.8Z" fill="#f6f01f"/>
<path d="M502.7 36.2 504.6 36.4 503.2 38.5 501.3 38.3Z" fill="#f7f61a"/>
<path d="M501.8 37.8 503.7 35.7 502.3 37.8 500.4 39.8Z" fill="#f7f41c"/>
<path d="M501 40.4 502.9 36 501.5 38.1 499.6 42.3Z" fill="#f5ec22"/>
<path d="M500.1 43.8 502 37.4 500.6 39.4 498.7 45.6Z" fill="#f7dc2a"/>
<path d="M499.2 48 501.1 39.8 499.7 41.7 497.8 49.6Z" fill="#fec636"/>
<path d="M498.3 52.6 500.3 43.1 498.9 44.9 497 54Z" fill="#e9bb2f"/>
<path d="M497.5 57.5 499.4 47.1 498 48.7 496.1 58.7Z" fill="#b2c635"/>
<path d="M496.6 62.5 498.5 51.6 497.1 53.1 495.2 63.4Z" fill="#68cd6b"/>
<path d="M495.7 67.4 497.7 56.5 496.3 57.7 494.4 68.1Z" fill="#32c69f"/>
<path d="M494.9 72 496.8 61.5 495.4 62.5 493.5 72.5Z" fill="#02bac4"/>
<path d="M494 76.3 495.9 66.4 494.5 67.2 492.6 76.6Z" fill="#1caadf"/>
<path d="M493.1 80.1 495 71.1 493.7 71.7 491.8 80.2Z" fill="#2995ec"/>
<path d="M492.3 83.5 494.2 75.5 492.8 75.8 490.9 83.4Z" fill="#307ffb"/>
<path d="M491.4 86.3 493.3 79.4 491.9 79.6 490 86.2Z" fill="#426afe"/>
<path d="M490.5 88.7 492.4 82.8 491.1 82.8 489.1 88.4Z" fill="#4759f8"/>
<path d="M489.7 90.7 491.6 85.8 490.2 85.7 488.3 90.3Z" fill="#484bef"/>
<path d="M488.8 92.3 490.7 88.3 489.3 88 487.4 91.8Z" fill="#4740e4"/>
<path d="M487.9 93.5 489.8 90.3 488.5 90 486.5 93.1Z" fill="#4538d7"/>
<path d="M487.1 94.5 489 92 487.6 91.6 485.7 94Z" fill="#4433cb"/>
<path d="M486.2 95.3 488.1 93.3 486.7 92.8 484.8 94.8Z" fill="#422fc1"/>
<path d="M485.3 95.9 487.2 94.3 485.8 93.8 483.9 95.4Z" fill="#412cba"/>
<path d="M484.5 96.4 486.4 95.2 485 94.6 483.1 95.8Z" fill="#402ab4"/>
<path d="M483.6 96.8 485.5 95.8 484.1 95.3 482.2 96.2Z" fill="#3f29b0"/>
<path d="M482.7 97.2 484.6 96.3 483.2 95.8 481.3 96.6Z" fill="#3f28ae"/>
<path d="M481.8 97.5 483.8 96.8 482.4 96.2 480.5 96.9Z" fill="#3e27ac"/>
<path d="M481 97.7 482.9 97.1 481.5 96.5 479.6 97.1Z" fill="#3e27aa"/>
<path d="M480.1 97.9 482 97.4 480.6 96.8 478.7 97.3Z" fill="#3e27aa"/>
<path d="M512.9 70.2 514.3 75.8 512.9 75.3 511.5 69.7Z" fill="#2d89f5"/>
<path d="M512 66.1 513.9 74.5 512.5 74 510.6 65.7Z" fill="#249ee6"/>
<path d="M511.1 61.8 513 71 511.7 70.5 509.8 61.4Z" fill="#0eb2d4"/>
<path d="M510.3 57.2 512.2 67 510.8 66.5 508.9 56.9Z" fill="#1dc0b3"/>
<path d="M509.4 52.7 511.3 62.7 509.9 62.2 508 52.4Z" fill="#46cb88"/>
<path d="M508.5 48.4 510.4 58.1 509.1 57.8 507.1 48.1Z" fill="#8ecb4f"/>
<path d="M507.7 44.4 509.6 53.6 508.2 53.3 506.3 44.1Z" fill="#d1bf27"/>
<path d="M506.8 41.1 508.7 49.2 507.3 48.9 505.4 40.8Z" fill="#fcbc3d"/>
<path d="M505.9 38.6 507.8 45.2 506.5 44.9 504.5 38.3Z" fill="#fad42e"/>
<path d="M505.1 37 507 41.7 505.6 41.4 503.7 36.7Z" fill="#f5e825"/>
<path d="M504.2 36.4 506.1 39 504.7 38.7 502.8 36.2Z" fill="#f7f51b"/>
<path d="M503.3 36.9 505.2 37.2 503.8 37 501.9 36.7Z" fill="#f9fa15"/>
<path d="M502.5 38.5 504.4 36.4 503 36.2 501.1 38.3Z" fill="#f8f917"/>
<path d="M501.6 41.1 503.5 36.7 502.1 36.5 500.2 40.8Z" fill="#f6f11f"/>
<path d="M500.7 44.5 502.6 38.1 501.2 37.9 499.3 44.2Z" fill="#f6e128"/>
<path d="M499.8 48.6 501.8 40.5 500.4 40.2 498.5 48.3Z" fill="#fdcb33"/>
<path d="M499 53.2 500.9 43.8 499.5 43.5 497.6 52.9Z" fill="#efba35"/>
<path d="M498.1 58.1 500 47.8 498.6 47.5 496.7 57.7Z" fill="#b9c430"/>
<path d="M497.2 63.1 499.2 52.3 497.8 52 495.9 62.7Z" fill="#70cd65"/>
<path d="M496.4 67.9 498.3 57.1 496.9 56.8 495 67.5Z" fill="#35c79b"/>
<path d="M495.5 72.5 497.4 62.1 496 61.7 494.1 72.1Z" fill="#05bbc1"/>
<path d="M494.6 76.7 496.5 66.9 495.2 66.5 493.3 76.3Z" fill="#1babde"/>
<path d="M493.8 80.5 495.7 71.6 494.3 71.2 492.4 80Z" fill="#2896ec"/>
<path d="M492.9 83.8 494.8 75.9 493.4 75.5 491.5 83.3Z" fill="#2f80fa"/>
<path d="M492 86.7 493.9 79.8 492.6 79.3 490.6 86.1Z" fill="#416bfe"/>
<path d="M491.2 89 493.1 83.2 491.7 82.7 489.8 88.5Z" fill="#475af9"/>
<path d="M490.3 91 492.2 86.2 490.8 85.6 488.9 90.4Z" fill="#484cef"/>
<path d="M489.4 92.6 491.3 88.6 490 88.1 488 92Z" fill="#4740e4"/>
<path d="M488.6 93.8 490.5 90.6 489.1 90.1 487.2 93.2Z" fill="#4538d8"/>
<path d="M487.7 94.8 489.6 92.3 488.2 91.7 486.3 94.2Z" fill="#4433cb"/>
<path d="M486.8 95.6 488.7 93.6 487.3 93 485.4 95Z" fill="#422fc1"/>
<path d="M486 96.2 487.9 94.6 486.5 94 484.6 95.6Z" fill="#412cba"/>
<path d="M485.1 96.7 487 95.4 485.6 94.9 483.7 96.1Z" fill="#402ab5"/>
<path d="M484.2 97.1 486.1 96.1 484.7 95.5 482.8 96.5Z" fill="#3f29b0"/>
<path d="M483.3 97.4 485.3 96.6 483.9 96 482 96.8Z" fill="#3f28ae"/>
<path d="M482.5 97.7 484.4 97 483 96.4 481.1 97.1Z" fill="#3e27ac"/>
<path d="M481.6 98 483.5 97.4 482.1 96.8 480.2 97.4Z" fill="#3e27aa"/>
<path d="M480.7 98.2 482.7 97.7 481.3 97.1 479.4 97.6Z" fill="#3e27aa"/>
<path d="M513.5 71 514.9 76.5 513.5 75.4 512.1 69.7Z" fill="#2d88f6"/>
<path d="M512.6 67.1 514.5 75.3 513.2 74.1 511.2 65.6Z" fill="#249de6"/>
<path d="M511.8 62.9 513.7 71.8 512.3 70.5 510.4 61.2Z" fill="#10b2d5"/>
<path d="M510.9 58.4 512.8 67.9 511.4 66.5 509.5 56.6Z" fill="#1ac0b4"/>
<path d="M510 54 511.9 63.7 510.6 62.1 508.6 52.1Z" fill="#43ca8a"/>
<path d="M509.2 49.8 511.1 59.3 509.7 57.6 507.8 47.7Z" fill="#8acb52"/>
<path d="M508.3 46 510.2 54.9 508.8 53 506.9 43.7Z" fill="#cec028"/>
<path d="M507.4 42.8 509.3 50.7 507.9 48.5 506 40.4Z" fill="#fabb3d"/>
<path d="M506.6 40.3 508.5 46.7 507.1 44.5 505.2 37.8Z" fill="#fbd12f"/>
<path d="M505.7 38.8 507.6 43.4 506.2 41 504.3 36.2Z" fill="#f5e526"/>
<path d="M504.8 38.2 506.7 40.7 505.3 38.2 503.4 35.6Z" fill="#f6f21d"/>
<path d="M503.9 38.7 505.9 39 504.5 36.4 502.6 36.1Z" fill="#f8f818"/>
<path d="M503.1 40.3 505 38.2 503.6 35.6 501.7 37.7Z" fill="#f8f719"/>
<path d="M502.2 42.8 504.1 38.5 502.7 35.9 500.8 40.3Z" fill="#f5ee21"/>
<path d="M501.3 46.1 503.3 39.9 501.9 37.3 500 43.8Z" fill="#f6de29"/>
<path d="M500.5 50.1 502.4 42.2 501 39.7 499.1 47.9Z" fill="#fec834"/>
<path d="M499.6 54.6 501.5 45.4 500.1 43 498.2 52.6Z" fill="#ecba32"/>
<path d="M498.7 59.4 500.6 49.3 499.3 47.1 497.4 57.5Z" fill="#b5c533"/>
<path d="M497.9 64.2 499.8 53.7 498.4 51.6 496.5 62.5Z" fill="#6ccd68"/>
<path d="M497 68.9 498.9 58.4 497.5 56.5 495.6 67.4Z" fill="#33c79d"/>
<path d="M496.1 73.4 498 63.2 496.7 61.5 494.7 72Z" fill="#03bbc2"/>
<path d="M495.3 77.5 497.2 68 495.8 66.4 493.9 76.3Z" fill="#1baade"/>
<path d="M494.4 81.2 496.3 72.5 494.9 71.1 493 80.1Z" fill="#2895ec"/>
<path d="M493.5 84.4 495.4 76.7 494.1 75.4 492.1 83.4Z" fill="#3080fb"/>
<path d="M492.7 87.2 494.6 80.5 493.2 79.4 491.3 86.3Z" fill="#426afe"/>
<path d="M491.8 89.5 493.7 83.8 492.3 82.8 490.4 88.7Z" fill="#4759f8"/>
<path d="M490.9 91.4 492.8 86.7 491.4 85.7 489.5 90.6Z" fill="#484bef"/>
<path d="M490.1 92.9 492 89.1 490.6 88.2 488.7 92.2Z" fill="#4740e4"/>
<path d="M489.2 94.2 491.1 91.1 489.7 90.3 487.8 93.5Z" fill="#4538d7"/>
<path d="M488.3 95.1 490.2 92.7 488.8 91.9 486.9 94.5Z" fill="#4433cb"/>
<path d="M487.4 95.9 489.4 93.9 488 93.2 486.1 95.3Z" fill="#422fc1"/>
<path d="M486.6 96.5 488.5 95 487.1 94.3 485.2 95.9Z" fill="#412cba"/>
<path d="M485.7 97 487.6 95.8 486.2 95.1 484.3 96.4Z" fill="#402ab4"/>
<path d="M484.8 97.4 486.8 96.4 485.4 95.8 483.5 96.8Z" fill="#3f29b0"/>
<path d="M484 97.7 485.9 96.9 484.5 96.3 482.6 97.1Z" fill="#3f28ae"/>
<path d="M483.1 98 485 97.3 483.6 96.7 481.7 97.4Z" fill="#3e27ac"/>
<path d="M482.2 98.3 484.1 97.7 482.8 97 480.9 97.7Z" fill="#3e27aa"/>
<path d="M481.4 98.5 483.3 97.9 481.9 97.3 480 97.9Z" fill="#3e27aa"/>
<path d="M514.1 72.2 515.5 77.4 514.1 75.7 512.7 70.1Z" fill="#2e86f8"/>
<path d="M513.3 68.5 515.2 76.2 513.8 74.4 511.9 66Z" fill="#259be8"/>
<path d="M512.4 64.4 514.3 72.9 512.9 70.8 511 61.6Z" fill="#15afd9"/>
<path d="M511.5 60.3 513.4 69.3 512.1 66.8 510.1 57.1Z" fill="#10beba"/>
<path d="M510.7 56.1 512.6 65.3 511.2 62.5 509.3 52.5Z" fill="#3bc993"/>
<path d="M509.8 52.1 511.7 61.1 510.3 58 508.4 48.2Z" fill="#7acc5e"/>
<path d="M508.9 48.4 510.8 56.9 509.4 53.4 507.5 44.2Z" fill="#bfc32e"/>
<path d="M508.1 45.3 510 52.8 508.6 49 506.7 40.9Z" fill="#efba35"/>
<path d="M507.2 43 509.1 49.1 507.7 45 505.8 38.3Z" fill="#fec934"/>
<path d="M506.3 41.5 508.2 45.9 506.8 41.5 504.9 36.7Z" fill="#f7dc2a"/>
<path d="M505.4 41 507.4 43.4 506 38.8 504.1 36.2Z" fill="#f5e924"/>
<path d="M504.6 41.5 506.5 41.7 505.1 37 503.2 36.7Z" fill="#f5ee21"/>
<path d="M503.7 43 505.6 41 504.2 36.2 502.3 38.3Z" fill="#f5ed22"/>
<path d="M502.8 45.4 504.8 41.3 503.4 36.5 501.5 40.9Z" fill="#f5e526"/>
<path d="M502 48.6 503.9 42.6 502.5 37.9 500.6 44.3Z" fill="#fad52e"/>
<path d="M501.1 52.4 503 44.9 501.6 40.3 499.7 48.4Z" fill="#fec03b"/>
<path d="M500.2 56.7 502.1 47.9 500.8 43.5 498.9 53Z" fill="#dfbc2a"/>
<path d="M499.4 61.3 501.3 51.6 499.9 47.6 498 57.9Z" fill="#a5c83d"/>
<path d="M498.5 65.9 500.4 55.8 499 52.1 497.1 62.9Z" fill="#5ecc74"/>
<path d="M497.6 70.4 499.5 60.3 498.2 56.9 496.2 67.8Z" fill="#2ec5a4"/>
<path d="M496.8 74.7 498.7 64.9 497.3 61.9 495.4 72.4Z" fill="#01b9c7"/>
<path d="M495.9 78.6 497.8 69.5 496.4 66.8 494.5 76.6Z" fill="#1ea7e1"/>
<path d="M495 82.1 496.9 73.8 495.6 71.5 493.6 80.4Z" fill="#2a92ee"/>
<path d="M494.2 85.2 496.1 77.8 494.7 75.8 492.8 83.8Z" fill="#317dfc"/>
<path d="M493.3 87.9 495.2 81.5 493.8 79.7 491.9 86.6Z" fill="#4368fe"/>
<path d="M492.4 90.1 494.3 84.7 492.9 83.1 491 89Z" fill="#4758f8"/>
<path d="M491.6 91.9 493.5 87.4 492.1 86.1 490.2 90.9Z" fill="#484aee"/>
<path d="M490.7 93.4 492.6 89.7 491.2 88.5 489.3 92.5Z" fill="#473fe3"/>
<path d="M489.8 94.6 491.7 91.6 490.3 90.6 488.4 93.8Z" fill="#4537d6"/>
<path d="M488.9 95.5 490.9 93.1 489.5 92.2 487.6 94.7Z" fill="#4332ca"/>
<path d="M488.1 96.2 490 94.3 488.6 93.5 486.7 95.5Z" fill="#422fc1"/>
<path d="M487.2 96.8 489.1 95.3 487.7 94.6 485.8 96.1Z" fill="#412cb9"/>
<path d="M486.3 97.3 488.3 96.1 486.9 95.4 485 96.6Z" fill="#402ab4"/>
<path d="M485.5 97.7 487.4 96.7 486 96 484.1 97Z" fill="#3f29b0"/>
<path d="M484.6 98 486.5 97.2 485.1 96.6 483.2 97.4Z" fill="#3f28ad"/>
<path d="M483.7 98.3 485.6 97.6 484.3 97 482.4 97.7Z" fill="#3e27ac"/>
<path d="M482.9 98.5 484.8 97.9 483.4 97.3 481.5 97.9Z" fill="#3e27aa"/>
<path d="M482 98.8 483.9 98.2 482.5 97.6 480.6 98.2Z" fill="#3e27aa"/>
<path d="M514.8 73.7 516.1 78.6 514.8 76.4 513.4 70.8Z" fill="#2f81fa"/>
<path d="M513.9 70.2 515.8 77.5 514.4 75.1 512.5 66.9Z" fill="#2896eb"/>
<path d="M513 66.5 514.9 74.4 513.5 71.6 511.6 62.6Z" fill="#1baade"/>
<path d="M512.2 62.6 514.1 71 512.7 67.7 510.8 58.2Z" fill="#02bac4"/>
<path d="M511.3 58.7 513.2 67.2 511.8 63.5 509.9 53.7Z" fill="#30c5a1"/>
<path d="M510.4 54.9 512.3 63.4 510.9 59 509 49.5Z" fill="#60cd72"/>
<path d="M509.5 51.5 511.5 59.4 510.1 54.6 508.2 45.6Z" fill="#a3c83e"/>
<path d="M508.7 48.7 510.6 55.6 509.2 50.3 507.3 42.4Z" fill="#d9bd28"/>
<path d="M507.8 46.5 509.7 52.2 508.3 46.4 506.4 39.9Z" fill="#fbbc3d"/>
<path d="M506.9 45.1 508.9 49.2 507.5 43 505.6 38.3Z" fill="#fdcc32"/>
<path d="M506.1 44.7 508 46.9 506.6 40.3 504.7 37.8Z" fill="#f9d82c"/>
<path d="M505.2 45.1 507.1 45.3 505.7 38.5 503.8 38.3Z" fill="#f6de29"/>
<path d="M504.3 46.5 506.2 44.7 504.9 37.8 503 39.8Z" fill="#f7dc2a"/>
<path d="M503.5 48.8 505.4 45 504 38.1 502.1 42.4Z" fill="#fad42e"/>
<path d="M502.6 51.8 504.5 46.2 503.1 39.5 501.2 45.7Z" fill="#fec537"/>
<path d="M501.7 55.4 503.6 48.3 502.3 41.8 500.3 49.8Z" fill="#f0ba36"/>
<path d="M500.9 59.4 502.8 51.2 501.4 45 499.5 54.3Z" fill="#c6c22a"/>
<path d="M500 63.7 501.9 54.7 500.5 48.9 498.6 59.1Z" fill="#89cb52"/>
<path d="M499.1 68 501 58.6 499.7 53.3 497.7 63.9Z" fill="#48cb86"/>
<path d="M498.3 72.3 500.2 62.8 498.8 58.1 496.9 68.7Z" fill="#23c1af"/>
<path d="M497.4 76.3 499.3 67.2 497.9 62.9 496 73.2Z" fill="#07b5d0"/>
<path d="M496.5 80 498.4 71.4 497 67.7 495.1 77.3Z" fill="#21a2e4"/>
<path d="M495.7 83.3 497.6 75.5 496.2 72.3 494.3 81.1Z" fill="#2c8ef1"/>
<path d="M494.8 86.2 496.7 79.3 495.3 76.5 493.4 84.3Z" fill="#3579fd"/>
<path d="M493.9 88.7 495.8 82.7 494.4 80.3 492.5 87.1Z" fill="#4465fd"/>
<path d="M493 90.8 495 85.7 493.6 83.7 491.7 89.4Z" fill="#4755f6"/>
<path d="M492.2 92.5 494.1 88.2 492.7 86.6 490.8 91.3Z" fill="#4848ec"/>
<path d="M491.3 93.9 493.2 90.4 491.8 89 489.9 92.9Z" fill="#463ee1"/>
<path d="M490.4 95 492.4 92.2 491 91 489.1 94.1Z" fill="#4537d5"/>
<path d="M489.6 95.9 491.5 93.6 490.1 92.6 488.2 95.1Z" fill="#4332c9"/>
<path d="M488.7 96.6 490.6 94.8 489.2 93.9 487.3 95.8Z" fill="#422ebf"/>
<path d="M487.8 97.1 489.7 95.7 488.4 94.9 486.5 96.4Z" fill="#412cb9"/>
<path d="M487 97.6 488.9 96.4 487.5 95.7 485.6 96.9Z" fill="#402ab4"/>
<path d="M486.1 98 488 97 486.6 96.3 484.7 97.3Z" fill="#3f29b0"/>
<path d="M485.2 98.3 487.1 97.5 485.8 96.8 483.8 97.7Z" fill="#3f28ad"/>
<path d="M484.4 98.6 486.3 97.9 484.9 97.3 483 97.9Z" fill="#3e27ab"/>
<path d="M483.5 98.8 485.4 98.2 484 97.6 482.1 98.2Z" fill="#3e27aa"/>
<path d="M482.6 99 484.5 98.5 483.2 97.9 481.2 98.4Z" fill="#3e27aa"/>
<path d="M515.4 75.5 516.8 79.9 515.4 77.2 514 72Z" fill="#337bfc"/>
<path d="M514.5 72.3 516.4 78.9 515 76 513.1 68.2Z" fill="#2c8ff0"/>
<path d="M513.6 68.9 515.6 76.1 514.2 72.7 512.3 64.1Z" fill="#21a3e3"/>
<path d="M512.8 65.3 514.7 73 513.3 69 511.4 59.8Z" fill="#07b5d0"/>
<path d="M511.9 61.7 513.8 69.6 512.4 64.9 510.5 55.6Z" fill="#20c1b1"/>
<path d="M511 58.3 513 66 511.6 60.7 509.7 51.6Z" fill="#42ca8c"/>
<path d="M510.2 55.2 512.1 62.4 510.7 56.5 508.8 47.9Z" fill="#7bcc5d"/>
<path d="M509.3 52.6 511.2 59 509.8 52.3 507.9 44.8Z" fill="#b5c533"/>
<path d="M508.4 50.6 510.3 55.8 509 48.6 507.1 42.4Z" fill="#debd29"/>
<path d="M507.6 49.4 509.5 53.1 508.1 45.3 506.2 40.9Z" fill="#f7ba3c"/>
<path d="M506.7 49 508.6 50.9 507.2 42.8 505.3 40.4Z" fill="#fec239"/>
<path d="M505.8 49.4 507.7 49.6 506.4 41.1 504.5 40.9Z" fill="#fec736"/>
<path d="M505 50.7 506.9 49 505.5 40.4 503.6 42.4Z" fill="#fec636"/>
<path d="M504.1 52.8 506 49.3 504.6 40.7 502.7 44.8Z" fill="#febe3c"/>
<path d="M503.2 55.6 505.1 50.4 503.8 42 501.8 48Z" fill="#efba35"/>
<path d="M502.4 58.9 504.3 52.3 502.9 44.3 501 51.9Z" fill="#d0c027"/>
<path d="M501.5 62.6 503.4 55 502 47.3 500.1 56.2Z" fill="#a0c941"/>
<path d="M500.6 66.5 502.5 58.2 501.2 51.1 499.2 60.8Z" fill="#63cd70"/>
<path d="M499.8 70.5 501.7 61.9 500.3 55.4 498.4 65.5Z" fill="#34c79c"/>
<path d="M498.9 74.4 500.8 65.7 499.4 59.9 497.5 70.1Z" fill="#0abdbe"/>
<path d="M498 78.1 499.9 69.7 498.5 64.6 496.6 74.4Z" fill="#16afda"/>
<path d="M497.1 81.6 499.1 73.7 497.7 69.2 495.8 78.4Z" fill="#259ce7"/>
<path d="M496.3 84.6 498.2 77.4 496.8 73.5 494.9 81.9Z" fill="#2d87f6"/>
<path d="M495.4 87.3 497.3 80.9 495.9 77.6 494 85.1Z" fill="#3b73fe"/>
<path d="M494.5 89.6 496.5 84 495.1 81.3 493.2 87.7Z" fill="#4661fc"/>
<path d="M493.7 91.5 495.6 86.8 494.2 84.5 492.3 90Z" fill="#4852f4"/>
<path d="M492.8 93.1 494.7 89.2 493.3 87.2 491.4 91.8Z" fill="#4746ea"/>
<path d="M491.9 94.4 493.8 91.2 492.5 89.6 490.6 93.3Z" fill="#463cdf"/>
<path d="M491.1 95.5 493 92.8 491.6 91.5 489.7 94.5Z" fill="#4535d2"/>
<path d="M490.2 96.3 492.1 94.2 490.7 93 488.8 95.4Z" fill="#4331c7"/>
<path d="M489.3 96.9 491.2 95.3 489.9 94.3 488 96.2Z" fill="#412ebe"/>
<path d="M488.5 97.5 490.4 96.1 489 95.2 487.1 96.8Z" fill="#402bb8"/>
<path d="M487.6 97.9 489.5 96.8 488.1 96 486.2 97.2Z" fill="#402ab3"/>
<path d="M486.7 98.3 488.6 97.4 487.3 96.6 485.3 97.6Z" fill="#3f29af"/>
<path d="M485.9 98.6 487.8 97.8 486.4 97.1 484.5 97.9Z" fill="#3f28ad"/>
<path d="M485 98.8 486.9 98.2 485.5 97.5 483.6 98.2Z" fill="#3e27ab"/>
<path d="M484.1 99.1 486 98.5 484.7 97.9 482.7 98.5Z" fill="#3e27aa"/>
<path d="M483.3 99.3 485.2 98.8 483.8 98.2 481.9 98.7Z" fill="#3e27a9"/>
<path d="M516 77.4 517.4 81.4 516 78.4 514.6 73.4Z" fill="#3a73fe"/>
<path d="M515.1 74.6 517.1 80.5 515.7 77.2 513.8 69.9Z" fill="#2e87f7"/>
<path d="M514.3 71.5 516.2 77.9 514.8 74.1 512.9 66Z" fill="#269ae8"/>
<path d="M513.4 68.3 515.3 75.1 513.9 70.6 512 62.1Z" fill="#19addc"/>
<path d="M512.5 65.1 514.5 72.1 513.1 66.8 511.2 58.1Z" fill="#02bbc3"/>
<path d="M511.7 62 513.6 68.9 512.2 62.9 510.3 54.3Z" fill="#2dc4a5"/>
<path d="M510.8 59.3 512.7 65.7 511.3 58.9 509.4 50.9Z" fill="#4ecc81"/>
<path d="M509.9 56.9 511.8 62.6 510.5 55 508.6 47.9Z" fill="#81cc59"/>
<path d="M509.1 55.2 511 59.8 509.6 51.5 507.7 45.7Z" fill="#aec637"/>
<path d="M508.2 54.1 510.1 57.4 508.7 48.5 506.8 44.3Z" fill="#cec028"/>
<path d="M507.3 53.7 509.2 55.5 507.9 46.1 505.9 43.9Z" fill="#e0bc2b"/>
<path d="M506.5 54.2 508.4 54.2 507 44.6 505.1 44.4Z" fill="#e8bb2f"/>
<path d="M505.6 55.4 507.5 53.7 506.1 43.9 504.2 45.8Z" fill="#e6bb2d"/>
<path d="M504.7 57.3 506.6 54 505.3 44.2 503.3 48.1Z" fill="#dbbd28"/>
<path d="M503.9 59.8 505.8 55.1 504.4 45.4 502.5 51.1Z" fill="#c3c22b"/>
<path d="M503 62.8 504.9 56.8 503.5 47.6 501.6 54.8Z" fill="#9ec942"/>
<path d="M502.1 66.1 504 59.2 502.6 50.5 500.7 58.8Z" fill="#6ccd68"/>
<path d="M501.3 69.7 503.2 62.1 501.8 54 499.9 63.2Z" fill="#3dc990"/>
<path d="M500.4 73.3 502.3 65.4 500.9 58 499 67.6Z" fill="#1fc1b1"/>
<path d="M499.5 76.8 501.4 69 500 62.3 498.1 71.9Z" fill="#05b6ce"/>
<path d="M498.6 80.2 500.6 72.6 499.2 66.7 497.3 75.9Z" fill="#1fa6e2"/>
<path d="M497.8 83.3 499.7 76.1 498.3 71 496.4 79.7Z" fill="#2a93ee"/>
<path d="M496.9 86.1 498.8 79.5 497.4 75.1 495.5 83Z" fill="#307ffb"/>
<path d="M496 88.5 498 82.7 496.6 79 494.7 86Z" fill="#416cfe"/>
<path d="M495.2 90.6 497.1 85.5 495.7 82.4 493.8 88.5Z" fill="#475bf9"/>
<path d="M494.3 92.3 496.2 88 494.8 85.4 492.9 90.6Z" fill="#484ef1"/>
<path d="M493.4 93.8 495.3 90.2 494 88 492.1 92.4Z" fill="#4743e7"/>
<path d="M492.6 95 494.5 92 493.1 90.2 491.2 93.8Z" fill="#463adb"/>
<path d="M491.7 95.9 493.6 93.5 492.2 92 490.3 94.9Z" fill="#4434cf"/>
<path d="M490.8 96.7 492.7 94.8 491.4 93.5 489.4 95.8Z" fill="#4330c5"/>
<path d="M490 97.3 491.9 95.8 490.5 94.7 488.6 96.5Z" fill="#412dbc"/>
<path d="M489.1 97.8 491 96.6 489.6 95.6 487.7 97.1Z" fill="#402bb7"/>
<path d="M488.2 98.2 490.1 97.2 488.8 96.4 486.8 97.5Z" fill="#3f29b2"/>
<path d="M487.4 98.6 489.3 97.7 487.9 97 486 97.9Z" fill="#3f28af"/>
<path d="M486.5 98.9 488.4 98.1 487 97.4 485.1 98.2Z" fill="#3e28ad"/>
<path d="M485.6 99.1 487.5 98.5 486.1 97.8 484.2 98.5Z" fill="#3e27ab"/>
<path d="M484.8 99.4 486.7 98.8 485.3 98.2 483.4 98.8Z" fill="#3e27aa"/>
<path d="M483.9 99.6 485.8 99.1 484.4 98.5 482.5 99Z" fill="#3e27a9"/>
<path d="M516.6 79.4 518 82.9 516.7 79.6 515.3 75.1Z" fill="#426afe"/>
<path d="M515.8 76.9 517.7 82.1 516.3 78.6 514.4 71.9Z" fill="#317dfc"/>
<path d="M514.9 74.2 516.8 79.9 515.4 75.7 513.5 68.4Z" fill="#2c90f0"/>
<path d="M514 71.4 515.9 77.4 514.6 72.5 512.7 64.7Z" fill="#22a1e4"/>
<path d="M513.2 68.6 515.1 74.8 513.7 69.1 511.8 61.1Z" fill="#11b1d6"/>
<path d="M512.3 66 514.2 72 512.8 65.5 510.9 57.6Z" fill="#0abdbd"/>
<path d="M511.4 63.5 513.3 69.2 512 61.8 510.1 54.4Z" fill="#2fc5a3"/>
<path d="M510.6 61.5 512.5 66.5 511.1 58.3 509.2 51.8Z" fill="#49cb85"/>
<path d="M509.7 60 511.6 64 510.2 55 508.3 49.7Z" fill="#6fcd66"/>
<path d="M508.8 59 510.7 61.9 509.4 52.3 507.4 48.5Z" fill="#90ca4d"/>
<path d="M508 58.7 509.9 60.2 508.5 50.1 506.6 48.1Z" fill="#a5c83d"/>
<path d="M507.1 59.1 509 59.2 507.6 48.7 505.7 48.5Z" fill="#afc637"/>
<path d="M506.2 60.2 508.1 58.7 506.8 48.1 504.8 49.8Z" fill="#adc638"/>
<path d="M505.4 61.9 507.3 59 505.9 48.4 504 52Z" fill="#9ec942"/>
<path d="M504.5 64.2 506.4 60 505 49.5 503.1 54.8Z" fill="#84cc56"/>
<path d="M503.6 66.9 505.5 61.5 504.1 51.5 502.2 58.2Z" fill="#60cd72"/>
<path d="M502.7 69.8 504.7 63.7 503.3 54.2 501.4 61.9Z" fill="#3cc991"/>
<path d="M501.9 73 503.8 66.3 502.4 57.5 500.5 65.9Z" fill="#25c2ae"/>
<path d="M501 76.2 502.9 69.2 501.5 61.2 499.6 70Z" fill="#01b9c7"/>
<path d="M500.1 79.4 502.1 72.4 500.7 65.1 498.8 74Z" fill="#1aacdd"/>
<path d="M499.3 82.3 501.2 75.6 499.8 69.2 497.9 77.8Z" fill="#269be8"/>
<path d="M498.4 85.1 500.3 78.7 498.9 73.2 497 81.2Z" fill="#2d88f6"/>
<path d="M497.5 87.6 499.4 81.8 498.1 77 496.2 84.3Z" fill="#3875fe"/>
<path d="M496.7 89.7 498.6 84.6 497.2 80.6 495.3 87.1Z" fill="#4564fd"/>
<path d="M495.8 91.6 497.7 87.1 496.3 83.7 494.4 89.4Z" fill="#4755f6"/>
<path d="M494.9 93.2 496.8 89.3 495.5 86.6 493.6 91.4Z" fill="#4849ed"/>
<path d="M494.1 94.5 496 91.3 494.6 89 492.7 93Z" fill="#473fe3"/>
<path d="M493.2 95.6 495.1 92.9 493.7 91 491.8 94.3Z" fill="#4538d7"/>
<path d="M492.3 96.4 494.2 94.3 492.9 92.7 490.9 95.4Z" fill="#4433cc"/>
<path d="M491.5 97.1 493.4 95.4 492 94.1 490.1 96.2Z" fill="#422fc2"/>
<path d="M490.6 97.7 492.5 96.3 491.1 95.2 489.2 96.9Z" fill="#412cbb"/>
<path d="M489.7 98.2 491.6 97 490.3 96 488.3 97.4Z" fill="#402ab5"/>
<path d="M488.9 98.5 490.8 97.6 489.4 96.7 487.5 97.8Z" fill="#3f29b1"/>
<path d="M488 98.9 489.9 98.1 488.5 97.3 486.6 98.2Z" fill="#3f28ae"/>
<path d="M487.1 99.2 489 98.5 487.6 97.8 485.7 98.5Z" fill="#3e28ac"/>
<path d="M486.2 99.4 488.2 98.8 486.8 98.1 484.9 98.8Z" fill="#3e27ab"/>
<path d="M485.4 99.7 487.3 99.1 485.9 98.5 484 99Z" fill="#3e27aa"/>
<path d="M484.5 99.9 486.4 99.4 485 98.7 483.1 99.3Z" fill="#3e27a9"/>
<path d="M517.3 81.4 518.7 84.4 517.3 81.1 515.9 77Z" fill="#4561fc"/>
<path d="M516.4 79.3 518.3 83.7 516.9 80.1 515 74.1Z" fill="#3c72ff"/>
<path d="M515.5 77 517.4 81.8 516.1 77.6 514.2 70.9Z" fill="#2e84f9"/>
<path d="M514.7 74.6 516.6 79.7 515.2 74.7 513.3 67.7Z" fill="#2995ec"/>
<path d="M513.8 72.2 515.7 77.5 514.3 71.6 512.4 64.4Z" fill="#20a5e3"/>
<path d="M512.9 69.9 514.8 75.1 513.5 68.3 511.5 61.3Z" fill="#0eb2d4"/>
<path d="M512.1 67.8 514 72.7 512.6 65 510.7 58.4Z" fill="#07bcc0"/>
<path d="M511.2 66.1 513.1 70.4 511.7 61.9 509.8 56Z" fill="#28c3ab"/>
<path d="M510.3 64.8 512.2 68.2 510.9 59 508.9 54.2Z" fill="#38c896"/>
<path d="M509.5 64 511.4 66.4 510 56.5 508.1 53.1Z" fill="#4bcb83"/>
<path d="M508.6 63.8 510.5 65 509.1 54.5 507.2 52.7Z" fill="#5dcc75"/>
<path d="M507.7 64.2 509.6 64.1 508.2 53.3 506.3 53.2Z" fill="#64cd6e"/>
<path d="M506.9 65.1 508.8 63.8 507.4 52.8 505.5 54.4Z" fill="#62cd70"/>
<path d="M506 66.6 507.9 64.1 506.5 53 504.6 56.3Z" fill="#57cc7a"/>
<path d="M505.1 68.6 507 64.9 505.6 54.1 503.7 58.9Z" fill="#43ca8a"/>
<path d="M504.2 71 506.2 66.3 504.8 55.9 502.9 62Z" fill="#32c69e"/>
<path d="M503.4 73.6 505.3 68.2 503.9 58.4 502 65.4Z" fill="#1dc0b3"/>
<path d="M502.5 76.3 504.4 70.5 503 61.3 501.1 69Z" fill="#01b9c8"/>
<path d="M501.6 79.1 503.6 73 502.2 64.7 500.3 72.7Z" fill="#18addb"/>
<path d="M500.8 81.9 502.7 75.8 501.3 68.3 499.4 76.3Z" fill="#249ee6"/>
<path d="M499.9 84.5 501.8 78.6 500.4 72 498.5 79.8Z" fill="#2c8ef1"/>
<path d="M499 86.9 500.9 81.4 499.6 75.6 497.7 82.9Z" fill="#317dfc"/>
<path d="M498.2 89.1 500.1 84 498.7 79.1 496.8 85.8Z" fill="#416bfe"/>
<path d="M497.3 91 499.2 86.5 497.8 82.3 495.9 88.3Z" fill="#475cfa"/>
<path d="M496.4 92.7 498.3 88.7 497 85.2 495 90.4Z" fill="#484ff2"/>
<path d="M495.6 94 497.5 90.6 496.1 87.8 494.2 92.2Z" fill="#4744e9"/>
<path d="M494.7 95.2 496.6 92.3 495.2 90 493.3 93.7Z" fill="#463cde"/>
<path d="M493.8 96.2 495.7 93.8 494.4 91.8 492.4 94.9Z" fill="#4536d2"/>
<path d="M493 96.9 494.9 95 493.5 93.4 491.6 95.8Z" fill="#4331c8"/>
<path d="M492.1 97.6 494 96 492.6 94.6 490.7 96.6Z" fill="#422ebf"/>
<path d="M491.2 98.1 493.1 96.8 491.7 95.7 489.8 97.2Z" fill="#412cb9"/>
<path d="M490.4 98.5 492.3 97.4 490.9 96.5 489 97.7Z" fill="#402ab4"/>
<path d="M489.5 98.9 491.4 98 490 97.1 488.1 98.2Z" fill="#3f29b0"/>
<path d="M488.6 99.2 490.5 98.4 489.1 97.7 487.2 98.5Z" fill="#3f28ae"/>
<path d="M487.7 99.5 489.7 98.8 488.3 98.1 486.4 98.8Z" fill="#3e27ac"/>
<path d="M486.9 99.7 488.8 99.1 487.4 98.4 485.5 99.1Z" fill="#3e27ab"/>
<path d="M486 99.9 487.9 99.4 486.5 98.8 484.6 99.3Z" fill="#3e27aa"/>
<path d="M485.1 100.2 487.1 99.7 485.7 99 483.8 99.5Z" fill="#3e27a9"/>
<path d="M517.9 83.4 519.3 85.9 517.9 82.6 516.5 79Z" fill="#4759f8"/>
<path d="M517 81.6 518.9 85.3 517.6 81.8 515.6 76.4Z" fill="#4466fd"/>
<path d="M516.2 79.7 518.1 83.8 516.7 79.5 514.8 73.7Z" fill="#3876fe"/>
<path d="M515.3 77.7 517.2 82 515.8 77 513.9 70.8Z" fill="#2e86f7"/>
<path d="M514.4 75.7 516.3 80.1 515 74.2 513 67.9Z" fill="#2895ec"/>
<path d="M513.6 73.8 515.5 78.1 514.1 71.4 512.2 65.2Z" fill="#21a3e3"/>
<path d="M512.7 72.1 514.6 76.1 513.2 68.5 511.3 62.7Z" fill="#15afd9"/>
<path d="M511.8 70.6 513.7 74.2 512.3 65.7 510.4 60.6Z" fill="#01b8c9"/>
<path d="M511 69.5 512.9 72.4 511.5 63.1 509.6 59Z" fill="#0fbeba"/>
<path d="M510.1 68.9 512 70.9 510.6 61 508.7 58Z" fill="#24c2ae"/>
<path d="M509.2 68.7 511.1 69.7 509.7 59.3 507.8 57.7Z" fill="#2dc4a5"/>
<path d="M508.3 69.1 510.3 69 508.9 58.2 507 58.1Z" fill="#30c5a1"/>
<path d="M507.5 69.9 509.4 68.7 508 57.7 506.1 59.2Z" fill="#2fc5a2"/>
<path d="M506.6 71.2 508.5 69 507.1 58 505.2 61Z" fill="#2bc3a8"/>
<path d="M505.7 72.9 507.7 69.7 506.3 59 504.4 63.3Z" fill="#1dc0b2"/>
<path d="M504.9 75 506.8 70.9 505.4 60.6 503.5 66Z" fill="#06bcc0"/>
<path d="M504 77.2 505.9 72.6 504.5 62.8 502.6 69.1Z" fill="#07b5cf"/>
<path d="M503.1 79.6 505 74.5 503.7 65.5 501.8 72.3Z" fill="#1babde"/>
<path d="M502.3 82 504.2 76.8 502.8 68.5 500.9 75.6Z" fill="#249ee6"/>
<path d="M501.4 84.4 503.3 79.1 501.9 71.7 500 78.8Z" fill="#2c90f0"/>
<path d="M500.5 86.6 502.4 81.5 501.1 75 499.1 81.9Z" fill="#3080fa"/>
<path d="M499.7 88.7 501.6 83.9 500.2 78.2 498.3 84.7Z" fill="#3e6fff"/>
<path d="M498.8 90.6 500.7 86.2 499.3 81.3 497.4 87.3Z" fill="#4661fc"/>
<path d="M497.9 92.2 499.8 88.3 498.5 84.2 496.5 89.5Z" fill="#4854f5"/>
<path d="M497.1 93.7 499 90.2 497.6 86.8 495.7 91.4Z" fill="#4849ed"/>
<path d="M496.2 94.9 498.1 91.9 496.7 89.1 494.8 93Z" fill="#4740e3"/>
<path d="M495.3 95.9 497.2 93.4 495.8 91 493.9 94.4Z" fill="#4538d8"/>
<path d="M494.5 96.7 496.4 94.7 495 92.7 493.1 95.4Z" fill="#4433cd"/>
<path d="M493.6 97.4 495.5 95.7 494.1 94.1 492.2 96.3Z" fill="#4230c4"/>
<path d="M492.7 98 494.6 96.6 493.2 95.2 491.3 97Z" fill="#412dbc"/>
<path d="M491.8 98.5 493.8 97.3 492.4 96.2 490.5 97.6Z" fill="#402bb7"/>
<path d="M491 98.9 492.9 97.9 491.5 96.9 489.6 98.1Z" fill="#3f29b2"/>
<path d="M490.1 99.2 492 98.4 490.6 97.5 488.7 98.5Z" fill="#3f28af"/>
<path d="M489.2 99.5 491.2 98.8 489.8 98 487.9 98.8Z" fill="#3f28ad"/>
<path d="M488.4 99.7 490.3 99.1 488.9 98.4 487 99.1Z" fill="#3e27ab"/>
<path d="M487.5 100 489.4 99.4 488 98.8 486.1 99.4Z" fill="#3e27aa"/>
<path d="M486.6 100.2 488.5 99.7 487.2 99 485.3 99.6Z" fill="#3e27aa"/>
<path d="M485.8 100.4 487.7 99.9 486.3 99.3 484.4 99.8Z" fill="#3e27a9"/>
<path d="M518.5 85.3 519.9 87.3 518.5 84.1 517.1 81Z" fill="#4850f3"/>
<path d="M517.7 83.8 519.6 86.8 518.2 83.4 516.3 78.8Z" fill="#475bfa"/>
<path d="M516.8 82.3 518.7 85.6 517.3 81.5 515.4 76.4Z" fill="#4368fe"/>
<path d="M515.9 80.6 517.8 84.1 516.5 79.3 514.5 74Z" fill="#3777fe"/>
<path d="M515.1 79 517 82.6 515.6 76.9 513.7 71.5Z" fill="#2e85f8"/>
<path d="M514.2 77.4 516.1 81 514.7 74.5 512.8 69.1Z" fill="#2a92ee"/>
<path d="M513.3 76 515.2 79.3 513.8 72 511.9 67Z" fill="#249ee6"/>
<path d="M512.5 74.9 514.4 77.7 513 69.6 511.1 65.2Z" fill="#1da8e0"/>
<path d="M511.6 74 513.5 76.3 512.1 67.4 510.2 63.8Z" fill="#14b0d8"/>
<path d="M510.7 73.5 512.6 75.1 511.2 65.5 509.3 63Z" fill="#07b5cf"/>
<path d="M509.8 73.4 511.8 74.1 510.4 64.1 508.5 62.8Z" fill="#01b8c9"/>
<path d="M509 73.7 510.9 73.6 509.5 63.1 507.6 63.2Z" fill="#01b9c6"/>
<path d="M508.1 74.5 510 73.4 508.6 62.8 506.7 64.2Z" fill="#01b9c7"/>
<path d="M507.2 75.6 509.2 73.6 507.8 63 505.9 65.7Z" fill="#02b7cb"/>
<path d="M506.4 77 508.3 74.3 506.9 63.9 505 67.7Z" fill="#0bb3d2"/>
<path d="M505.5 78.8 507.4 75.3 506 65.4 504.1 70.1Z" fill="#18addb"/>
<path d="M504.6 80.7 506.5 76.7 505.2 67.3 503.3 72.8Z" fill="#20a4e3"/>
<path d="M503.8 82.7 505.7 78.4 504.3 69.6 502.4 75.7Z" fill="#269ae9"/>
<path d="M502.9 84.7 504.8 80.3 503.4 72.3 501.5 78.6Z" fill="#2d8df2"/>
<path d="M502 86.7 503.9 82.3 502.6 75.1 500.6 81.4Z" fill="#3080fb"/>
<path d="M501.2 88.6 503.1 84.3 501.7 78 499.8 84.1Z" fill="#3d71ff"/>
<path d="M500.3 90.4 502.2 86.3 500.8 80.8 498.9 86.6Z" fill="#4563fd"/>
<path d="M499.4 92 501.3 88.3 500 83.6 498 88.8Z" fill="#4757f7"/>
<path d="M498.6 93.4 500.5 90.1 499.1 86.1 497.2 90.8Z" fill="#484cf0"/>
<path d="M497.7 94.6 499.6 91.7 498.2 88.4 496.3 92.4Z" fill="#4743e7"/>
<path d="M496.8 95.7 498.7 93.1 497.3 90.4 495.4 93.9Z" fill="#463bdd"/>
<path d="M496 96.6 497.9 94.4 496.5 92.1 494.6 95.1Z" fill="#4535d2"/>
<path d="M495.1 97.3 497 95.5 495.6 93.6 493.7 96Z" fill="#4331c8"/>
<path d="M494.2 97.9 496.1 96.4 494.7 94.8 492.8 96.8Z" fill="#422ec0"/>
<path d="M493.3 98.4 495.3 97.2 493.9 95.9 492 97.5Z" fill="#412cb9"/>
<path d="M492.5 98.8 494.4 97.8 493 96.7 491.1 98Z" fill="#402ab5"/>
<path d="M491.6 99.2 493.5 98.3 492.1 97.4 490.2 98.4Z" fill="#3f29b1"/>
<path d="M490.7 99.5 492.7 98.8 491.3 97.9 489.4 98.8Z" fill="#3f28ae"/>
<path d="M489.9 99.8 491.8 99.1 490.4 98.4 488.5 99.1Z" fill="#3e28ac"/>
<path d="M489 100 490.9 99.4 489.5 98.7 487.6 99.4Z" fill="#3e27ab"/>
<path d="M488.1 100.3 490 99.7 488.7 99.1 486.8 99.6Z" fill="#3e27aa"/>
<path d="M487.3 100.5 489.2 100 487.8 99.3 485.9 99.9Z" fill="#3e27a9"/>
<path d="M486.4 100.7 488.3 100.2 486.9 99.6 485 100.1Z" fill="#3e27a9"/>
<path d="M519.2 87 520.5 88.6 519.2 85.6 517.8 83Z" fill="#4848ec"/>
<path d="M518.3 85.9 520.2 88.3 518.8 85 516.9 81.2Z" fill="#4852f4"/>
<path d="M517.4 84.6 519.3 87.3 517.9 83.4 516 79.2Z" fill="#475cfa"/>
<path d="M516.6 83.3 518.5 86.1 517.1 81.6 515.2 77.1Z" fill="#4367fd"/>
<path d="M515.7 82 517.6 84.9 516.2 79.6 514.3 75Z" fill="#3a74fe"/>
<path d="M514.8 80.8 516.7 83.6 515.3 77.5 513.4 73Z" fill="#2f81fa"/>
<path d="M513.9 79.7 515.9 82.3 514.5 75.4 512.6 71.2Z" fill="#2d8bf3"/>
<path d="M513.1 78.8 515 81 513.6 73.4 511.7 69.7Z" fill="#2895ec"/>
<path d="M512.2 78.1 514.1 79.9 512.7 71.6 510.8 68.6Z" fill="#259de7"/>
<path d="M511.3 77.7 513.3 78.9 511.9 70 510 67.9Z" fill="#22a2e4"/>
<path d="M510.5 77.7 512.4 78.2 511 68.8 509.1 67.8Z" fill="#1fa6e2"/>
<path d="M509.6 78 511.5 77.8 510.1 68 508.2 68.1Z" fill="#1da8e0"/>
<path d="M508.7 78.6 510.6 77.7 509.3 67.8 507.4 69Z" fill="#1ea7e1"/>
<path d="M507.9 79.6 509.8 77.9 508.4 68 506.5 70.3Z" fill="#20a5e2"/>
<path d="M507 80.8 508.9 78.5 507.5 68.8 505.6 72.1Z" fill="#23a0e5"/>
<path d="M506.1 82.2 508 79.4 506.7 70 504.7 74.2Z" fill="#269ae9"/>
<path d="M505.3 83.8 507.2 80.5 505.8 71.7 503.9 76.5Z" fill="#2b91ef"/>
<path d="M504.4 85.5 506.3 81.9 504.9 73.7 503 79Z" fill="#2d87f7"/>
<path d="M503.5 87.2 505.4 83.5 504.1 76 502.1 81.4Z" fill="#327cfc"/>
<path d="M502.7 88.9 504.6 85.2 503.2 78.5 501.3 83.9Z" fill="#3e6fff"/>
<path d="M501.8 90.5 503.7 86.9 502.3 81 500.4 86.2Z" fill="#4563fc"/>
<path d="M500.9 92 502.8 88.6 501.4 83.4 499.5 88.4Z" fill="#4758f8"/>
<path d="M500.1 93.3 502 90.2 500.6 85.8 498.7 90.3Z" fill="#484ef1"/>
<path d="M499.2 94.5 501.1 91.7 499.7 87.9 497.8 92Z" fill="#4745e9"/>
<path d="M498.3 95.5 500.2 93.1 498.8 89.9 496.9 93.5Z" fill="#463de0"/>
<path d="M497.4 96.4 499.4 94.3 498 91.7 496.1 94.7Z" fill="#4537d6"/>
<path d="M496.6 97.2 498.5 95.4 497.1 93.2 495.2 95.8Z" fill="#4433cc"/>
<path d="M495.7 97.8 497.6 96.3 496.2 94.5 494.3 96.6Z" fill="#4230c3"/>
<path d="M494.8 98.4 496.8 97 495.4 95.6 493.5 97.3Z" fill="#412dbc"/>
<path d="M494 98.8 495.9 97.7 494.5 96.5 492.6 97.9Z" fill="#402bb7"/>
<path d="M493.1 99.2 495 98.3 493.6 97.2 491.7 98.4Z" fill="#402ab3"/>
<path d="M492.2 99.5 494.1 98.7 492.8 97.8 490.9 98.8Z" fill="#3f29af"/>
<path d="M491.4 99.8 493.3 99.1 491.9 98.3 490 99.1Z" fill="#3f28ad"/>
<path d="M490.5 100.1 492.4 99.5 491 98.7 489.1 99.4Z" fill="#3e27ac"/>
<path d="M489.6 100.3 491.5 99.8 490.2 99.1 488.2 99.7Z" fill="#3e27aa"/>
<path d="M488.8 100.6 490.7 100 489.3 99.4 487.4 99.9Z" fill="#3e27aa"/>
<path d="M487.9 100.8 489.8 100.3 488.4 99.6 486.5 100.2Z" fill="#3e27a9"/>
<path d="M487 101 488.9 100.5 487.6 99.9 485.6 100.4Z" fill="#3e27a9"/>
<path d="M519.4 87.7 520.8 89.1 519.8 87 518.4 84.9Z" fill="#4741e5"/>
<path d="M518.5 86.7 520.5 88.8 519.4 86.5 517.5 83.4Z" fill="#4848ec"/>
<path d="M517.7 85.5 519.6 87.9 518.6 85.2 516.7 81.8Z" fill="#4851f3"/>
<path d="M516.8 84.3 518.7 86.9 517.7 83.7 515.8 80.1Z" fill="#475af9"/>
<path d="M515.9 83.2 517.8 85.8 516.8 82.1 514.9 78.4Z" fill="#4564fd"/>
<path d="M515.1 82 517 84.6 516 80.4 514.1 76.7Z" fill="#3f6eff"/>
<path d="M514.2 81 516.1 83.4 515.1 78.7 513.2 75.3Z" fill="#3678fd"/>
<path d="M513.3 80.2 515.2 82.3 514.2 77 512.3 74Z" fill="#2f81fa"/>
<path d="M512.5 79.6 514.4 81.2 513.4 75.5 511.5 73.1Z" fill="#2d88f6"/>
<path d="M511.6 79.3 513.5 80.4 512.5 74.3 510.6 72.6Z" fill="#2d8df2"/>
<path d="M510.7 79.3 512.6 79.7 511.6 73.3 509.7 72.5Z" fill="#2b91ef"/>
<path d="M509.9 79.6 511.8 79.3 510.8 72.7 508.9 72.8Z" fill="#2a93ee"/>
<path d="M509 80.2 510.9 79.2 509.9 72.5 508 73.6Z" fill="#2a92ee"/>
<path d="M508.1 81 510 79.5 509 72.7 507.1 74.7Z" fill="#2c90f0"/>
<path d="M507.3 82.2 509.2 80 508.2 73.4 506.2 76.2Z" fill="#2d8cf3"/>
<path d="M506.4 83.5 508.3 80.9 507.3 74.5 505.4 78Z" fill="#2e85f8"/>
<path d="M505.5 85 507.4 81.9 506.4 75.9 504.5 80Z" fill="#317efb"/>
<path d="M504.6 86.6 506.6 83.2 505.6 77.6 503.6 82.1Z" fill="#3974fe"/>
<path d="M503.8 88.2 505.7 84.7 504.7 79.6 502.8 84.2Z" fill="#426afe"/>
<path d="M502.9 89.7 504.8 86.3 503.8 81.7 501.9 86.3Z" fill="#4660fb"/>
<path d="M502 91.2 504 87.8 502.9 83.8 501 88.3Z" fill="#4757f7"/>
<path d="M501.2 92.6 503.1 89.4 502.1 85.9 500.2 90.1Z" fill="#484ef1"/>
<path d="M500.3 93.8 502.2 90.9 501.2 87.9 499.3 91.7Z" fill="#4745e9"/>
<path d="M499.4 94.9 501.3 92.3 500.3 89.7 498.4 93.2Z" fill="#463ee1"/>
<path d="M498.6 95.9 500.5 93.6 499.5 91.4 497.6 94.4Z" fill="#4538d8"/>
<path d="M497.7 96.7 499.6 94.7 498.6 92.9 496.7 95.5Z" fill="#4434ce"/>
<path d="M496.8 97.4 498.7 95.7 497.7 94.2 495.8 96.4Z" fill="#4330c5"/>
<path d="M496 98 497.9 96.6 496.9 95.3 495 97.2Z" fill="#422ebe"/>
<path d="M495.1 98.5 497 97.3 496 96.3 494.1 97.8Z" fill="#412cb9"/>
<path d="M494.2 99 496.1 97.9 495.1 97 493.2 98.3Z" fill="#402ab4"/>
<path d="M493.4 99.3 495.3 98.4 494.3 97.7 492.4 98.8Z" fill="#3f29b1"/>
<path d="M492.5 99.7 494.4 98.9 493.4 98.2 491.5 99.1Z" fill="#3f28ae"/>
<path d="M491.6 99.9 493.5 99.3 492.5 98.7 490.6 99.4Z" fill="#3e28ac"/>
<path d="M490.8 100.2 492.7 99.6 491.7 99.1 489.7 99.7Z" fill="#3e27ab"/>
<path d="M489.9 100.4 491.8 99.9 490.8 99.4 488.9 100Z" fill="#3e27aa"/>
<path d="M489 100.7 490.9 100.2 489.9 99.7 488 100.2Z" fill="#3e27a9"/>
<path d="M488.1 100.9 490.1 100.4 489.1 99.9 487.1 100.4Z" fill="#3e27a9"/>
<path d="M487.3 101.1 489.2 100.6 488.2 100.2 486.3 100.7Z" fill="#3e26a9"/>
</g>
<text x="433" y="89.9" font-family="'Liberation Sans', Arial, sans-serif" font-size="3.85" fill="#1c1c1c" text-anchor="end">0</text>
<text x="433" y="78.5" font-family="'Liberation Sans', Arial, sans-serif" font-size="3.85" fill="#1c1c1c" text-anchor="end">0.2</text>
<text x="433" y="67.1" font-family="'Liberation Sans', Arial, sans-serif" font-size="3.85" fill="#1c1c1c" text-anchor="end">0.4</text>
<text x="433" y="55.7" font-family="'Liberation Sans', Arial, sans-serif" font-size="3.85" fill="#1c1c1c" text-anchor="end">0.6</text>
<text x="433" y="44.3" font-family="'Liberation Sans', Arial, sans-serif" font-size="3.85" fill="#1c1c1c" text-anchor="end">0.8</text>
<text x="433" y="32.9" font-family="'Liberation Sans', Arial, sans-serif" font-size="3.85" fill="#1c1c1c" text-anchor="end">1</text>
<text x="431.5" y="93.7" font-family="'Liberation Sans', Arial, sans-serif" font-size="3.85" fill="#1c1c1c" text-anchor="middle">0</text>
<text x="447.2" y="101.6" font-family="'Liberation Sans', Arial, sans-serif" font-size="3.85" fill="#1c1c1c" text-anchor="middle">500</text>
<text x="465" y="109.8" font-family="'Liberation Sans', Arial, sans-serif" font-size="3.85" fill="#1c1c1c" text-anchor="middle">1000</text>
<text x="474.7" y="110.4" font-family="'Liberation Sans', Arial, sans-serif" font-size="3.85" fill="#1c1c1c" text-anchor="middle">0</text>
<text x="501.3" y="104.5" font-family="'Liberation Sans', Arial, sans-serif" font-size="3.85" fill="#1c1c1c" text-anchor="middle">500</text>
<text x="526.4" y="98.5" font-family="'Liberation Sans', Arial, sans-serif" font-size="3.85" fill="#1c1c1c" text-anchor="middle">1000</text>
</g>
<g>
<rect x="20.5" y="146.5" width="87.4" height="86.6" fill="#fff" stroke="#5a5a5a" stroke-width="0.4"/>
<path d="M20.5 233.1v-1M20.5 146.5v1M35.1 233.1v-1M35.1 146.5v1M49.6 233.1v-1M49.6 146.5v1M64.2 233.1v-1M64.2 146.5v1M78.8 233.1v-1M78.8 146.5v1M93.3 233.1v-1M93.3 146.5v1M107.9 233.1v-1M107.9 146.5v1M20.5 233.1h1M107.9 233.1h-1M20.5 220.7h1M107.9 220.7h-1M20.5 208.4h1M107.9 208.4h-1M20.5 196h1M107.9 196h-1M20.5 183.6h1M107.9 183.6h-1M20.5 171.2h1M107.9 171.2h-1M20.5 158.9h1M107.9 158.9h-1M20.5 146.5h1M107.9 146.5h-1" stroke="#5a5a5a" stroke-width="0.35" fill="none"/>
<clipPath id="cp20"><rect x="20.5" y="146" width="87.4" height="87.6"/></clipPath>
<g clip-path="url(#cp20)" fill="none" stroke-width="0.95" stroke-linejoin="round">
<path d="M20.7 232.9C21.1 232.9 22.2 233 22.8 232.9C23.4 232.8 23.8 233.3 24.2 232.2C24.6 231 24.9 231.4 25.1 226C25.3 220.6 25.4 206.2 25.6 200C25.8 193.8 26 193.3 26.2 189C26.4 184.7 26.6 179.4 26.9 174.2C27.1 169 27.4 161.6 27.7 158C28 154.4 28.2 152.7 28.5 152.5C28.8 152.3 29.1 154.4 29.4 157C29.7 159.6 30 165.1 30.2 168C30.4 170.9 30.6 171.9 30.8 174.2C31 176.5 31.3 179.5 31.6 182C31.9 184.5 32.1 186.8 32.4 189C32.7 191.2 32.9 193.6 33.2 195.5C33.5 197.4 33.8 199.1 34.2 200.3C34.6 201.5 35 201.9 35.5 202.5C36 203.1 36.6 203.3 37.5 204C38.4 204.7 39.9 205.5 41 206.5C42.1 207.5 43.1 208.8 44 210C44.9 211.2 45.7 212.4 46.5 213.5C47.3 214.6 48.1 215.5 49 216.4C49.9 217.3 51 218.1 52 218.8C53 219.5 53.8 220 55 220.4C56.2 220.8 57.5 220.9 59 221.2C60.5 221.5 62.3 221.7 64 222C65.7 222.3 67.5 222.6 69 223C70.5 223.4 72 223.8 73.2 224.3C74.5 224.8 75.4 225.2 76.5 225.8C77.6 226.4 78.8 227 80 227.6C81.2 228.2 82.5 228.8 84 229.4C85.5 230 87.4 230.6 89.2 231C91 231.4 93.1 231.8 95 232C96.9 232.2 98.5 232.4 100.6 232.5C102.7 232.6 106.3 232.8 107.4 232.8" stroke="#1f77c8"/>
</g>
<text x="20.5" y="237.7" font-family="'Liberation Sans', Arial, sans-serif" font-size="3.9" fill="#161616" text-anchor="middle">0</text>
<text x="35.1" y="237.7" font-family="'Liberation Sans', Arial, sans-serif" font-size="3.9" fill="#161616" text-anchor="middle">20</text>
<text x="49.6" y="237.7" font-family="'Liberation Sans', Arial, sans-serif" font-size="3.9" fill="#161616" text-anchor="middle">40</text>
<text x="64.2" y="237.7" font-family="'Liberation Sans', Arial, sans-serif" font-size="3.9" fill="#161616" text-anchor="middle">60</text>
<text x="78.8" y="237.7" font-family="'Liberation Sans', Arial, sans-serif" font-size="3.9" fill="#161616" text-anchor="middle">80</text>
<text x="93.3" y="237.7" font-family="'Liberation Sans', Arial, sans-serif" font-size="3.9" fill="#161616" text-anchor="middle">100</text>
<text x="107.9" y="237.7" font-family="'Liberation Sans', Arial, sans-serif" font-size="3.9" fill="#161616" text-anchor="middle">120</text>
<text x="19.2" y="234.3" font-family="'Liberation Sans', Arial, sans-serif" font-size="3.9" fill="#161616" text-anchor="end">0</text>
<text x="19.2" y="221.9" font-family="'Liberation Sans', Arial, sans-serif" font-size="3.9" fill="#161616" text-anchor="end">0.1</text>
<text x="19.2" y="209.6" font-family="'Liberation Sans', Arial, sans-serif" font-size="3.9" fill="#161616" text-anchor="end">0.2</text>
<text x="19.2" y="197.2" font-family="'Liberation Sans', Arial, sans-serif" font-size="3.9" fill="#161616" text-anchor="end">0.3</text>
<text x="19.2" y="184.8" font-family="'Liberation Sans', Arial, sans-serif" font-size="3.9" fill="#161616" text-anchor="end">0.4</text>
<text x="19.2" y="172.4" font-family="'Liberation Sans', Arial, sans-serif" font-size="3.9" fill="#161616" text-anchor="end">0.5</text>
<text x="19.2" y="160.1" font-family="'Liberation Sans', Arial, sans-serif" font-size="3.9" fill="#161616" text-anchor="end">0.6</text>
<text x="19.2" y="147.7" font-family="'Liberation Sans', Arial, sans-serif" font-size="3.9" fill="#161616" text-anchor="end">0.7</text>
<text x="64.2" y="242.4" font-family="'Liberation Sans', Arial, sans-serif" font-size="3.75" fill="#161616" text-anchor="middle">Iterations</text>
<text transform="translate(12.5 188.4) rotate(-90)" x="-9.4" font-family="'Liberation Sans', Arial, sans-serif" font-size="3.6" fill="#161616" textLength="18.8" lengthAdjust="spacingAndGlyphs">Cost Function</text>
</g>
<g>
<rect x="160.6" y="144.4" width="88.8" height="87.9" fill="#fff" stroke="#5a5a5a" stroke-width="0.4"/>
<path d="M160.6 232.3v-1M160.6 144.4v1M175.4 232.3v-1M175.4 144.4v1M190.2 232.3v-1M190.2 144.4v1M205 232.3v-1M205 144.4v1M219.8 232.3v-1M219.8 144.4v1M234.6 232.3v-1M234.6 144.4v1M249.4 232.3v-1M249.4 144.4v1M160.6 232.3h1M249.4 232.3h-1M160.6 217.7h1M249.4 217.7h-1M160.6 203h1M249.4 203h-1M160.6 188.3h1M249.4 188.3h-1M160.6 173.7h1M249.4 173.7h-1M160.6 159.1h1M249.4 159.1h-1M160.6 144.4h1M249.4 144.4h-1" stroke="#5a5a5a" stroke-width="0.35" fill="none"/>
<clipPath id="cp160"><rect x="160.6" y="143.9" width="88.8" height="88.9"/></clipPath>
<g clip-path="url(#cp160)" fill="none" stroke-width="0.75" stroke-linejoin="round">
<path d="M160.6 232.3C160.7 226.2 161 207.3 161.3 195.7C161.7 184.1 162.3 168.6 162.8 162.7C163.3 156.9 163.8 159.3 164.3 160.5C164.8 161.7 165.2 165.4 165.8 170C166.4 174.7 167.3 183.5 168 188.3C168.7 193.2 169.5 196.9 170.2 199.3C171 201.8 171.7 202.6 172.4 203C173.2 203.4 173.9 201.5 174.7 201.5C175.4 201.5 176 201.9 176.9 203C177.7 204.1 178.9 206.3 179.8 208.1C180.8 210 181.7 212.4 182.8 214C183.9 215.6 185.3 216.4 186.5 217.7C187.7 218.9 188.3 219.7 190.2 221.3C192 222.9 195.1 225.7 197.6 227.2C200.1 228.6 201.3 229.3 205 230.1C208.7 230.9 212.4 231.6 219.8 231.9C227.2 232.3 244.5 232.2 249.4 232.3" stroke="#0072bd"/>
<path d="M160.6 232.3C160.7 227.4 161 214 161.3 203C161.7 192 162.4 173.3 162.8 166.4C163.3 159.4 163.4 160 163.9 161.2C164.4 162.5 165.1 169.2 165.8 173.7C166.5 178.2 167.3 186.2 168 188.3C168.7 190.5 169.6 188.1 170.2 186.9C170.8 185.7 171.2 181.4 171.7 181C172.2 180.7 172.6 181.6 173.2 184.7C173.8 187.7 174.5 194.5 175.4 199.3C176.3 204.2 177.4 210.3 178.4 214C179.3 217.7 180 219.2 181.3 221.3C182.7 223.4 184.4 225 186.5 226.4C188.6 227.9 190.8 229.2 193.9 230.1C197 231 195.8 231.6 205 231.9C214.2 232.3 242 232.2 249.4 232.3" stroke="#edb120"/>
<path d="M160.6 232.3C160.7 228.6 161 216.4 161.3 210.3C161.6 204.2 162.1 196.9 162.4 195.7C162.8 194.5 163.2 199.3 163.6 203C163.9 206.7 164.3 214 164.7 217.7C165 221.3 165.3 224.4 165.8 225C166.2 225.6 166.8 223.8 167.3 221.3C167.8 218.9 168.3 212.5 168.7 210.3C169.2 208.1 169.5 206.9 169.8 208.1C170.2 209.3 170.5 214.6 171 217.7C171.4 220.7 171.9 224.7 172.4 226.4C172.9 228.1 173.2 228 173.9 227.9C174.7 227.8 175.9 225.8 176.9 225.7C177.9 225.6 178.6 226.4 179.8 227.2C181.1 227.9 182.6 229.4 184.3 230.1C186 230.8 179.3 231.2 190.2 231.6C201.1 231.9 239.5 232.2 249.4 232.3" stroke="#7e2f8e"/>
<path d="M160.6 232.3C160.7 226.2 161 206.9 161.3 195.7C161.7 184.4 162.3 170.4 162.8 164.9C163.3 159.4 163.8 161.5 164.3 162.7C164.8 163.9 165.3 169.8 165.8 172.2C166.3 174.7 166.8 176.8 167.3 177.4C167.7 178 168 175.3 168.4 175.9C168.7 176.5 168.9 177.7 169.5 181C170 184.3 171 191.4 171.7 195.7C172.4 199.9 173.1 203 173.9 206.7C174.8 210.3 175.9 214.8 176.9 217.7C177.9 220.5 178.6 221.8 179.8 223.5C181.1 225.2 182.6 226.7 184.3 227.9C186 229.1 186.7 230.1 190.2 230.8C193.7 231.6 195.1 232.1 205 232.3C214.9 232.5 242 232.3 249.4 232.3" stroke="#77ac30"/>
<path d="M160.6 232.3C160.7 225.6 161 203.7 161.3 192C161.7 180.3 162.4 167.5 162.8 162C163.3 156.5 163.6 158.3 163.9 159.1C164.3 159.8 164.5 161.5 165 166.4C165.6 171.3 166.5 182.2 167.3 188.3C168 194.5 168.7 199.3 169.5 203C170.2 206.7 171 208.5 171.7 210.3C172.4 212.2 173.1 212.8 173.9 214C174.8 215.2 175.6 216.3 176.9 217.7C178.1 219 179.7 220.8 181.3 222C182.9 223.3 184.4 223.9 186.5 225C188.6 226.1 190.8 227.7 193.9 228.6C197 229.6 200.7 230.2 205 230.8C209.3 231.4 212.4 232.1 219.8 232.3C227.2 232.5 244.5 232.3 249.4 232.3" stroke="#4dbeee"/>
<path d="M160.6 232.3C160.7 228 161 213.4 161.3 206.7C161.6 199.9 162.1 193.2 162.4 192C162.8 190.8 163.1 196.3 163.6 199.3C164 202.4 164.5 208.5 165 210.3C165.5 212.2 166 211.5 166.5 210.3C167 209.1 167.5 204.8 168 203C168.5 201.2 169 199.1 169.5 199.3C170 199.6 170.3 202.6 171 204.5C171.6 206.3 172.4 209.3 173.2 210.3C173.9 211.3 174.7 210.7 175.4 210.3C176.1 210 176.9 207.9 177.6 208.1C178.4 208.4 179 210.2 179.8 211.8C180.7 213.4 181.6 215.8 182.8 217.7C184 219.5 185.5 221.2 187.2 222.8C189 224.4 190.8 225.8 193.2 227.2C195.5 228.5 198.1 230 201.3 230.8C204.5 231.7 204.4 232.1 212.4 232.3C220.4 232.5 243.2 232.3 249.4 232.3" stroke="#a2142f"/>
<path d="M160.6 232.3C160.7 226.2 161 207 161.3 195.7C161.7 184.3 162.3 169.8 162.8 164.2C163.3 158.6 163.8 161 164.3 162C164.8 163 165.2 166.9 165.8 170C166.4 173.2 167.3 176.8 168 181C168.7 185.3 169.5 191.4 170.2 195.7C171 199.9 171.7 204.6 172.4 206.7C173.2 208.7 173.9 208.5 174.7 208.1C175.4 207.8 176.3 205.3 176.9 204.5C177.5 203.6 177.7 202.4 178.4 203C179 203.6 179.7 206.2 180.6 208.1C181.4 210.1 182.4 212.9 183.5 214.7C184.7 216.6 185.9 218 187.2 219.1C188.6 220.2 190.4 221.1 191.7 221.3C192.9 221.6 193.7 220.2 194.6 220.6C195.6 220.9 196.1 222.3 197.6 223.5C199.1 224.7 201.1 226.7 203.5 227.9C206 229.1 209.1 230.1 212.4 230.8C215.7 231.6 217.3 232.1 223.5 232.3C229.7 232.5 245.1 232.3 249.4 232.3" stroke="#0072bd"/>
<path d="M160.6 232.3C160.7 226.2 161 207.6 161.3 195.7C161.7 183.7 162.4 166.9 162.8 160.5C163.3 154.2 163.6 157.2 163.9 157.6C164.3 158 164.6 158.8 165 162.7C165.5 166.6 165.9 174.3 166.5 181C167.1 187.7 168 196.9 168.7 203C169.5 209.1 170.2 214 171 217.7C171.7 221.3 172.4 223.3 173.2 225C173.9 226.7 174.5 227.7 175.4 227.9C176.3 228.1 177.4 226.4 178.4 226.4C179.3 226.4 180.1 227.3 181.3 227.9C182.6 228.5 183.7 229.5 185.8 230.1C187.9 230.7 183.3 231.2 193.9 231.6C204.5 231.9 240.2 232.2 249.4 232.3" stroke="#d95319"/>
<path d="M160.6 232.3C160.7 226.2 161 207.5 161.3 195.7C161.7 183.8 162.3 167.4 162.8 161.2C163.3 155.1 163.8 158.2 164.3 159.1C164.8 159.9 165.2 162.1 165.8 166.4C166.4 170.6 167.1 178 168 184.7C168.9 191.4 170 201.4 171 206.7C171.9 211.9 172.9 214.1 173.9 216.2C174.9 218.3 175.9 218.9 176.9 219.1C177.9 219.4 178.9 219.1 179.8 217.7C180.8 216.2 181.9 213.7 182.8 210.3C183.7 206.9 184.5 199.9 185 197.1C185.6 194.4 185.8 193.9 186.2 193.7C186.6 193.5 186.8 194.1 187.2 195.7C187.7 197.2 188.1 200.6 188.7 203C189.3 205.4 190.1 208.4 190.9 210.3C191.8 212.3 192.8 213.4 193.9 214.7C195 216.1 196.4 217.4 197.6 218.4C198.8 219.4 200.1 219.7 201.3 220.6C202.5 221.4 203.2 222.3 205 223.5C206.8 224.7 209.9 226.7 212.4 227.9C214.9 229.1 217.3 230.2 219.8 230.8C222.3 231.5 222.3 231.7 227.2 231.9C232.1 232.2 245.7 232.2 249.4 232.3" stroke="#d95319"/>
</g>
<text x="160.6" y="236.9" font-family="'Liberation Sans', Arial, sans-serif" font-size="3.9" fill="#161616" text-anchor="middle">0</text>
<text x="175.4" y="236.9" font-family="'Liberation Sans', Arial, sans-serif" font-size="3.9" fill="#161616" text-anchor="middle">20</text>
<text x="190.2" y="236.9" font-family="'Liberation Sans', Arial, sans-serif" font-size="3.9" fill="#161616" text-anchor="middle">40</text>
<text x="205" y="236.9" font-family="'Liberation Sans', Arial, sans-serif" font-size="3.9" fill="#161616" text-anchor="middle">60</text>
<text x="219.8" y="236.9" font-family="'Liberation Sans', Arial, sans-serif" font-size="3.9" fill="#161616" text-anchor="middle">80</text>
<text x="234.6" y="236.9" font-family="'Liberation Sans', Arial, sans-serif" font-size="3.9" fill="#161616" text-anchor="middle">100</text>
<text x="249.4" y="236.9" font-family="'Liberation Sans', Arial, sans-serif" font-size="3.9" fill="#161616" text-anchor="middle">120</text>
<text x="159.3" y="233.5" font-family="'Liberation Sans', Arial, sans-serif" font-size="3.9" fill="#161616" text-anchor="end">0</text>
<text x="159.3" y="218.8" font-family="'Liberation Sans', Arial, sans-serif" font-size="3.9" fill="#161616" text-anchor="end">0.2</text>
<text x="159.3" y="204.2" font-family="'Liberation Sans', Arial, sans-serif" font-size="3.9" fill="#161616" text-anchor="end">0.4</text>
<text x="159.3" y="189.5" font-family="'Liberation Sans', Arial, sans-serif" font-size="3.9" fill="#161616" text-anchor="end">0.6</text>
<text x="159.3" y="174.9" font-family="'Liberation Sans', Arial, sans-serif" font-size="3.9" fill="#161616" text-anchor="end">0.8</text>
<text x="159.3" y="160.2" font-family="'Liberation Sans', Arial, sans-serif" font-size="3.9" fill="#161616" text-anchor="end">1</text>
<text x="159.3" y="145.6" font-family="'Liberation Sans', Arial, sans-serif" font-size="3.9" fill="#161616" text-anchor="end">1.2</text>
<text x="205" y="241.6" font-family="'Liberation Sans', Arial, sans-serif" font-size="3.75" fill="#161616" text-anchor="middle">Iterations</text>
<text transform="translate(152.2 185.7) rotate(-90)" x="-9" font-family="'Liberation Sans', Arial, sans-serif" font-size="3.6" fill="#161616" textLength="18" lengthAdjust="spacingAndGlyphs">Position Error</text>
<rect x="224.2" y="146.4" width="22.8" height="39.2" fill="#fff" stroke="#9a9a9a" stroke-width="0.3"/>
<path d="M225.3 149.3h10.2" stroke="#0072bd" stroke-width="0.6" fill="none"/>
<text x="236.8" y="150.3" font-family="'Liberation Sans', Arial, sans-serif" font-size="3.3" fill="#161616">robot1</text>
<path d="M225.3 153.4h10.2" stroke="#d95319" stroke-width="0.6" fill="none"/>
<text x="236.8" y="154.5" font-family="'Liberation Sans', Arial, sans-serif" font-size="3.3" fill="#161616">robot2</text>
<path d="M225.3 157.6h10.2" stroke="#edb120" stroke-width="0.6" fill="none"/>
<text x="236.8" y="158.7" font-family="'Liberation Sans', Arial, sans-serif" font-size="3.3" fill="#161616">robot3</text>
<path d="M225.3 161.8h10.2" stroke="#7e2f8e" stroke-width="0.6" fill="none"/>
<text x="236.8" y="162.9" font-family="'Liberation Sans', Arial, sans-serif" font-size="3.3" fill="#161616">robot4</text>
<path d="M225.3 166h10.2" stroke="#77ac30" stroke-width="0.6" fill="none"/>
<text x="236.8" y="167.1" font-family="'Liberation Sans', Arial, sans-serif" font-size="3.3" fill="#161616">robot5</text>
<path d="M225.3 170.2h10.2" stroke="#4dbeee" stroke-width="0.6" fill="none"/>
<text x="236.8" y="171.3" font-family="'Liberation Sans', Arial, sans-serif" font-size="3.3" fill="#161616">robot6</text>
<path d="M225.3 174.4h10.2" stroke="#a2142f" stroke-width="0.6" fill="none"/>
<text x="236.8" y="175.5" font-family="'Liberation Sans', Arial, sans-serif" font-size="3.3" fill="#161616">robot7</text>
<path d="M225.3 178.6h10.2" stroke="#0072bd" stroke-width="0.6" fill="none"/>
<text x="236.8" y="179.6" font-family="'Liberation Sans', Arial, sans-serif" font-size="3.3" fill="#161616">robot8</text>
<path d="M225.3 182.8h10.2" stroke="#d95319" stroke-width="0.6" fill="none"/>
<text x="236.8" y="183.8" font-family="'Liberation Sans', Arial, sans-serif" font-size="3.3" fill="#161616">robot9</text>
</g>
<g>
<rect x="299.6" y="144.6" width="88.8" height="88.5" fill="#fff" stroke="#5a5a5a" stroke-width="0.4"/>
<path d="M299.6 233.1v-1M299.6 144.6v1M314.4 233.1v-1M314.4 144.6v1M329.2 233.1v-1M329.2 144.6v1M344 233.1v-1M344 144.6v1M358.8 233.1v-1M358.8 144.6v1M373.6 233.1v-1M373.6 144.6v1M388.4 233.1v-1M388.4 144.6v1M299.6 233.1h1M388.4 233.1h-1M299.6 203.6h1M388.4 203.6h-1M299.6 174.1h1M388.4 174.1h-1M299.6 144.6h1M388.4 144.6h-1" stroke="#5a5a5a" stroke-width="0.35" fill="none"/>
<clipPath id="cp299"><rect x="299.6" y="144.1" width="88.8" height="89.5"/></clipPath>
<g clip-path="url(#cp299)" fill="none" stroke-width="0.75" stroke-linejoin="round">
<path d="M299.6 233.1C300 229.2 301.1 216.9 301.8 209.5C302.6 202.1 303.3 194.2 304 188.8C304.8 183.5 305.7 179.7 306.3 177.6C306.8 175.6 306.8 176.1 307.1 176.5C307.5 176.9 307.9 177.9 308.5 180C309.1 182.1 310 186.7 310.7 188.8C311.4 191 312.2 192.5 312.9 193C313.7 193.5 314.4 191 315.1 191.8C315.9 192.6 316.5 195.2 317.4 197.7C318.2 200.2 319.2 203.6 320.3 206.5C321.4 209.5 322.5 212.9 324 215.4C325.5 217.9 327.1 219.8 329.2 221.3C331.3 222.8 332.9 223.5 336.6 224.2C340.3 225 342.8 225.6 351.4 226C360 226.4 382.2 226.5 388.4 226.6" stroke="#0072bd"/>
<path d="M299.6 233.1C300.1 229.2 301.6 216.4 302.6 209.5C303.5 202.6 304.5 196.2 305.5 191.8C306.5 187.4 307.7 184.7 308.5 182.9C309.3 181.2 309.7 180.7 310.3 181.2C310.9 181.7 311.4 183.1 312.2 185.9C313 188.7 314 194.3 315.1 197.7C316.2 201.1 317.5 203.8 318.8 206.5C320.2 209.3 321.6 212 323.3 214.2C325 216.5 326.4 218.5 329.2 220.1C332 221.7 335.4 222.9 340.3 223.7C345.2 224.4 350.8 224.5 358.8 224.8C366.8 225.1 383.5 225.3 388.4 225.4" stroke="#edb120"/>
<path d="M299.6 233.1C300.1 228.7 301.6 213.9 302.6 206.5C303.5 199.2 304.5 193 305.5 188.8C306.5 184.7 307.6 183 308.5 181.8C309.3 180.5 310 180.5 310.7 181.2C311.4 181.9 312.1 183.6 312.9 185.9C313.8 188.2 314.8 191.8 315.9 194.8C317 197.7 318.2 200.7 319.6 203.6C320.9 206.5 322.2 210 324 212.4C325.9 214.9 328 216.7 330.7 218.3C333.4 220 335.6 221.5 340.3 222.5C345 223.5 350.8 223.9 358.8 224.2C366.8 224.6 383.5 224.7 388.4 224.8" stroke="#77ac30"/>
<path d="M299.6 233.1C300 229.2 301.1 217.4 301.8 209.5C302.6 201.6 303.3 191.3 304 185.9C304.8 180.5 305.6 178.3 306.3 177.1C306.9 175.8 307.1 176.8 307.7 178.2C308.4 179.7 309.1 183.1 310 185.9C310.8 188.7 311.8 191.3 312.9 194.8C314 198.2 315.4 203.1 316.6 206.5C317.9 210 318.8 212.7 320.3 215.4C321.8 218.1 323.4 220.7 325.5 222.5C327.6 224.2 329.8 225.1 332.9 226C336 226.9 338.4 227.3 344 227.8C349.6 228.3 358.8 228.8 366.2 229C373.6 229.2 384.7 229 388.4 229" stroke="#4dbeee"/>
<path d="M299.6 233.1C300.1 230.2 301.6 219.8 302.6 215.4C303.5 211 304.5 209.5 305.5 206.5C306.5 203.6 307.5 200.2 308.5 197.7C309.5 195.2 310.5 193.1 311.4 191.8C312.4 190.5 313.4 189.8 314.4 190C315.4 190.2 316.4 191.5 317.4 193C318.3 194.5 319.2 196.6 320.3 198.9C321.4 201.1 322.5 203.8 324 206.5C325.5 209.3 327.1 213.1 329.2 215.4C331.3 217.7 332.9 218.9 336.6 220.1C340.3 221.3 342.8 222 351.4 222.5C360 223 382.2 223 388.4 223.1" stroke="#a2142f"/>
<path d="M299.6 233.1C300.1 230.2 301.6 220.8 302.6 215.4C303.5 210 304.5 203.6 305.5 200.6C306.5 197.7 307.5 197.7 308.5 197.7C309.5 197.7 310.5 200.5 311.4 200.6C312.4 200.8 313.3 200 314.4 198.9C315.5 197.8 316.9 195.5 318.1 194.2C319.3 192.8 320.9 191.2 321.8 190.6C322.7 190 323 189.9 323.7 190.6C324.5 191.3 325.3 192.6 326.2 194.8C327.2 196.9 328.1 200.7 329.2 203.6C330.3 206.5 331.4 209.9 332.9 212.4C334.4 215 335.6 217.2 338.1 218.9C340.5 220.7 343 222.2 347.7 223.1C352.4 224 359.4 224.1 366.2 224.2C373 224.4 384.7 224.2 388.4 224.2" stroke="#0072bd"/>
<path d="M299.6 233.1C300 228.7 301.1 213.9 301.8 206.5C302.6 199.2 303.3 193.1 304 188.8C304.8 184.6 305.6 182.3 306.3 181.2C306.9 180.1 307.1 181.1 307.7 182.4C308.4 183.6 309.1 186.3 310 188.8C310.8 191.4 311.9 196.2 312.9 197.7C313.9 199.2 314.9 197.2 315.9 197.7C316.9 198.2 317.7 198.7 318.8 200.6C320 202.6 321.1 206.8 322.5 209.5C324 212.2 325.4 214.6 327.7 216.6C330.1 218.5 332.7 220.1 336.6 221.3C340.5 222.5 342.8 223.3 351.4 223.7C360 224.1 382.2 223.7 388.4 223.7" stroke="#d95319"/>
<path d="M299.6 233.1C300 230.6 301.1 220.5 301.8 218.3C302.6 216.2 303.3 220 304 220.1C304.8 220.2 305.5 218.7 306.3 218.9C307 219.1 307.7 221.2 308.5 221.3C309.2 221.4 310 220.5 310.7 219.5C311.4 218.5 312.3 217.6 312.9 215.4C313.5 213.2 313.8 209.5 314.4 206.5C315 203.6 315.8 200.2 316.6 197.7C317.5 195.2 318.6 193 319.6 191.8C320.6 190.6 321.6 190.4 322.5 190.6C323.5 190.8 324.4 192 325.5 193C326.6 194 328 195.5 329.2 196.5C330.4 197.5 331.7 198.4 332.9 198.9C334.1 199.4 335.4 199.7 336.6 199.5C337.8 199.3 339.1 198.2 340.3 197.7C341.5 197.2 342.1 196.6 344 196.5C345.9 196.4 348.3 196.9 351.4 197.1C354.5 197.3 356.3 197.6 362.5 197.7C368.7 197.8 384.1 197.7 388.4 197.7" stroke="#7e2f8e"/>
<path d="M299.6 233.1C300 229.7 301 217.9 301.8 212.4C302.7 207 303.7 203.6 304.8 200.6C305.9 197.7 307.4 195.2 308.5 194.8C309.6 194.3 310.5 197.7 311.4 197.7C312.4 197.7 313.3 196.7 314.4 194.8C315.5 192.8 317 188.1 318.1 185.9C319.2 183.7 320.2 182.4 321.1 181.8C321.9 181.2 322.4 181.7 323.3 182.4C324.1 183 325.3 184.9 326.2 185.9C327.2 186.9 328.1 188 329.2 188.3C330.3 188.6 331.7 187.6 332.9 187.7C334.1 187.8 335.4 188 336.6 188.8C337.8 189.7 339.3 191.8 340.3 193C341.3 194.2 341.7 195.1 342.5 195.9C343.4 196.7 344.2 197.2 345.5 197.7C346.7 198.2 348.3 198.8 349.9 198.9C351.5 198.9 353 198.2 355.1 198C357.2 197.8 356.9 197.7 362.5 197.7C368.1 197.7 384.1 197.7 388.4 197.7" stroke="#d95319"/>
</g>
<text x="299.6" y="237.7" font-family="'Liberation Sans', Arial, sans-serif" font-size="3.9" fill="#161616" text-anchor="middle">0</text>
<text x="314.4" y="237.7" font-family="'Liberation Sans', Arial, sans-serif" font-size="3.9" fill="#161616" text-anchor="middle">20</text>
<text x="329.2" y="237.7" font-family="'Liberation Sans', Arial, sans-serif" font-size="3.9" fill="#161616" text-anchor="middle">40</text>
<text x="344" y="237.7" font-family="'Liberation Sans', Arial, sans-serif" font-size="3.9" fill="#161616" text-anchor="middle">60</text>
<text x="358.8" y="237.7" font-family="'Liberation Sans', Arial, sans-serif" font-size="3.9" fill="#161616" text-anchor="middle">80</text>
<text x="373.6" y="237.7" font-family="'Liberation Sans', Arial, sans-serif" font-size="3.9" fill="#161616" text-anchor="middle">100</text>
<text x="388.4" y="237.7" font-family="'Liberation Sans', Arial, sans-serif" font-size="3.9" fill="#161616" text-anchor="middle">120</text>
<text x="298.3" y="234.3" font-family="'Liberation Sans', Arial, sans-serif" font-size="3.9" fill="#161616" text-anchor="end">0</text>
<text x="298.3" y="204.8" font-family="'Liberation Sans', Arial, sans-serif" font-size="3.9" fill="#161616" text-anchor="end">0.05</text>
<text x="298.3" y="175.3" font-family="'Liberation Sans', Arial, sans-serif" font-size="3.9" fill="#161616" text-anchor="end">0.1</text>
<text x="298.3" y="145.8" font-family="'Liberation Sans', Arial, sans-serif" font-size="3.9" fill="#161616" text-anchor="end">0.15</text>
<text x="344" y="242.4" font-family="'Liberation Sans', Arial, sans-serif" font-size="3.75" fill="#161616" text-anchor="middle">Iterations</text>
<text transform="translate(289.2 186.3) rotate(-90)" x="-10.8" font-family="'Liberation Sans', Arial, sans-serif" font-size="3.6" fill="#161616" textLength="21.7" lengthAdjust="spacingAndGlyphs">Area Of Voronoi</text>
<rect x="365.3" y="147.5" width="22.7" height="39.5" fill="#fff" stroke="#9a9a9a" stroke-width="0.3"/>
<path d="M366.4 150.4h10.2" stroke="#0072bd" stroke-width="0.6" fill="none"/>
<text x="377.9" y="151.4" font-family="'Liberation Sans', Arial, sans-serif" font-size="3.3" fill="#161616">robot1</text>
<path d="M366.4 154.6h10.2" stroke="#d95319" stroke-width="0.6" fill="none"/>
<text x="377.9" y="155.6" font-family="'Liberation Sans', Arial, sans-serif" font-size="3.3" fill="#161616">robot2</text>
<path d="M366.4 158.8h10.2" stroke="#edb120" stroke-width="0.6" fill="none"/>
<text x="377.9" y="159.9" font-family="'Liberation Sans', Arial, sans-serif" font-size="3.3" fill="#161616">robot3</text>
<path d="M366.4 163h10.2" stroke="#7e2f8e" stroke-width="0.6" fill="none"/>
<text x="377.9" y="164.1" font-family="'Liberation Sans', Arial, sans-serif" font-size="3.3" fill="#161616">robot4</text>
<path d="M366.4 167.3h10.2" stroke="#77ac30" stroke-width="0.6" fill="none"/>
<text x="377.9" y="168.3" font-family="'Liberation Sans', Arial, sans-serif" font-size="3.3" fill="#161616">robot5</text>
<path d="M366.4 171.5h10.2" stroke="#4dbeee" stroke-width="0.6" fill="none"/>
<text x="377.9" y="172.5" font-family="'Liberation Sans', Arial, sans-serif" font-size="3.3" fill="#161616">robot6</text>
<path d="M366.4 175.7h10.2" stroke="#a2142f" stroke-width="0.6" fill="none"/>
<text x="377.9" y="176.8" font-family="'Liberation Sans', Arial, sans-serif" font-size="3.3" fill="#161616">robot7</text>
<path d="M366.4 179.9h10.2" stroke="#0072bd" stroke-width="0.6" fill="none"/>
<text x="377.9" y="181" font-family="'Liberation Sans', Arial, sans-serif" font-size="3.3" fill="#161616">robot8</text>
<path d="M366.4 184.2h10.2" stroke="#d95319" stroke-width="0.6" fill="none"/>
<text x="377.9" y="185.2" font-family="'Liberation Sans', Arial, sans-serif" font-size="3.3" fill="#161616">robot9</text>
</g>
<g>
<rect x="438" y="145.3" width="88.3" height="88.1" fill="#fff" stroke="#5a5a5a" stroke-width="0.4"/>
<path d="M438 233.4v-1M438 145.3v1M452.7 233.4v-1M452.7 145.3v1M467.4 233.4v-1M467.4 145.3v1M482.1 233.4v-1M482.1 145.3v1M496.9 233.4v-1M496.9 145.3v1M511.6 233.4v-1M511.6 145.3v1M526.3 233.4v-1M526.3 145.3v1M438 233.4h1M526.3 233.4h-1M438 220.8h1M526.3 220.8h-1M438 208.2h1M526.3 208.2h-1M438 195.6h1M526.3 195.6h-1M438 183.1h1M526.3 183.1h-1M438 170.5h1M526.3 170.5h-1M438 157.9h1M526.3 157.9h-1M438 145.3h1M526.3 145.3h-1" stroke="#5a5a5a" stroke-width="0.35" fill="none"/>
<clipPath id="cp438"><rect x="438" y="144.8" width="88.3" height="89.1"/></clipPath>
<g clip-path="url(#cp438)" fill="none" stroke-width="0.9" stroke-linejoin="round">
<path d="M438 222.8C438.4 220 439.5 209 440.2 205.7C440.9 202.4 441.6 204.5 442.4 203.2C443.3 201.9 444.4 200.3 445.4 198.2C446.3 196.1 447.3 193.1 448.3 190.6C449.3 188.1 450.4 185.1 451.2 183.1C452.1 181 452.8 179.4 453.5 178.5C454.1 177.7 454.7 177.3 455.3 178C455.9 178.8 456.3 181 457.1 183.1C457.9 185.2 459 188.3 460.1 190.6C461.2 192.9 462.3 195 463.8 196.9C465.2 198.8 467.1 200.6 468.9 201.9C470.7 203.3 472.6 204.4 474.8 205.2C477 206 478.5 206.5 482.1 207C485.8 207.5 489.5 208 496.9 208.2C504.2 208.4 521.4 208.2 526.3 208.2" stroke="#62b0ff"/>
<path d="M438 222.8C438.4 220 439.5 211.1 440.2 205.7C440.9 200.3 441.7 195.2 442.4 190.6C443.2 186 444 180.5 444.6 178C445.2 175.5 445.6 175.5 446.1 175.5C446.6 175.5 447 176.3 447.6 178C448.2 179.7 448.9 182.6 449.8 185.6C450.6 188.5 451.6 192.7 452.7 195.6C453.8 198.6 454.9 201.1 456.4 203.2C457.9 205.3 459.1 207.1 461.5 208.2C464 209.4 460.3 209.8 471.1 210.2C481.9 210.7 517.1 210.7 526.3 210.7" stroke="#f0de30"/>
<path d="M438 222.8C438.1 220.5 438.5 212.6 438.7 208.7C439 204.8 439.3 201.3 439.6 199.4C439.9 197.5 440.1 196.7 440.5 197.2C440.9 197.6 441.5 200 442 201.9C442.6 203.9 443.2 206.8 443.7 208.7C444.3 210.6 444.8 212.2 445.4 213.3C445.9 214.4 446.5 215.7 447 215.3C447.5 214.9 447.9 212.2 448.3 210.7C448.7 209.3 449.1 207.1 449.4 206.7C449.7 206.3 450.1 207.6 450.4 208.2C450.7 208.9 450.9 211 451.2 210.7C451.6 210.5 451.9 208.6 452.2 207C452.5 205.4 452.7 203.7 453.2 201.2C453.7 198.6 454.5 194.3 455.1 191.6C455.8 188.9 456.6 186.1 457.1 185.1C457.7 184.1 458 184.4 458.6 185.6C459.2 186.7 460 189.8 460.8 191.9C461.7 194 462.4 196.3 463.8 198.2C465.1 200 467.1 202 468.9 203.2C470.7 204.4 471.4 204.8 474.8 205.2C478.2 205.6 480.9 205.6 489.5 205.7C498.1 205.8 520.2 205.7 526.3 205.7" stroke="#8250f0"/>
<path d="M438 222.8C438.4 219.1 439.5 206.5 440.2 200.7C440.9 194.9 441.7 192.1 442.4 188.1C443.2 184.1 443.9 179.3 444.6 176.8C445.4 174.2 446.2 173.2 446.8 173C447.4 172.8 447.7 173.8 448.3 175.5C448.9 177.2 449.7 180.3 450.5 183.1C451.4 185.8 452.3 189.1 453.5 191.9C454.6 194.6 455.7 197.3 457.1 199.4C458.6 201.5 460 203 462.3 204.5C464.6 205.9 460.4 207.4 471.1 208.2C481.8 209.1 517.1 209.3 526.3 209.5" stroke="#b8906c"/>
<path d="M438 222.8C438.4 220.4 439.5 212.3 440.2 208.2C440.9 204.1 441.7 201.9 442.4 198.2C443.2 194.4 443.9 189.1 444.6 185.6C445.4 182 446.2 178.4 446.8 176.8C447.4 175.1 447.8 175.3 448.3 175.5C448.8 175.7 449.2 176.3 449.8 178C450.4 179.7 451.1 182.8 452 185.6C452.8 188.3 453.8 191.9 454.9 194.4C456 196.9 457.1 198.8 458.6 200.7C460.1 202.6 461.1 204.2 463.8 205.7C466.5 207.2 464.4 208.7 474.8 209.5C485.2 210.2 517.7 210.1 526.3 210.2" stroke="#a69428"/>
<path d="M438 222.8C438.4 219.6 439.5 208.6 440.2 203.2C440.9 197.8 441.7 195.2 442.4 190.6C443.2 186 443.9 179.7 444.6 175.5C445.3 171.3 446 167.4 446.5 165.4C447 163.5 447.1 163.3 447.6 163.7C448 164.1 448.4 165.6 449 168C449.7 170.3 450.4 174.7 451.2 178C452.1 181.4 453.1 185.2 454.2 188.1C455.3 191 456.4 193.3 457.9 195.6C459.3 198 460.8 200.3 463 201.9C465.2 203.6 467.9 204.9 471.1 205.7C474.3 206.6 473 206.8 482.1 207C491.3 207.2 518.9 207 526.3 207" stroke="#4f74c4"/>
<path d="M438 222.8C438.2 219.6 439 208.6 439.5 203.2C440 197.8 440.5 195.6 440.9 190.6C441.4 185.6 441.9 177.6 442.4 173C442.9 168.4 443.5 165.2 443.9 162.9C444.3 160.6 444.6 159.1 445 159.1C445.4 159.1 445.7 160.6 446.1 162.9C446.5 165.2 447 169.2 447.6 173C448.2 176.8 448.9 181.8 449.8 185.6C450.6 189.4 451.5 192.7 452.7 195.6C453.9 198.6 455.3 201.1 457.1 203.2C459 205.3 460.8 207.1 463.8 208.2C466.7 209.4 464.4 209.8 474.8 210.2C485.2 210.7 517.7 210.7 526.3 210.7" stroke="#3a24a8"/>
<path d="M438 222.8C438.2 220.4 439 214 439.5 208.2C440 202.4 440.5 194.4 440.9 188.1C441.4 181.8 441.9 175.1 442.4 170.5C442.9 165.9 443.5 162.5 443.9 160.4C444.3 158.3 444.3 157.9 444.6 157.9C444.9 157.9 445.2 157.5 445.7 160.4C446.2 163.3 446.9 170.9 447.6 175.5C448.2 180.1 448.9 184.3 449.8 188.1C450.6 191.9 451.6 195.6 452.7 198.2C453.8 200.7 454.9 201.9 456.4 203.2C457.9 204.5 459.1 205.2 461.5 205.7C464 206.2 460.3 206.2 471.1 206.2C481.9 206.2 517.1 205.8 526.3 205.7" stroke="#b4b4fa"/>
<path d="M438 222.8C438.2 222.5 439 222.4 439.5 220.8C440 219.2 440.3 215.4 440.9 213.3C441.6 211.2 442.4 209.5 443.2 208.2C443.9 207 444.5 206.6 445.4 205.7C446.2 204.9 447.3 204.5 448.3 203.2C449.3 201.9 450.3 201.5 451.2 198.2C452.2 194.8 453.2 188.5 454.2 183.1C455.2 177.6 456.3 169.5 457.1 165.4C458 161.3 458.7 159.6 459.3 158.4C460 157.1 460.3 157.6 460.8 157.9C461.3 158.2 461.7 158.3 462.3 160.4C462.9 162.5 463.6 166.3 464.5 170.5C465.3 174.7 466.3 181 467.4 185.6C468.5 190.2 469.9 195 471.1 198.2C472.3 201.3 473.2 202.8 474.8 204.5C476.4 206.1 478.2 207.4 480.7 208.2C483.1 209.1 481.9 209.3 489.5 209.5C497.1 209.7 520.2 209.5 526.3 209.5" stroke="#ff9a2e"/>
</g>
<text x="438" y="238" font-family="'Liberation Sans', Arial, sans-serif" font-size="3.9" fill="#161616" text-anchor="middle">0</text>
<text x="452.7" y="238" font-family="'Liberation Sans', Arial, sans-serif" font-size="3.9" fill="#161616" text-anchor="middle">20</text>
<text x="467.4" y="238" font-family="'Liberation Sans', Arial, sans-serif" font-size="3.9" fill="#161616" text-anchor="middle">40</text>
<text x="482.1" y="238" font-family="'Liberation Sans', Arial, sans-serif" font-size="3.9" fill="#161616" text-anchor="middle">60</text>
<text x="496.9" y="238" font-family="'Liberation Sans', Arial, sans-serif" font-size="3.9" fill="#161616" text-anchor="middle">80</text>
<text x="511.6" y="238" font-family="'Liberation Sans', Arial, sans-serif" font-size="3.9" fill="#161616" text-anchor="middle">100</text>
<text x="526.3" y="238" font-family="'Liberation Sans', Arial, sans-serif" font-size="3.9" fill="#161616" text-anchor="middle">120</text>
<text x="436.7" y="234.6" font-family="'Liberation Sans', Arial, sans-serif" font-size="3.9" fill="#161616" text-anchor="end">0.5</text>
<text x="436.7" y="222" font-family="'Liberation Sans', Arial, sans-serif" font-size="3.9" fill="#161616" text-anchor="end">1</text>
<text x="436.7" y="209.4" font-family="'Liberation Sans', Arial, sans-serif" font-size="3.9" fill="#161616" text-anchor="end">1.5</text>
<text x="436.7" y="196.8" font-family="'Liberation Sans', Arial, sans-serif" font-size="3.9" fill="#161616" text-anchor="end">2</text>
<text x="436.7" y="184.3" font-family="'Liberation Sans', Arial, sans-serif" font-size="3.9" fill="#161616" text-anchor="end">2.5</text>
<text x="436.7" y="171.7" font-family="'Liberation Sans', Arial, sans-serif" font-size="3.9" fill="#161616" text-anchor="end">3</text>
<text x="436.7" y="159.1" font-family="'Liberation Sans', Arial, sans-serif" font-size="3.9" fill="#161616" text-anchor="end">3.5</text>
<text x="436.7" y="146.5" font-family="'Liberation Sans', Arial, sans-serif" font-size="3.9" fill="#161616" text-anchor="end">4</text>
<text x="482.1" y="242.7" font-family="'Liberation Sans', Arial, sans-serif" font-size="3.75" fill="#161616" text-anchor="middle">Iterations</text>
<text transform="translate(429.3 185) rotate(-90)" x="-18.2" font-family="'Liberation Sans', Arial, sans-serif" font-size="3.6" fill="#161616" textLength="36.5" lengthAdjust="spacingAndGlyphs">Distance to Nearest Robot</text>
<rect x="501.2" y="147.5" width="22.8" height="40.5" fill="#fff" stroke="#9a9a9a" stroke-width="0.3"/>
<path d="M502.3 150.4h10.2" stroke="#62b0ff" stroke-width="0.6" fill="none"/>
<text x="513.8" y="151.5" font-family="'Liberation Sans', Arial, sans-serif" font-size="3.3" fill="#161616">robot1</text>
<path d="M502.3 154.8h10.2" stroke="#ff9a2e" stroke-width="0.6" fill="none"/>
<text x="513.8" y="155.8" font-family="'Liberation Sans', Arial, sans-serif" font-size="3.3" fill="#161616">robot2</text>
<path d="M502.3 159.1h10.2" stroke="#f0de30" stroke-width="0.6" fill="none"/>
<text x="513.8" y="160.2" font-family="'Liberation Sans', Arial, sans-serif" font-size="3.3" fill="#161616">robot3</text>
<path d="M502.3 163.4h10.2" stroke="#8250f0" stroke-width="0.6" fill="none"/>
<text x="513.8" y="164.5" font-family="'Liberation Sans', Arial, sans-serif" font-size="3.3" fill="#161616">robot4</text>
<path d="M502.3 167.8h10.2" stroke="#4f74c4" stroke-width="0.6" fill="none"/>
<text x="513.8" y="168.8" font-family="'Liberation Sans', Arial, sans-serif" font-size="3.3" fill="#161616">robot5</text>
<path d="M502.3 172.1h10.2" stroke="#b8906c" stroke-width="0.6" fill="none"/>
<text x="513.8" y="173.2" font-family="'Liberation Sans', Arial, sans-serif" font-size="3.3" fill="#161616">robot6</text>
<path d="M502.3 176.4h10.2" stroke="#a69428" stroke-width="0.6" fill="none"/>
<text x="513.8" y="177.5" font-family="'Liberation Sans', Arial, sans-serif" font-size="3.3" fill="#161616">robot7</text>
<path d="M502.3 180.8h10.2" stroke="#3a24a8" stroke-width="0.6" fill="none"/>
<text x="513.8" y="181.8" font-family="'Liberation Sans', Arial, sans-serif" font-size="3.3" fill="#161616">robot8</text>
<path d="M502.3 185.1h10.2" stroke="#b4b4fa" stroke-width="0.6" fill="none"/>
<text x="513.8" y="186.1" font-family="'Liberation Sans', Arial, sans-serif" font-size="3.3" fill="#161616">robot9</text>
</g>
</g>
<text x="2" y="125.2" font-family="'Liberation Serif', 'Times New Roman', serif" font-size="9.4" fill="#111" textLength="125.2" lengthAdjust="spacingAndGlyphs"><tspan font-weight="bold" font-size="11.4">(a)</tspan><tspan dx="-0.6"> Distribution of robots (<tspan font-style="italic">k</tspan> = 0)</tspan></text>
<text x="141.4" y="124.8" font-family="'Liberation Serif', 'Times New Roman', serif" font-size="9.4" fill="#111" textLength="129.7" lengthAdjust="spacingAndGlyphs"><tspan font-weight="bold" font-size="11.4">(b)</tspan><tspan dx="-0.6"> Distribution of robots (<tspan font-style="italic">k</tspan> = 31)</tspan></text>
<text x="281.5" y="124.8" font-family="'Liberation Serif', 'Times New Roman', serif" font-size="9.4" fill="#111" textLength="131.7" lengthAdjust="spacingAndGlyphs"><tspan font-weight="bold" font-size="11.4">(c)</tspan><tspan dx="-0.6"> Distribution of robots (<tspan font-style="italic">k</tspan> = 119)</tspan></text>
<text x="421.3" y="124.6" font-family="'Liberation Serif', 'Times New Roman', serif" font-size="9.4" fill="#111" textLength="116.3" lengthAdjust="spacingAndGlyphs"><tspan font-weight="bold" font-size="11.4">(d)</tspan><tspan dx="-0.6"> Gaussian density function</tspan></text>
<text x="2.5" y="257.6" font-family="'Liberation Serif', 'Times New Roman', serif" font-size="9.4" fill="#111" textLength="131.5" lengthAdjust="spacingAndGlyphs"><tspan font-weight="bold" font-size="11.4">(e)</tspan><tspan dx="-0.6"> The cost function of the system</tspan></text>
<text x="155.9" y="257.6" font-family="'Liberation Serif', 'Times New Roman', serif" font-size="9.4" fill="#111" textLength="87.2" lengthAdjust="spacingAndGlyphs"><tspan font-weight="bold" font-size="11.4">(f)</tspan><tspan dx="-0.6"> Position error map</tspan></text>
<text x="281.5" y="257.6" font-family="'Liberation Serif', 'Times New Roman', serif" font-size="9.4" fill="#111" textLength="115.7" lengthAdjust="spacingAndGlyphs"><tspan font-weight="bold" font-size="11.4">(g)</tspan><tspan dx="-0.6"> Area ratio of Voronoi cells</tspan></text>
<text x="421.3" y="257.6" font-family="'Liberation Serif', 'Times New Roman', serif" font-size="9.4" fill="#111" textLength="125.8" lengthAdjust="spacingAndGlyphs"><tspan font-weight="bold" font-size="11.4">(h)</tspan><tspan dx="-0.6"> Distance to the nearest robot</tspan></text>
</svg>
</body></html>
